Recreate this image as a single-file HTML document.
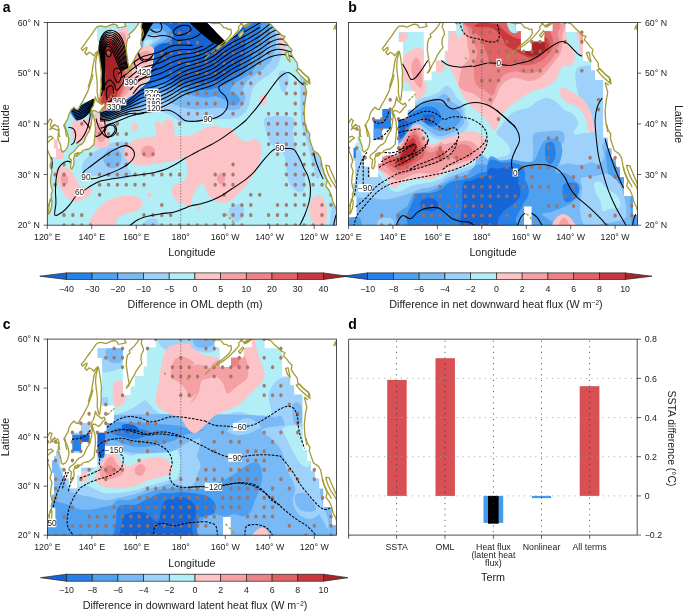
<!DOCTYPE html>
<html><head><meta charset="utf-8"><title>Figure</title>
<style>
html,body{margin:0;padding:0;background:#fff;}
svg{display:block;font-family:"Liberation Sans",sans-serif;fill:#222;}
.tk{font-size:8.8px;}
.ax{font-size:10.75px;}
.pl{font-size:14px;font-weight:bold;fill:#000;}
.cl{font-size:8.2px;}
.fr{fill:none;stroke:#222;stroke-width:0.8;}
.t{stroke:#222;stroke-width:0.7;fill:none;}
.cn{fill:none;stroke:#000;stroke-width:1.05;stroke-linejoin:round;}
.cd{fill:none;stroke:#000;stroke-width:1.05;stroke-dasharray:2.6 1.3;}
.co{fill:none;stroke:#a39c38;stroke-width:1.3;stroke-linejoin:round;}
.dt{fill:#a0705f;fill-opacity:0.85;}
</style></head><body>
<svg width="685" height="612" viewBox="0 0 685 612">
<rect width="685" height="612" fill="#fff"/>

<g>
<clipPath id="clipa"><rect x="47.3" y="22.5" width="289.1" height="202.7"/></clipPath>
<g clip-path="url(#clipa)">
<rect x="47" y="22" width="290" height="204" fill="#b2eef6"/>
<path d="M99.6 112.3 L114 108 L128.8 98 L139 90 L144 86 L150 80 L152.2 68 L154 58 L154.3 48.5 L149 46 L143.4 42 L141.5 35 L142 20 L277.2 20 L280 31.7 L283 43.4 L281.6 55 L277.2 66.7 L268.5 75.5 L265.1 77 L258.1 82.3 L252.9 87.5 L251.1 94.5 L249.3 105 L245.8 112 L238.8 117.3 L230 119 L219.6 119 L209 120.8 L195 121.7 L181 122.6 L170.5 115.6 L160 110.3 L146.3 112.3 L134.6 113.8 L121.5 116.7 L108.4 122.6 L101 121Z" fill="#9ed2fa"/>
<path d="M83 162.6C84.4 159.4 88.3 156.5 91.7 153.8C95.1 151.1 99.5 148.4 103.4 146.5C107.3 144.5 111.2 142.8 115.1 142.1C119 141.4 123.6 141.1 126.8 142.1C129.9 143.1 133.1 145.3 134.1 148C135 150.6 133.8 155.3 132.6 158.2C131.4 161.1 127 163 126.8 165.5C126.5 167.9 131.1 170.6 131.1 172.8C131.1 175 129.4 177.6 126.8 178.6C124.1 179.6 119 179.1 115.1 178.6C111.2 178.1 107.3 176.2 103.4 175.7C99.5 175.2 95.1 176.2 91.7 175.7C88.3 175.2 84.4 175 83 172.8C81.5 170.6 81.5 165.7 83 162.6Z" fill="#9ed2fa"/>
<path d="M229.9 207.9C231.1 206.5 234 205.5 236.1 204.8C238.1 204.1 240.8 202.9 242.2 203.8C243.6 204.6 244.2 207.5 244.2 209.9C244.2 212.3 243.6 216.1 242.2 218.1C240.8 220.1 237.9 222.2 236.1 222.2C234.2 222.2 232.1 219.6 230.9 218.1C229.8 216.6 229.1 214.7 228.9 213C228.7 211.3 228.7 209.2 229.9 207.9Z" fill="#9ed2fa"/>
<path d="M146.1 220.1C148.2 218.3 154.3 217.4 156.4 219.1C158.4 220.8 160.4 228.5 158.4 230.4C156.4 232.2 146.1 232.1 144.1 230.4C142 228.7 144.1 222 146.1 220.1Z" fill="#9ed2fa"/>
<path d="M265.5 117.8C261.2 120.4 265.7 128.8 266.6 133.1C267.6 137.5 269.2 141.5 271 144.1C272.8 146.6 275.4 146.6 277.6 148.5C279.8 150.3 282.7 151.8 284.2 155C285.6 158.3 285.6 163.8 286.4 168.2C287.1 172.6 287.1 177.7 288.5 181.3C290 185 292.9 188.2 295.1 190.1C297.3 191.9 300 193 301.7 192.3C303.3 191.5 304.6 189 305 185.7C305.3 182.4 304.8 176.9 303.9 172.6C303 168.2 300.9 163.8 299.5 159.4C298 155 296.2 150.7 295.1 146.3C294 141.9 293.3 137.9 292.9 133.1C292.6 128.4 297.5 120.4 292.9 117.8C288.4 115.3 269.9 115.3 265.5 117.8Z" fill="#9ed2fa"/>
<path d="M303.9 117.8C304.6 115.3 307.9 114.5 309.3 117.8C310.8 121.1 311 131.3 312.6 137.5C314.3 143.7 317.7 149.6 319.2 155C320.7 160.5 321.8 166.4 321.4 170.4C321 174.4 318.5 180.2 317 179.1C315.5 178 314.1 169.3 312.6 163.8C311.2 158.3 309.5 151.4 308.2 146.3C307 141.2 305.7 137.9 305 133.1C304.2 128.4 303.1 120.4 303.9 117.8Z" fill="#9ed2fa"/>
<path d="M278.7 72.6C279.8 70.2 284.7 70 286.4 71.5C288 72.9 288.9 77.8 288.5 81.3C288.2 84.8 285.6 91.5 284.2 92.3C282.7 93 280.7 89 279.8 85.7C278.9 82.4 277.6 74.9 278.7 72.6Z" fill="#9ed2fa"/>
<path d="M300.6 74.7C301.3 66.4 305 66.4 306.1 74.7C307.2 83.1 307.9 116.7 307.2 125.1C306.4 133.5 302.8 133.5 301.7 125.1C300.6 116.7 299.9 83.1 300.6 74.7Z" fill="#9ed2fa"/>
<path d="M332.3 203.2C333.2 199.9 334.9 203.6 335.6 207.6C336.4 211.6 337.6 224 336.7 227.3C335.8 230.6 330.9 231.3 330.1 227.3C329.4 223.3 331.4 206.5 332.3 203.2Z" fill="#9ed2fa"/>
<path d="M99.6 112.3 L114 108 L128.8 98 L139 90 L144 86 L150 80 L152.2 68 L154 58 L154.3 48.5 L149 46 L143.4 42 L141.5 35 L142 20 L272.8 20 L275.8 34.6 L275.8 49.2 L271.4 60.9 L262.6 69.6 L254.6 75.3 L247.6 80.5 L242.3 89.3 L245.8 96.3 L244.1 103.3 L238.8 109.4 L230 110.3 L219.6 107.7 L209 108.5 L195 109.4 L182.8 107.7 L170.5 103.3 L160 98 L146 106 L134.6 111 L121.5 114.5 L108.4 120.5 L101 119.5Z" fill="#78b9f6"/>
<path d="M103.4 156.7C104 154 106.8 150.6 109.2 149.4C111.7 148.2 115.9 148.2 118 149.4C120 150.6 121.3 154 121.5 156.7C121.7 159.4 121 163.5 119.5 165.5C117.9 167.4 114.4 168.4 112.2 168.4C109.9 168.4 107.2 167.4 105.7 165.5C104.3 163.5 102.8 159.4 103.4 156.7Z" fill="#78b9f6"/>
<path d="M99.6 112.3 L114 108 L128.8 98 L139 90 L144 86 L150 80 L152.2 68 L154 58 L154.3 48.5 L149 46 L143.4 42 L141.5 35 L142 20 L268.5 20 L269.9 34.6 L267 47.7 L259.7 60 L251.1 73.5 L242.3 78.8 L233.6 84 L230 91 L237 94.5 L240.6 99.8 L237 105 L230 105 L224.8 99.8 L216 96.3 L205.5 98 L195 96.3 L182.8 92.8 L170.5 91.9 L160 91 L146 100 L134.6 108 L121.5 112.5 L108.4 118.5 L101 118Z" fill="#50a0f0"/>
<path d="M99.6 112.3 L114 108 L128.8 98 L139 90 L144 86 L150 80 L152.2 68 L154 58 L154.3 48.5 L149 46 L143.4 42 L141.5 35 L142 20 L261.2 20 L259.7 37.5 L255.3 47.7 L250 62 L244.1 73.5 L235.3 78.8 L226.6 84 L217.8 87.5 L209 90.1 L198.5 90.1 L186.3 87.5 L174 85.8 L160 84.5 L146 94 L134.6 104.5 L121.5 110.5 L108.4 116.5 L101 116.5Z" fill="#2580e8"/>
<path d="M69.1 108.4C69.5 105.9 75.5 107.3 78.6 106.2C81.6 105.1 84.8 103.1 87.3 101.8C89.9 100.5 92.5 97.7 93.9 98.1C95.3 98.6 96.5 102.2 95.8 104.7C95.1 107.3 91.6 111.2 89.5 113.5C87.4 115.8 85.4 117.4 83.2 118.6C81.1 119.8 78.7 122.5 76.4 120.8C74 119.1 68.7 110.8 69.1 108.4Z" fill="#2580e8"/>
<path d="M99.6 112.3 L114 108 L128.8 98 L139 90 L144 86 L150 80 L152.2 68 L154 58 L154.3 48.5 L149 46 L143.4 42 L141.5 35 L142 20 L246.6 20 L245.1 31.7 L245 55 L238.8 70 L230 75.3 L217.8 80.5 L205.5 84 L191.5 83.1 L177.5 80.5 L165 78.5 L152 83 L146 90 L134.6 101.5 L121.5 108.5 L108.4 114.5 L101 115Z" fill="#1565d6"/>
<path d="M72 110.5C72.4 108.9 76.8 109.5 79.3 108.4C81.9 107.3 85 105.3 87.3 104C89.6 102.6 92 100.3 93.2 100.3C94.3 100.3 95.1 102.2 94.3 104C93.6 105.8 90.7 109.2 88.8 111.3C86.8 113.3 84.7 115.2 82.7 116.4C80.7 117.6 78.6 119.3 76.8 118.3C75 117.3 71.6 112.2 72 110.5Z" fill="#1565d6"/>
<path d="M150.2 25C152.9 23.3 158.7 23.5 161.9 23.8C165 24.2 166.9 25.6 168.9 27.3C170.8 29.1 173.3 32 173.5 34.4C173.7 36.7 171.6 39.9 170 41.4C168.5 42.8 166.1 42.5 164.2 43.1C162.3 43.7 160.3 43.8 158.4 44.9C156.4 45.9 154.5 48.2 152.5 49.5C150.6 50.9 148.4 52.8 146.7 53C144.9 53.2 142.8 52.6 142 50.7C141.2 48.8 141.4 44.1 142 41.4C142.6 38.6 144.1 37.1 145.5 34.4C146.9 31.6 147.5 26.8 150.2 25Z" fill="#50a0f0"/>
<path d="M149 30.8C151.5 28.7 155.6 28.3 158.4 28.5C161.1 28.7 163.8 30.5 165.4 32C166.9 33.6 168.3 36.3 167.7 37.9C167.1 39.4 164 40.2 161.9 41.4C159.7 42.5 157.2 43.3 154.9 44.9C152.5 46.4 149.8 49.9 147.8 50.7C145.9 51.5 144 51.1 143.2 49.5C142.4 48 142.2 44.5 143.2 41.4C144.1 38.2 146.5 33 149 30.8Z" fill="#78b9f6"/>
<path d="M146.7 36.7C148.5 35.5 152.5 34.4 154.9 34.4C157.2 34.4 160.1 35.7 160.7 36.7C161.3 37.7 159.9 38.8 158.4 40.2C156.8 41.6 153.5 43.3 151.4 44.9C149.2 46.4 146.8 49.1 145.5 49.5C144.2 49.9 143.7 48.6 143.4 47.2C143.1 45.8 143.2 43.1 143.8 41.4C144.3 39.6 144.8 37.9 146.7 36.7Z" fill="#9ed2fa"/>
<path d="M144.3 41.4C145.4 40 148.8 39.6 150.2 39.6C151.5 39.6 152.9 40.3 152.5 41.4C152.1 42.4 149.2 45 147.8 46C146.4 47.1 144.7 48.6 144.1 47.8C143.5 47 143.3 42.7 144.3 41.4Z" fill="#b2eef6"/>
<path d="M101.1 39C102.5 36.5 105.7 36.1 108.4 34.6C111 33.1 114 31.2 117.1 30.2C120.3 29.2 125.4 27.5 127.3 28.8C129.3 30 127.8 35.1 128.8 37.5C129.8 40 131.6 41.8 133.2 43.4C134.8 44.9 135.6 46.6 138.3 47C141 47.4 146.7 45.2 149.2 45.5C151.8 45.9 153 47.1 153.6 49.2C154.2 51.3 153.2 55 152.9 58C152.5 60.9 151.8 64.3 151.4 66.7C151.1 69.1 151.1 70.6 150.7 72.6C150.3 74.5 150.5 76.4 149.2 78.4C148 80.3 145.1 82.3 143.4 84.2C141.7 86.2 140.5 88.4 139 90.1C137.6 91.8 136.3 93.2 134.6 94.5C132.9 95.7 130.7 96.2 128.8 97.4C126.8 98.6 125.4 100 123 101.8C120.5 103.5 118.1 105.9 114.2 107.6C110.3 109.3 102.5 111.2 99.6 112C96.7 112.7 97.2 114 96.7 112.3C96.2 110.6 96.2 105.7 96.7 101.8C97.2 97.8 98.7 92.5 99.6 88.6C100.5 84.7 101.5 81.8 101.8 78.4C102 75 101.5 71.6 101.1 68.2C100.6 64.8 99.1 61.1 98.9 58C98.6 54.8 99.2 52.4 99.6 49.2C100 46 99.6 41.4 101.1 39Z" fill="#fcc4c6"/>
<path d="M93.8 123.3C94.9 119.5 98.6 122.8 100.3 123.3C102 123.8 102.9 124.6 104 126.2C105.1 127.8 105.9 130.5 106.9 132.8C107.9 135.1 109.6 137.9 109.8 140.1C110.1 142.3 109.6 144.7 108.4 145.9C107.1 147.1 105 147.4 102.5 147.4C100.1 147.4 95.2 149.9 93.8 145.9C92.3 141.9 92.7 127.1 93.8 123.3Z" fill="#fcc4c6"/>
<path d="M131.7 124.7C132.2 123.6 133.7 122.6 134.6 122.6C135.6 122.6 137.1 123.6 137.6 124.7C138 125.8 138 128 137.6 129.1C137.1 130.2 135.6 131.3 134.6 131.3C133.7 131.3 132.5 130.2 132 129.1C131.5 128 131.3 125.8 131.7 124.7Z" fill="#fcc4c6"/>
<path d="M155.1 123.3C155.4 121.6 157 121 158 121.1C159 121.2 160.4 122.3 160.9 124C161.4 125.7 161.3 129.6 160.9 131.3C160.5 133 159.6 134.2 158.7 134.2C157.9 134.2 156.4 133.1 155.8 131.3C155.2 129.5 154.7 125 155.1 123.3Z" fill="#fcc4c6"/>
<path d="M162.4 124C163.1 121.6 165 120.1 166.8 119.6C168.5 119.1 171.3 119.6 172.6 121.1C173.9 122.6 174.1 126 174.3 128.4C174.6 130.8 173.4 134 174.1 135.7C174.7 137.4 176.2 138.1 178.4 138.6C180.6 139.1 185.7 136.4 187.2 138.6C188.6 140.8 196.9 149.6 187.2 151.8C177.5 153.9 138.3 153 128.8 151.8C119.3 150.5 129 146.2 130.3 144.5C131.5 142.7 133.9 142.5 136.1 141.5C138.3 140.6 141 139.3 143.4 138.6C145.8 137.9 148.3 137.5 150.7 137.2C153.1 136.8 156 136.9 158 136.4C159.9 135.9 161.6 136.3 162.4 134.2C163.1 132.2 161.6 126.4 162.4 124Z" fill="#fcc4c6"/>
<path d="M133.9 140.4C137.4 138.6 142.7 138.1 146.1 137.4C149.5 136.7 152.3 137.9 154.3 136.4C156.4 134.8 157.9 130.4 158.4 128.2C158.9 126 157 124.1 157.4 123.1C157.7 122 159.6 120.9 160.4 122C161.3 123.2 161.6 129.9 162.5 130.2C163.3 130.6 164.5 125.6 165.5 124.1C166.6 122.6 167.4 120.7 168.6 121C169.8 121.4 171.7 123.9 172.7 126.1C173.7 128.3 173.4 132.6 174.7 134.3C176.1 136 178.2 136.2 180.9 136.4C183.6 136.5 188 136.2 191.1 135.3C194.2 134.5 196.5 132.6 199.3 131.2C202 129.9 204.7 128 207.4 127.2C210.2 126.3 212.9 126 215.6 126.1C218.3 126.3 221.4 128 223.8 128.2C226.2 128.3 227.9 126.1 229.9 127.2C232 128.2 234 132.1 236.1 134.3C238.1 136.5 240.1 139.2 242.2 140.4C244.2 141.6 246.3 141.8 248.3 141.5C250.4 141.1 252.6 138.2 254.5 138.4C256.3 138.6 258.4 140.4 259.6 142.5C260.8 144.5 261.6 147.6 261.6 150.7C261.6 153.7 260.6 157.5 259.6 160.9C258.5 164.3 257 168 255.5 171.1C253.9 174.2 252.2 176.5 250.4 179.3C248.5 182 246.4 184.9 244.2 187.4C242 190 239.5 192.4 237.1 194.6C234.7 196.8 232.5 199.4 229.9 200.7C227.4 202.1 224.5 202.9 221.8 202.8C219 202.6 216 201.2 213.6 199.7C211.2 198.2 209 196 207.4 193.6C205.9 191.2 205.6 186.9 204.4 185.4C203.2 183.9 201.7 183.7 200.3 184.4C198.9 185.1 197.6 187.3 196.2 189.5C194.8 191.7 193 194.9 192.1 197.7C191.3 200.4 191.8 204.3 191.1 205.8C190.4 207.4 189.2 207.2 188 206.9C186.8 206.5 185.6 204.6 183.9 203.8C182.2 202.9 179.7 203.1 177.8 201.8C175.9 200.4 173.7 197.7 172.7 195.6C171.7 193.6 171.2 191.4 171.7 189.5C172.2 187.6 173.7 185.7 175.8 184.4C177.8 183 182.1 183 183.9 181.3C185.8 179.6 186.6 177.1 187 174.2C187.5 171.3 187.1 166.8 186.6 163.9C186.1 161 185.6 157.5 183.9 156.8C182.3 156.1 179.3 159 176.8 159.9C174.2 160.7 171.3 161.4 168.6 161.9C165.9 162.4 163.2 162.6 160.4 162.9C157.7 163.3 154.6 163.6 152.3 163.9C149.9 164.3 149.2 165 146.1 165C143.1 165 137.3 165 133.9 163.9C130.5 162.9 127.2 161.4 125.7 158.8C124.2 156.3 123.3 151.7 124.7 148.6C126 145.5 130.3 142.3 133.9 140.4Z" fill="#fcc4c6"/>
<path d="M147.2 193.6C147.4 192.8 149.5 192.2 150.2 192.6C150.9 192.9 151.5 194.8 151.2 195.6C151 196.4 149.3 197.6 148.6 197.3C147.9 196.9 146.9 194.4 147.2 193.6Z" fill="#fcc4c6"/>
<path d="M197.8 204.8C198.1 204.1 199.4 204.6 199.7 205.4C200 206.3 200 209.2 199.7 209.9C199.4 210.7 198.4 210.8 198 209.9C197.7 209.1 197.6 205.6 197.8 204.8Z" fill="#fcc4c6"/>
<path d="M56.7 168.4C58.1 166.2 62.8 166.2 65.4 166.9C68.1 167.7 70.8 170.3 72.7 172.8C74.7 175.2 75.4 179.1 77.1 181.5C78.8 184 80.5 186.2 83 187.4C85.4 188.6 90.5 187.6 91.7 188.8C92.9 190 91.7 193 90.3 194.7C88.8 196.4 85.6 197.8 83 199.1C80.3 200.3 76.9 202.2 74.2 202C71.5 201.7 69.1 199.8 66.9 197.6C64.7 195.4 62.8 191.8 61.1 188.8C59.4 185.9 57.4 183.5 56.7 180.1C55.9 176.7 55.2 170.6 56.7 168.4Z" fill="#fcc4c6"/>
<path d="M88.8 229.7C85.9 227.3 90.7 219.5 93.2 215.1C95.6 210.7 99.7 206.4 103.4 203.4C107 200.5 111.2 198.8 115.1 197.6C119 196.4 122.9 196.1 126.8 196.1C130.6 196.1 135.8 196.4 138.4 197.6C141.1 198.8 143.1 201.2 142.8 203.4C142.6 205.6 139.6 209 137 210.7C134.3 212.4 129.9 212.4 126.8 213.6C123.6 214.9 120.7 215.4 118 218C115.3 220.7 115.6 227.8 110.7 229.7C105.8 231.7 91.7 232.1 88.8 229.7Z" fill="#fcc4c6"/>
<path d="M148.6 193.2C149.3 193.1 151.3 194 151.6 194.7C151.8 195.3 150.7 196.9 150.1 197C149.5 197.2 148 196.2 147.8 195.5C147.5 194.9 148 193.4 148.6 193.2Z" fill="#fcc4c6"/>
<path d="M53.2 139.2 L61.1 139.2 L61.1 150.9 L53.2 150.9Z" fill="#fcc4c6"/>
<path d="M72.7 131.9 L83 131.9 L83 139.2 L72.7 139.2Z" fill="#fcc4c6"/>
<path d="M93.2 115.8C94.9 113.6 99.5 113.4 101.9 114.4C104.4 115.4 106.8 118.5 107.8 121.7C108.7 124.8 108.7 130.2 107.8 133.4C106.8 136.5 104.1 139.7 101.9 140.7C99.7 141.6 96.3 141.4 94.6 139.2C92.9 137 92 131.4 91.7 127.5C91.5 123.6 91.5 118 93.2 115.8Z" fill="#fcc4c6"/>
<path d="M309.3 207.6C309.5 203.9 311 200.8 312.6 198.8C314.3 196.8 317.2 195.2 319.2 195.5C321.2 195.9 323.4 198.3 324.7 201C325.9 203.8 326.7 208.3 326.9 212C327 215.6 327 220.7 325.8 222.9C324.5 225.1 321.6 225.5 319.2 225.1C316.8 224.7 313.2 223.6 311.5 220.7C309.9 217.8 309.2 211.2 309.3 207.6Z" fill="#fcc4c6"/>
<path d="M278.7 33.1C279.2 30.6 282 29.1 283.1 30.9C284.2 32.8 285.3 40.1 285.3 44.1C285.3 48.1 284 54.7 283.1 55C282.2 55.4 280.5 49.9 279.8 46.3C279.1 42.6 278.1 35.7 278.7 33.1Z" fill="#fcc4c6"/>
<path d="M260.1 96.6C261.1 95.4 264.5 93.7 265.5 94.5C266.6 95.2 267 99.2 266.6 101C266.3 102.8 264.5 105.2 263.4 105.4C262.2 105.6 260.2 103.6 259.6 102.1C259.1 100.7 259.1 97.9 260.1 96.6Z" fill="#fcc4c6"/>
<path d="M72.7 121.5C74.4 120.5 78.8 120.5 81.5 120C84.2 119.5 87.1 118.1 88.8 118.6C90.5 119.1 91.7 120.8 91.7 123C91.7 125.1 90 129 88.8 131.7C87.6 134.4 86.1 137.1 84.4 139C82.7 141 80.3 143.2 78.6 143.4C76.9 143.6 75.3 142.2 74.2 140.5C73.1 138.8 72.5 135.6 72 133.2C71.5 130.7 71.2 127.8 71.3 125.9C71.4 123.9 71 122.5 72.7 121.5Z" fill="#fcc4c6"/>
<path d="M101.8 41.9C103.1 39.8 105.9 38.2 108.4 36.8C110.8 35.3 113.7 33.7 116.4 33.1C119.1 32.5 122.7 31.7 124.4 33.1C126.1 34.6 125.9 38.7 126.6 41.9C127.3 45.1 127.7 49.7 128.8 52.1C129.9 54.5 131.5 56.3 133.2 56.5C134.9 56.7 137.3 54.4 139 53.6C140.7 52.7 141.7 51.8 143.4 51.4C145.1 51 148 50.5 149.2 51.4C150.5 52.2 150.9 54.7 150.7 56.5C150.5 58.3 149 61.1 147.8 62.3C146.6 63.6 144.9 63.8 143.4 63.8C141.9 63.8 140.5 62.1 139 62.3C137.6 62.6 135.9 63.8 134.6 65.3C133.4 66.7 132 68.9 131.7 71.1C131.5 73.3 133.2 76 133.2 78.4C133.2 80.8 132.7 83.3 131.7 85.7C130.7 88.1 129 90.8 127.3 93C125.6 95.2 123.7 96.5 121.5 98.8C119.3 101.2 117.6 105 114.2 107C110.8 109 103.7 110.1 101.1 110.8C98.4 111.5 98.3 114.9 98.1 111.2C98 107.5 99.6 94.1 100.3 88.6C101.1 83.1 102.3 81.8 102.5 78.4C102.8 75 102.3 71.6 101.8 68.2C101.3 64.8 99.8 61.1 99.6 58C99.4 54.8 100 51.9 100.3 49.2C100.7 46.5 100.5 44 101.8 41.9Z" fill="#f4a0a5"/>
<path d="M97.4 123.7C97.9 121 100 123.2 101.1 124C102.2 124.8 103.2 126.4 104 128.4C104.7 130.3 105.6 133.5 105.4 135.7C105.3 137.9 104.5 140.8 103.2 141.5C102 142.3 99.1 143 98.1 140.1C97.2 137.1 96.9 126.4 97.4 123.7Z" fill="#f4a0a5"/>
<path d="M142 148.6C143.1 147.1 146.1 145.5 148.2 145.5C150.2 145.5 153.3 147.1 154.3 148.6C155.3 150.1 155.3 153.2 154.3 154.7C153.3 156.3 150.2 157.8 148.2 157.8C146.1 157.8 143.1 156.3 142 154.7C141 153.2 141 150.1 142 148.6Z" fill="#f4a0a5"/>
<path d="M217.7 175.2C218.8 174 222.6 172.1 223.8 173.1C225 174.2 225.3 179.4 224.8 181.3C224.3 183.2 222 184.5 220.7 184.4C219.5 184.2 217.8 181.8 217.3 180.3C216.7 178.8 216.6 176.4 217.7 175.2Z" fill="#f4a0a5"/>
<path d="M61.1 175.7C61.9 174.4 65.8 174.5 66.9 175.7C68 176.9 68.6 181.7 67.8 183C66.9 184.3 63.1 184.8 61.9 183.6C60.8 182.4 60.2 177 61.1 175.7Z" fill="#f4a0a5"/>
<path d="M96.5 126.6C97.7 124.9 101.6 124 103 125.5C104.5 126.9 105.8 132.8 105.2 135.3C104.7 137.9 101.3 140.8 99.7 140.8C98.2 140.8 96.4 137.7 95.8 135.3C95.3 133 95.3 128.2 96.5 126.6Z" fill="#f4a0a5"/>
<path d="M102.5 43.4C103.7 41.5 106.2 39.6 108.4 38.2C110.5 36.9 113.5 35.6 115.7 35.3C117.8 35.1 120.2 35.2 121.5 36.8C122.8 38.4 123.1 41.8 123.7 44.8C124.3 47.9 124.5 51.9 125.1 55C125.8 58.2 126.7 61.1 127.3 63.8C127.9 66.5 128.8 68.2 128.8 71.1C128.8 74 128.1 78.2 127.3 81.3C126.6 84.5 125.6 87.4 124.4 90.1C123.2 92.7 122 94.7 120 97.4C118.1 100 116.1 103.9 112.7 106.1C109.3 108.3 101.5 113.4 99.6 110.5C97.7 107.6 100.5 94 101.1 88.6C101.7 83.3 103 81.8 103.2 78.4C103.5 75 103 71.6 102.5 68.2C102 64.8 100.6 61.1 100.3 58C100.1 54.8 100.7 51.6 101.1 49.2C101.4 46.8 101.3 45.2 102.5 43.4Z" fill="#ea8286"/>
<path d="M103.2 44.8C104.3 43.2 106.4 40.9 108.4 39.7C110.3 38.5 113.1 37.4 114.9 37.5C116.8 37.6 118.2 38.5 119.3 40.4C120.4 42.4 120.9 46.3 121.5 49.2C122.1 52.1 122.5 55 123 58C123.4 60.9 124.1 63.8 124.4 66.7C124.8 69.6 125.3 72.6 125.1 75.5C125 78.4 124.4 81.3 123.7 84.2C123 87.2 121.9 90.4 120.8 93C119.7 95.6 118.9 97.8 117.1 100C115.3 102.2 112.6 104.9 109.8 106.1C107 107.4 101.7 110.5 100.3 107.6C99 104.7 101.2 93.5 101.8 88.6C102.4 83.7 103.7 81.8 104 78.4C104.2 75 103.7 71.6 103.2 68.2C102.8 64.8 101.3 61.1 101.1 58C100.8 54.8 101.4 51.4 101.8 49.2C102.2 47 102.2 46.4 103.2 44.8Z" fill="#e06264"/>
<path d="M104 46.3C105 44.8 106.8 42.9 108.4 41.9C109.9 40.9 112 40 113.5 40.4C114.9 40.9 116.1 42.6 117.1 44.8C118.1 47 118.7 50.7 119.3 53.6C119.9 56.5 120.3 59.7 120.8 62.3C121.3 65 122 67 122.2 69.6C122.5 72.3 122.5 75.7 122.2 78.4C122 81.1 121.5 83.3 120.8 85.7C120 88.1 118.9 90.6 117.8 93C116.8 95.4 115.8 98.2 114.2 100C112.6 101.8 110.4 103.2 108.4 103.9C106.3 104.7 102.6 107.2 101.8 104.7C100.9 102.1 102.8 93 103.2 88.6C103.7 84.2 104.6 81.8 104.7 78.4C104.8 75 104.5 71.6 104 68.2C103.5 64.8 102 60.9 101.8 58C101.5 55 102.2 52.6 102.5 50.7C102.9 48.7 103 47.7 104 46.3Z" fill="#c8383c"/>
<path d="M103.2 49.2C104 47.4 105.6 46 106.9 45.5C108.2 45.1 110.1 45.2 111.3 46.3C112.5 47.4 113.3 49.7 114.2 52.1C115 54.5 115.8 58.2 116.4 60.9C117 63.6 117.5 65.7 117.8 68.2C118.2 70.6 118.7 73 118.6 75.5C118.5 77.9 117.8 80.3 117.1 82.8C116.4 85.2 115.4 87.9 114.2 90.1C113 92.3 111 94.5 109.8 95.9C108.6 97.4 107.9 99.3 106.9 98.8C105.9 98.3 104.2 95.7 104 93C103.7 90.3 105.2 86.2 105.4 82.8C105.7 79.4 105.7 75.7 105.4 72.6C105.2 69.4 104.5 66.5 104 63.8C103.5 61.1 102.6 58.9 102.5 56.5C102.4 54.1 102.5 51 103.2 49.2Z" fill="#a82428"/>
<path d="M97.4 28 L117.8 28 L116.4 31.7 L108.4 35.3 L101.1 39.7 L97.4 40.4Z" fill="#b2eef6"/>
<path d="M47.3 114.7 L64.3 114.7 L64.3 148.5 L62.5 155 L56.7 156.7 L47.3 156.7Z" fill="#fff"/>
<path d="M53.8 139.2 L57.8 139.2 L57.8 148.5 L63.7 148.5 L63.7 159.1 L56.1 159.1 L56.1 148.5 L53.8 148.5Z" fill="#fcc4c6"/>
<path d="M55.8 22.9 L96.7 22.9 L96.7 28 L97.4 40.4 L99.3 43.4 L99.3 68.2 L100.3 78.4 L98.9 90.1 L97.4 101.8 L55.8 101.8Z" fill="#fff"/>
<path d="M55.1 184.3v0.7M55.1 174.2v0.7M64 224.9v0.7M64 214.7v0.7M64 184.3v0.7M64 174.2v0.7M64 164.1v0.7M72.9 224.9v0.7M72.9 214.7v0.7M81.8 224.9v0.7M81.8 214.7v0.7M81.8 123.5v0.7M90.7 224.9v0.7M90.7 153.9v0.7M90.7 103.2v0.7M99.6 194.5v0.7M99.6 184.3v0.7M99.6 174.2v0.7M99.6 133.6v0.7M108.5 184.3v0.7M108.5 174.2v0.7M108.5 164.1v0.7M108.5 153.9v0.7M108.5 133.6v0.7M108.5 52.6v0.7M117.4 184.3v0.7M117.4 174.2v0.7M117.4 164.1v0.7M117.4 153.9v0.7M117.4 143.8v0.7M117.4 133.6v0.7M117.4 123.5v0.7M117.4 113.4v0.7M126.3 184.3v0.7M126.3 174.2v0.7M126.3 164.1v0.7M126.3 153.9v0.7M126.3 143.8v0.7M126.3 133.6v0.7M126.3 113.4v0.7M135.1 184.3v0.7M135.1 174.2v0.7M135.1 113.4v0.7M144 224.9v0.7M144 214.7v0.7M144 184.3v0.7M144 174.2v0.7M144 153.9v0.7M152.9 224.9v0.7M152.9 214.7v0.7M152.9 174.2v0.7M152.9 153.9v0.7M161.8 224.9v0.7M161.8 214.7v0.7M161.8 204.6v0.7M161.8 174.2v0.7M161.8 52.6v0.7M170.7 224.9v0.7M170.7 214.7v0.7M170.7 174.2v0.7M170.7 72.8v0.7M170.7 62.7v0.7M170.7 52.6v0.7M170.7 42.4v0.7M170.7 32.3v0.7M170.7 22.1v0.7M179.6 224.9v0.7M179.6 174.2v0.7M179.6 123.5v0.7M179.6 83v0.7M179.6 72.8v0.7M179.6 62.7v0.7M179.6 52.6v0.7M179.6 42.4v0.7M179.6 32.3v0.7M179.6 22.1v0.7M188.5 224.9v0.7M188.5 113.4v0.7M188.5 103.2v0.7M188.5 93.1v0.7M188.5 83v0.7M188.5 72.8v0.7M188.5 62.7v0.7M188.5 52.6v0.7M188.5 42.4v0.7M188.5 32.3v0.7M197.4 224.9v0.7M197.4 113.4v0.7M197.4 103.2v0.7M197.4 93.1v0.7M197.4 83v0.7M197.4 72.8v0.7M197.4 62.7v0.7M197.4 52.6v0.7M197.4 42.4v0.7M206.3 224.9v0.7M206.3 113.4v0.7M206.3 103.2v0.7M206.3 93.1v0.7M206.3 83v0.7M206.3 72.8v0.7M206.3 62.7v0.7M206.3 52.6v0.7M215.2 224.9v0.7M215.2 184.3v0.7M215.2 174.2v0.7M215.2 103.2v0.7M215.2 93.1v0.7M215.2 83v0.7M215.2 72.8v0.7M215.2 62.7v0.7M215.2 52.6v0.7M215.2 32.3v0.7M224.1 224.9v0.7M224.1 214.7v0.7M224.1 194.5v0.7M224.1 184.3v0.7M224.1 174.2v0.7M224.1 83v0.7M224.1 72.8v0.7M224.1 62.7v0.7M224.1 52.6v0.7M233 224.9v0.7M233 214.7v0.7M233 204.6v0.7M233 184.3v0.7M233 174.2v0.7M233 164.1v0.7M233 113.4v0.7M233 103.2v0.7M233 93.1v0.7M233 83v0.7M233 72.8v0.7M233 62.7v0.7M233 52.6v0.7M233 42.4v0.7M241.9 224.9v0.7M241.9 214.7v0.7M241.9 204.6v0.7M241.9 103.2v0.7M241.9 93.1v0.7M241.9 83v0.7M241.9 72.8v0.7M241.9 62.7v0.7M241.9 52.6v0.7M241.9 42.4v0.7M250.8 214.7v0.7M250.8 204.6v0.7M250.8 194.5v0.7M250.8 83v0.7M250.8 72.8v0.7M250.8 62.7v0.7M250.8 52.6v0.7M250.8 42.4v0.7M250.8 32.3v0.7M259.7 194.5v0.7M259.7 72.8v0.7M259.7 62.7v0.7M259.7 52.6v0.7M259.7 42.4v0.7M259.7 32.3v0.7M268.6 224.9v0.7M268.6 214.7v0.7M268.6 143.8v0.7M268.6 133.6v0.7M268.6 123.5v0.7M268.6 113.4v0.7M268.6 52.6v0.7M268.6 42.4v0.7M268.6 32.3v0.7M277.5 224.9v0.7M277.5 214.7v0.7M277.5 204.6v0.7M277.5 153.9v0.7M277.5 143.8v0.7M277.5 133.6v0.7M277.5 123.5v0.7M277.5 113.4v0.7M286.4 224.9v0.7M286.4 214.7v0.7M286.4 204.6v0.7M286.4 184.3v0.7M286.4 174.2v0.7M286.4 164.1v0.7M286.4 143.8v0.7M286.4 133.6v0.7M286.4 123.5v0.7M286.4 113.4v0.7M286.4 93.1v0.7M286.4 83v0.7M295.3 224.9v0.7M295.3 204.6v0.7M295.3 194.5v0.7M295.3 184.3v0.7M295.3 174.2v0.7M295.3 164.1v0.7M295.3 143.8v0.7M295.3 133.6v0.7M295.3 123.5v0.7M295.3 113.4v0.7M295.3 103.2v0.7M295.3 93.1v0.7M295.3 83v0.7M304.2 224.9v0.7M304.2 204.6v0.7M304.2 194.5v0.7M304.2 184.3v0.7M304.2 174.2v0.7M304.2 164.1v0.7M304.2 153.9v0.7M304.2 143.8v0.7M304.2 133.6v0.7M304.2 123.5v0.7M304.2 113.4v0.7M304.2 103.2v0.7M304.2 93.1v0.7M304.2 83v0.7M313.1 224.9v0.7M313.1 184.3v0.7M313.1 174.2v0.7M313.1 164.1v0.7M313.1 153.9v0.7M322 224.9v0.7M322 214.7v0.7M322 204.6v0.7M322 184.3v0.7M322 164.1v0.7M330.9 204.6v0.7M330.9 194.5v0.7" stroke="#a0705f" stroke-opacity="0.9" stroke-width="3.3" stroke-linecap="round" fill="none"/>
<path d="M180.7 22V226" stroke="#555" stroke-width="0.6" stroke-dasharray="1.5 1.5" fill="none"/>
<path class="cn" d="M100 121.1C101.7 120.9 106.7 121 110 120.2C113.3 119.4 116.7 117.6 120 116.5C123.3 115.4 126.7 113.9 130 113.5C133.3 113.1 136.6 114.6 140 114.1C143.4 113.6 147 111.7 150.5 110.6C154 109.5 157.5 108.8 161 107.4C164.5 106 168 104.2 171.5 102.2C175 100.3 178.5 97.5 182 95.7C185.5 94 189.1 92.9 192.6 91.7C196.1 90.5 199.5 89.5 203 88.3C206.5 87.1 210.1 86.3 213.6 84.7C217.1 83.1 220.5 80.8 224 78.7C227.5 76.6 231.1 74 234.6 72C238.1 70 240.8 69.1 245 66.8C249.2 64.5 255.8 60.5 260 58C264.2 55.4 267 53 270 51.5C273 50 275.3 49.4 278 49.2C280.7 49 283.7 50 286 50.5C288.3 51 291 51.8 292 52"/>
<path class="cn" d="M100 119.8C101.7 119.6 106.7 119.4 110 118.5C113.3 117.6 116.7 115.8 120 114.6C123.3 113.4 126.7 112 130 111.2C133.3 110.5 136.6 111 140 110.2C143.4 109.5 147 107.9 150.5 106.7C154 105.6 157.5 105 161 103.6C164.5 102.2 168 100.3 171.5 98.4C175 96.4 178.5 93.6 182 91.9C185.5 90.1 189.1 89.1 192.6 87.9C196.1 86.6 199.5 85.7 203 84.4C206.5 83.2 210.1 82.3 213.6 80.6C217.1 78.9 220.5 76.5 224 74.3C227.5 72.1 231.1 69.6 234.6 67.6C238.1 65.6 240.8 64.7 245 62.4C249.2 60.1 255.8 56.2 260 53.6C264.2 51 267 48.5 270 46.9C273 45.3 275.3 44.5 278 44.2C280.7 43.9 283.7 44.7 286 45C288.3 45.3 291 45.8 292 46"/>
<path class="cn" d="M100 118.6C101.7 118.3 106.7 117.8 110 116.8C113.3 115.8 116.7 114 120 112.7C123.3 111.4 126.7 110 130 109C133.3 108 136.6 107.4 140 106.4C143.4 105.4 147 104 150.5 102.9C154 101.8 157.5 101.1 161 99.7C164.5 98.3 168 96.5 171.5 94.5C175 92.5 178.5 89.8 182 88C185.5 86.2 189.1 85.2 192.6 84C196.1 82.8 199.5 81.9 203 80.6C206.5 79.3 210.1 78.3 213.6 76.5C217.1 74.7 220.5 72.1 224 69.9C227.5 67.7 231.1 65.2 234.6 63.2C238.1 61.2 240.8 60.3 245 58C249.2 55.7 255.8 51.8 260 49.2C264.2 46.6 267 44 270 42.3C273 40.6 275.3 39.7 278 39.2C280.7 38.7 283.7 39.4 286 39.5C288.3 39.6 291 39.9 292 40"/>
<path class="cn" d="M100 117.3C101.7 116.9 106.7 116.2 110 115.1C113.3 114 116.7 112.1 120 110.8C123.3 109.4 126.7 108.1 130 106.7C133.3 105.4 136.6 103.8 140 102.5C143.4 101.3 147 100.2 150.5 99C154 97.9 157.5 97.2 161 95.9C164.5 94.5 168 92.6 171.5 90.7C175 88.7 178.5 85.9 182 84.2C185.5 82.4 189.1 81.4 192.6 80.2C196.1 78.9 199.5 78 203 76.7C206.5 75.5 210.1 74.3 213.6 72.4C217.1 70.5 220.5 67.8 224 65.5C227.5 63.2 231.1 60.8 234.6 58.8C238.1 56.8 240.8 55.9 245 53.6C249.2 51.3 255.8 47.4 260 44.8C264.2 42.1 267 39.5 270 37.7C273 35.9 275.3 34.8 278 34.2C280.7 33.6 283.7 34 286 34C288.3 34 291 34 292 34"/>
<path class="cn" d="M100 116C101.7 115.6 106.7 114.6 110 113.4C113.3 112.2 116.7 110.3 120 108.8C123.3 107.4 126.7 106.2 130 104.5C133.3 102.8 136.6 100.2 140 98.7C143.4 97.1 147 96.3 150.5 95.2C154 94.1 157.5 93.4 161 92C164.5 90.6 168 88.8 171.5 86.8C175 84.9 178.5 82 182 80.3C185.5 78.5 189.1 77.5 192.6 76.3C196.1 75.1 199.5 74.2 203 72.9C206.5 71.6 210.1 70.3 213.6 68.3C217.1 66.3 220.5 63.4 224 61.1C227.5 58.8 231.1 56.4 234.6 54.4C238.1 52.4 240.8 51.5 245 49.2C249.2 46.9 255.8 43.1 260 40.4C264.2 37.7 267 35 270 33.1C273 31.2 276.7 29.9 278 29.2"/>
<path class="cn" d="M100 114.8C101.7 114.3 106.7 113 110 111.7C113.3 110.4 116.7 108.5 120 106.9C123.3 105.3 126.7 104.3 130 102.2C133.3 100.2 136.6 96.7 140 94.9C143.4 93 147 92.5 150.5 91.3C154 90.2 157.5 89.5 161 88.1C164.5 86.8 168 84.9 171.5 83C175 81 178.5 78.2 182 76.4C185.5 74.7 189.1 73.7 192.6 72.5C196.1 71.2 199.5 70.4 203 69C206.5 67.7 210.1 66.3 213.6 64.2C217.1 62.1 220.5 59.1 224 56.7C227.5 54.3 231.1 52 234.6 50C238.1 48 240.8 47.1 245 44.8C249.2 42.5 255.8 38.7 260 36C264.2 33.3 267 30.5 270 28.5C273 26.5 276.7 24.9 278 24.2"/>
<path class="cn" d="M100 113.5C101.7 112.9 106.7 111.4 110 110C113.3 108.6 116.7 106.7 120 105C123.3 103.3 126.7 102.3 130 100C133.3 97.7 136.6 93.1 140 91C143.4 88.9 147 88.6 150.5 87.5C154 86.4 157.5 85.7 161 84.3C164.5 82.9 168 81 171.5 79.1C175 77.1 178.5 74.3 182 72.6C185.5 70.8 189.1 69.8 192.6 68.6C196.1 67.4 199.5 66.6 203 65.2C206.5 63.8 210.1 62.3 213.6 60.1C217.1 58 220.5 54.7 224 52.3C227.5 49.9 231.1 47.6 234.6 45.6C238.1 43.6 240.8 42.7 245 40.4C249.2 38.1 255.8 34.4 260 31.6C264.2 28.9 268.3 25.2 270 23.9"/>
<path class="cn" d="M133 94C134.2 92.6 137.1 87.5 140 85.5C142.9 83.5 147 83.1 150.5 82C154 80.9 157.5 80.2 161 78.8C164.5 77.4 168 75.4 171.5 73.6C175 71.8 178.5 69.5 182 68C185.5 66.5 189.1 65.9 192.6 64.8C196.1 63.6 199.5 62.8 203 61.3C206.5 59.9 210.1 58.2 213.6 56C217.1 53.8 220.5 50.4 224 47.9C227.5 45.4 231.1 43.2 234.6 41.2C238.1 39.2 240.8 38.3 245 36C249.2 33.7 257.5 28.7 260 27.2"/>
<path class="cn" d="M130 90C131.7 88.3 136.6 82.2 140 80C143.4 77.8 147 77.6 150.5 76.5C154 75.4 157.5 74.7 161 73.3C164.5 71.9 168 69.7 171.5 68.1C175 66.4 178.5 64.6 182 63.4C185.5 62.2 189.1 61.9 192.6 60.9C196.1 59.9 199.5 59 203 57.5C206.5 56 210.1 54.2 213.6 51.9C217.1 49.6 220.5 46 224 43.5C227.5 41 231.1 38.8 234.6 36.8C238.1 34.8 240.8 33.9 245 31.6C249.2 29.3 257.5 24.3 260 22.8"/>
<path class="cn" d="M127 86C129.2 84.1 136.1 77 140 74.5C143.9 72 147 72.1 150.5 71C154 69.9 157.5 69.2 161 67.8C164.5 66.4 168 64.1 171.5 62.6C175 61.1 178.5 59.7 182 58.8C185.5 57.9 189.1 57.9 192.6 57.1C196.1 56.2 199.5 55.2 203 53.7C206.5 52.1 210.1 50.2 213.6 47.8C217.1 45.4 222.3 40.5 224 39.1"/>
<path class="cn" d="M124 82C126.7 79.8 135.6 71.8 140 69C144.4 66.3 147 66.6 150.5 65.5C154 64.4 157.5 63.7 161 62.3C164.5 60.9 168 58.4 171.5 57.1C175 55.7 178.5 54.8 182 54.2C185.5 53.5 189.1 53.9 192.6 53.2C196.1 52.5 199.5 51.4 203 49.8C206.5 48.2 211.8 44.7 213.6 43.7"/>
<path class="cn" d="M121 78C124.2 75.6 135.1 66.5 140 63.5C144.9 60.5 147 61.1 150.5 60C154 58.9 157.5 58.2 161 56.8C164.5 55.4 168 52.8 171.5 51.6C175 50.4 178.5 50 182 49.6C185.5 49.2 189.1 50 192.6 49.3C196.1 48.7 201.3 46.5 203 45.9"/>
<path class="cn" d="M118 74C121.7 71.3 134.6 61.2 140 58C145.4 54.7 147 55.6 150.5 54.5C154 53.4 157.5 52.7 161 51.3C164.5 49.9 168 47.1 171.5 46.1C175 45 178.5 45.1 182 45C185.5 44.9 190.8 45.4 192.6 45.5"/>
<path class="cn" d="M100.5 128C100.8 128 101.2 128.2 102.5 127.7C103.8 127.2 106.5 126.1 108.4 125.2C110.4 124.4 111.8 123.6 114.2 122.6C116.6 121.5 119.8 120.1 123 118.9C126.2 117.7 129.8 116.4 133.2 115.3C136.6 114.2 140 113.2 143.4 112.6C146.8 112 150.4 111.8 153.6 111.5C156.8 111.2 160.2 110.8 162.4 110.6C164.6 110.4 165.1 109.9 166.8 110.1C168.5 110.3 170.7 110.7 172.6 111.6C174.5 112.5 176.3 113.8 178.4 115.3C180.5 116.8 182.2 119.4 185 120.4C187.8 121.4 191.7 121.5 195.5 121.3C199.3 121.1 204.3 119.9 207.7 119.3C211.1 118.7 213.3 118.8 215.9 117.8C218.5 116.8 221.2 115.4 223.2 113.4C225.2 111.5 227.1 108.8 227.6 106.1C228.1 103.4 227.3 99.8 226.1 97.4C224.9 95 221.5 93.2 220.3 91.5C219.1 89.8 218.1 88.5 218.8 87C219.5 85.5 221.8 84.5 224.7 82.8C227.6 81.1 232.5 79.1 236.4 76.9C240.3 74.7 244.1 72 248 69.6C251.9 67.2 255.8 64.5 259.7 62.3C263.6 60.1 267.5 57.8 271.4 56.5C275.3 55.2 279.7 54.5 283.1 54.5C286.5 54.5 289.9 55.7 291.8 56.5C293.7 57.3 294.2 58.9 294.7 59.4"/>
<path class="cn" d="M99.6 90.1C99.5 88.1 99.3 82.8 99.3 78.4C99.3 74 99.7 68.7 99.6 63.8C99.5 58.9 98.6 53.6 98.9 49.2C99.1 44.8 99.7 40.6 101.1 37.5C102.4 34.5 104.5 31.9 106.9 30.9C109.3 30 113.1 30.3 115.7 31.7C118.2 33 120.6 36.1 122.2 39C123.8 41.9 124.3 45.8 125.1 49.2C125.9 52.6 126.6 56.3 127 59.4C127.5 62.6 127.5 66.7 127.6 68.2"/>
<path class="cn" d="M100.2 90.1C100.1 88.1 99.9 82.8 99.9 78.4C99.9 74 100.2 68.6 100.2 63.8C100.1 59 99.3 53.9 99.5 49.7C99.7 45.5 100.3 41.6 101.5 38.7C102.8 35.9 104.7 33.5 107 32.6C109.2 31.7 112.7 32.1 115.1 33.5C117.5 34.8 119.7 37.8 121.3 40.6C122.8 43.4 123.4 47.2 124.2 50.5C125 53.8 125.7 57.2 126.1 60.2C126.6 63.2 126.7 67.1 126.9 68.4"/>
<path class="cn" d="M100.7 90.1C100.7 88.1 100.4 82.8 100.4 78.4C100.4 74 100.8 68.5 100.7 63.8C100.7 59.1 99.9 54.1 100.2 50.2C100.4 46.2 100.9 42.6 102 40C103.2 37.3 105 35.1 107.1 34.3C109.1 33.5 112.3 33.9 114.5 35.2C116.7 36.6 118.8 39.5 120.3 42.2C121.7 45 122.4 48.7 123.2 51.8C124 54.9 124.7 58.2 125.2 61C125.7 63.8 126 67.4 126.1 68.7"/>
<path class="cn" d="M101.3 90.1C101.2 88.1 101 82.8 101 78.4C101 74 101.3 68.4 101.3 63.8C101.3 59.2 100.6 54.4 100.8 50.7C101 46.9 101.5 43.6 102.5 41.2C103.6 38.7 105.2 36.7 107.1 36C109 35.3 111.9 35.7 114 37C116 38.3 117.9 41.2 119.3 43.8C120.7 46.5 121.4 50.1 122.2 53.1C123.1 56.1 123.8 59.2 124.3 61.8C124.8 64.5 125.2 67.7 125.3 68.9"/>
<path class="cn" d="M101.9 90.1C101.8 88.1 101.5 82.8 101.5 78.4C101.5 74 101.9 68.3 101.9 63.8C101.9 59.3 101.3 54.7 101.5 51.1C101.7 47.6 102 44.6 103 42.4C104 40.1 105.5 38.2 107.2 37.6C109 37 111.5 37.5 113.4 38.8C115.2 40.1 117 42.9 118.3 45.5C119.6 48.1 120.4 51.5 121.3 54.4C122.1 57.3 122.9 60.2 123.4 62.7C124 65.1 124.4 68.1 124.6 69.1"/>
<path class="cn" d="M102.4 90.1C102.4 88.1 102.1 82.8 102.1 78.4C102.1 74 102.4 68.3 102.4 63.8C102.4 59.3 101.9 55 102.1 51.6C102.3 48.3 102.6 45.7 103.5 43.6C104.4 41.5 105.7 39.8 107.3 39.3C108.9 38.8 111.1 39.3 112.8 40.6C114.5 41.9 116.1 44.6 117.4 47.1C118.6 49.6 119.4 53 120.3 55.7C121.1 58.4 121.9 61.2 122.5 63.5C123.1 65.8 123.6 68.4 123.8 69.4"/>
<path class="cn" d="M103 90.1C102.9 88.1 102.6 82.8 102.6 78.4C102.6 74 103 68.2 103 63.8C103 59.4 102.6 55.3 102.8 52.1C102.9 49 103.2 46.7 104 44.8C104.7 43 106 41.4 107.4 41C108.8 40.6 110.8 41.1 112.3 42.4C113.8 43.7 115.2 46.3 116.4 48.7C117.6 51.1 118.4 54.4 119.3 57C120.2 59.6 121 62.2 121.6 64.3C122.2 66.4 122.8 68.7 123.1 69.6"/>
<path class="cn" d="M103.6 90.1C103.5 88.1 103.2 82.8 103.2 78.4C103.2 74 103.5 68.1 103.6 63.8C103.6 59.5 103.3 55.6 103.4 52.6C103.6 49.6 103.8 47.7 104.5 46C105.1 44.4 106.3 43 107.5 42.6C108.7 42.3 110.4 42.9 111.7 44.2C113 45.5 114.3 48 115.4 50.3C116.5 52.7 117.5 55.8 118.3 58.3C119.2 60.7 120 63.2 120.7 65.1C121.3 67 122 69.1 122.3 69.9"/>
<path class="cn" d="M104.1 90.1C104.1 88.1 103.7 82.8 103.7 78.4C103.7 74 104.1 68 104.1 63.8C104.2 59.6 103.9 55.8 104.1 53.1C104.2 50.3 104.4 48.7 105 47.3C105.5 45.8 106.5 44.5 107.5 44.3C108.6 44.1 110 44.7 111.1 46C112.3 47.2 113.4 49.7 114.4 52C115.5 54.2 116.5 57.3 117.4 59.6C118.2 61.9 119.1 64.1 119.8 65.9C120.5 67.7 121.2 69.4 121.5 70.1"/>
<path class="cn" d="M104.7 90.1C104.6 88.1 104.3 82.8 104.3 78.4C104.3 74 104.6 67.9 104.7 63.8C104.8 59.7 104.6 56.1 104.7 53.6C104.8 51 105 49.7 105.4 48.5C105.9 47.2 106.8 46.1 107.6 46C108.5 45.9 109.6 46.5 110.5 47.7C111.5 49 112.5 51.4 113.5 53.6C114.4 55.8 115.5 58.7 116.4 60.9C117.3 63.1 118.1 65.1 118.9 66.7C119.6 68.3 120.5 69.8 120.8 70.4"/>
<path class="cn" d="M106.2 51.4C106.5 50.4 108.2 49.7 109.1 49.9C109.9 50.2 111.2 51.8 111.3 52.8C111.4 53.9 110.5 56 109.8 56.5C109.1 57 107.5 56.6 106.9 55.8C106.3 54.9 105.8 52.4 106.2 51.4Z"/>
<path class="cn" d="M114.2 69.6C115 68.7 117.4 67.7 118.6 68.2C119.8 68.7 121.1 70.9 121.5 72.6C121.9 74.3 121.4 76.7 120.8 78.4C120.2 80.1 118.8 82.8 117.8 82.8C116.9 82.8 115.7 79.9 114.9 78.4C114.2 76.9 113.6 75.5 113.5 74C113.3 72.6 113.3 70.6 114.2 69.6Z"/>
<path class="cn" d="M106.9 88.6C107.6 86.4 110.2 85.5 111.3 85.7C112.4 85.9 113.2 88.1 113.5 90.1C113.7 92 113.3 95.4 112.7 97.4C112.1 99.3 110.8 101.5 109.8 101.8C108.8 102 107.4 101 106.9 98.8C106.4 96.6 106.2 90.8 106.9 88.6Z"/>
<path class="cn" d="M101.1 95.9C101.8 94 104 86.9 105.4 84.2C106.9 81.6 108.4 79.9 109.8 79.9C111.3 79.9 113.1 82.5 114.2 84.2C115.3 85.9 115.4 89.6 116.4 90.1C117.4 90.6 118.8 88.6 120 87.2C121.3 85.7 123 83.3 123.7 81.3C124.4 79.4 124.3 76.4 124.4 75.5"/>
<path class="cn" d="M133.2 58.7C133.4 59.5 133.8 62 134.6 63.8C135.5 65.6 135.6 68.9 138.3 69.6C141 70.4 147.9 69.1 150.7 68.2C153.5 67.2 153.4 65.5 155.1 63.8C156.8 62.1 159 59.9 160.9 58C162.9 56 165.8 53.1 166.8 52.1"/>
<path class="cn" d="M124.4 84.2C125.5 83.9 128.8 82.8 131 82C133.2 81.3 135.2 80.7 137.6 79.9C139.9 79 142.7 78.2 144.9 76.9C147 75.7 148.7 74 150.7 72.6C152.6 71.1 155.6 68.9 156.5 68.2"/>
<path class="cn" d="M138.3 48.5C138.4 49.6 138.2 53.2 139 55C139.9 56.9 141.7 58.8 143.4 59.4C145.1 60 147.5 59.5 149.2 58.7C150.9 57.8 152.9 55 153.6 54.3"/>
<path class="cn" d="M69.8 109.1C71.3 108.7 75.7 108 78.6 106.9C81.5 105.8 84.8 103.9 87.3 102.5C89.9 101.2 92.8 99.5 93.9 98.9"/>
<path class="cn" d="M70.6 110.5C72.1 110.1 76.3 109.4 79.1 108.3C81.9 107.2 85 105.2 87.5 103.8C90 102.4 92.9 100.4 94 99.7"/>
<path class="cn" d="M71.5 111.8C72.8 111.5 77 110.8 79.7 109.6C82.4 108.5 85.3 106.6 87.7 105.1C90.1 103.6 93 101.3 94.1 100.5"/>
<path class="cn" d="M72.3 113.2C73.6 112.8 77.6 112.1 80.2 111C82.8 109.9 85.6 108 87.9 106.4C90.2 104.7 93.1 102.2 94.2 101.3"/>
<path class="cn" d="M73.1 114.6C74.4 114.2 78.3 113.5 80.8 112.4C83.3 111.2 85.8 109.3 88.1 107.6C90.3 105.9 93.2 103.1 94.3 102.2"/>
<path class="cn" d="M73.9 115.9C75.2 115.6 78.9 114.9 81.3 113.7C83.7 112.6 86.1 110.7 88.2 108.9C90.4 107.1 93.3 104 94.4 103"/>
<path class="cn" d="M74.7 117.3C75.9 116.9 79.6 116.3 81.9 115.1C84.1 113.9 86.3 112.1 88.4 110.2C90.5 108.3 93.4 104.9 94.5 103.8"/>
<path class="cn" d="M75.6 118.7C76.7 118.3 80.2 117.7 82.4 116.5C84.6 115.3 86.6 113.4 88.6 111.5C90.6 109.5 93.6 105.8 94.5 104.6"/>
<path class="cn" d="M76.4 120C77.5 119.7 80.9 119.1 83 117.8C85 116.6 86.8 114.8 88.8 112.7C90.7 110.7 93.7 106.7 94.6 105.4"/>
<path class="cn" d="M68.4 127.3C69.2 127.6 72.3 127.6 73.5 128.8C74.7 130 75.5 132.4 75.7 134.6C75.8 136.8 74.9 140.2 74.2 141.9C73.5 143.6 71.8 144.4 71.3 144.9"/>
<path class="cn" d="M88.8 106.9C89 108.1 90.3 111.5 90.3 114.2C90.3 116.9 89.5 120 88.8 123C88.1 125.9 87.1 129 85.9 131.7C84.7 134.4 83.1 137.1 81.5 139C79.9 141 77.2 142.7 76.4 143.4"/>
<path class="cn" d="M96.1 118.6C96.3 119.5 96.8 122.5 97.6 124.4C98.3 126.4 99.5 128.6 100.5 130.3C101.4 132 102.2 133.4 103.4 134.6C104.6 135.9 106.3 137.6 107.8 137.6C109.2 137.6 110.9 135.9 112.2 134.6C113.4 133.4 114.8 131.7 115.1 130.3C115.3 128.8 114.6 126.7 113.6 125.9C112.6 125 110.5 124.9 109.2 125.1C108 125.4 107 126.2 106.3 127.3C105.6 128.4 105.1 131 104.9 131.7"/>
<path class="cn" d="M104.7 128.4C104.2 129.7 104.3 131.4 104.7 132.8C105.1 134.1 105.6 135.9 106.9 136.4C108.2 136.9 111.2 136.5 112.7 135.7C114.3 134.8 115.9 132.9 116.4 131.3C116.9 129.7 116.3 127.5 115.7 126.2C115 124.9 114.1 123.5 112.7 123.3C111.4 123 109 123.9 107.6 124.7C106.3 125.6 105.2 127.1 104.7 128.4Z"/>
<path class="cn" d="M83 172.8C83.9 170.7 88.3 168.2 91.7 165.5C95.1 162.8 99.5 159.4 103.4 156.7C107.3 154 111.4 151.3 115.1 149.4C118.7 147.6 122.4 145.6 125.3 145.6C128.2 145.6 131.1 147.6 132.6 149.4C134.1 151.3 134.8 154.3 134.1 156.7C133.3 159.1 130.9 161.8 128.2 164C125.5 166.2 121.6 168.1 118 169.9C114.3 171.7 110.2 173.4 106.3 174.8C102.4 176.3 98 178.1 94.6 178.6C91.2 179.1 87.8 178.7 85.9 177.7C83.9 176.8 82 174.8 83 172.8Z"/>
<path class="cn" d="M73.5 163.8C72.4 163.4 69.3 160.6 66.9 161.2C64.5 161.7 61 164.5 59.2 167.1C57.5 169.7 57 173.1 56.4 176.9C55.8 180.8 55.6 185.7 55.5 190.1C55.4 194.5 56.1 199 55.9 203.2C55.8 207.4 53.8 213.8 54.9 215.3C55.9 216.7 60.1 213.6 62.5 212C64.9 210.3 67.1 207.8 69.1 205.4C71.1 203 73.1 199.7 74.6 197.7C76 195.7 76.2 194.6 77.8 193.4C79.5 192.1 82.2 191.4 84.4 190.1C86.6 188.8 88.4 187.2 91 185.7C93.5 184.2 96.5 182.4 99.7 181.3C103 180.2 107 179.8 110.7 179.1C114.3 178.5 118 177.9 121.6 177.4C125.3 176.8 128.9 176.4 132.6 175.8C136.2 175.3 139.9 174.9 143.5 174.3C147.2 173.8 150.8 173.4 154.5 172.6C158.1 171.7 161.8 170.7 165.4 169.3C169.1 167.8 173.1 165.6 176.4 163.8C179.7 162 182 160.1 185.1 158.3C188.2 156.5 193.4 153.8 195 152.8"/>
<path class="cn" d="M195 152.9C196 152.4 198.6 151 201.3 149.6C204.1 148.2 208.1 146.4 211.5 144.5C214.9 142.7 218.3 140.6 221.8 138.4C225.2 136.2 228.9 133.5 232 131.2C235 129 237.8 127 240.1 125.1C242.5 123.2 245.3 120.9 246.3 120"/>
<path class="cn" d="M246.3 119.9C248 117.8 253.6 111.6 256.8 107.6C260 103.6 262.9 99.6 265.5 95.9C268.2 92.3 270.4 88.9 272.8 85.7C275.3 82.5 277.7 79.1 280.1 76.9C282.6 74.7 285.3 72.8 287.4 72.6C289.6 72.3 291.3 74 293.3 75.5C295.2 76.9 297.4 79.8 299.1 81.3C300.8 82.9 302.8 84.2 303.5 84.8"/>
<path class="cn" d="M128.2 226.8C129.9 225.6 134.8 221.3 138.4 219.5C142.1 217.6 146.2 216.7 150.1 215.7C154 214.7 157.9 214.2 161.8 213.6C165.7 213.1 170.1 212.9 173.5 212.2C176.9 211.5 179.3 210.3 182.2 209.3C185.1 208.2 188.1 206.6 191 205.8C193.9 204.9 196.3 204.9 199.7 204C203.2 203.1 207.5 202.1 211.4 200.5C215.3 199 219.7 196.6 223.1 194.7C226.5 192.7 228.2 191.3 231.9 188.8C235.5 186.4 242.8 181.5 245 180.1"/>
<path class="cn" d="M245 180C246.4 178.8 250.6 175.6 253.5 172.6C256.4 169.5 259.3 165.1 262.3 161.6C265.2 158.1 268.6 153.9 271 151.8C273.4 149.6 273.9 149 276.5 148.5C279.1 147.9 283.4 148.3 286.4 148.5C289.3 148.6 291.8 147.9 294 149.6C296.2 151.2 297.8 155.2 299.5 158.3C301.1 161.4 302.4 165.1 303.9 168.2C305.3 171.3 307.2 173.6 308.2 176.9C309.3 180.2 310.3 183.9 310.4 187.9C310.6 191.9 310.3 196.6 309.3 201C308.4 205.4 306.6 210 305 214.2C303.3 218.4 300.4 224.2 299.5 226.2"/>
<path class="cn" d="M313.7 152.8C314.1 154.3 315 158.7 315.9 161.6C316.8 164.5 318 167.4 319.2 170.4C320.4 173.3 322.5 177.7 323.1 179.1"/>
<path class="cn" d="M333.4 226.2C333.8 224.6 334.9 218.7 335.6 216.4C336.4 214 337.4 212.7 337.8 212"/>
<path class="cn" d="M51.6 157.2C51.7 158.3 52.2 161.8 52.2 163.8C52.2 165.8 51.7 168.4 51.6 169.3"/>
<path class="cn" d="M83.3 120C84.2 121.1 87.3 124.4 88.8 126.6C90.3 128.8 90.8 131.5 92.1 133.1C93.4 134.8 94.8 136.4 96.5 136.4C98.1 136.4 100.5 134.8 101.9 133.1C103.4 131.5 104.9 128.8 105.2 126.6C105.6 124.4 104.3 121.1 104.1 120"/>
<path class="cn" d="M150.2 29.1C151 29.6 153.1 31.7 154.9 32C156.6 32.3 159.5 31.8 160.7 30.8C161.9 29.9 162 27.5 161.9 26.2C161.8 24.8 160.4 23.3 160.1 22.7"/>
<path class="cn" d="M147.8 35.5C148.8 35.7 151.4 36.7 153.7 36.7C156 36.7 159.1 35.5 161.9 35.5C164.6 35.5 167.5 35.9 170 36.7C172.6 37.5 174.3 39.7 177 40.2C179.8 40.7 183.3 40.2 186.4 39.6C189.5 39 193.4 37.8 195.7 36.7C198.1 35.6 199.6 34.7 200.4 33.2C201.2 31.6 200.8 29.1 200.4 27.3C200 25.6 198.5 23.5 198.1 22.7"/>
<path class="cn" d="M173.5 30.8C174.4 29.6 177 27.1 179.4 26.2C181.7 25.3 185.6 25 187.6 25.6C189.5 26.2 191.3 28.4 191.1 29.7C190.9 30.9 188.5 32.2 186.4 33.2C184.2 34.2 180.3 35.4 178.2 35.5C176.2 35.6 174.9 34.5 174.1 33.8C173.3 33 172.7 32.1 173.5 30.8Z"/>
<path class="cn" d="M138.5 47.2C138.6 48.8 138.3 54.2 139.1 56.5C139.9 58.9 141.5 60.6 143.2 61.2C144.8 61.8 147.5 60.8 149 60C150.6 59.3 151.9 57.1 152.5 56.5"/>
<path d="M45.1 17.4 L125 17.4 L125 22.5 L124.7 24.1 L126 26.1 L123.9 26.9 L120.9 27.4 L117.8 27.7 L117.3 25.6 L115.2 24.3 L112.7 24.1 L109.1 25.6 L105.5 27.2 L101.4 25.9 L97.9 26.3 L95.8 28.2 L93.3 31.8 L90.2 36.4 L87.1 40.4 L84.1 45 L81.2 48.4 L82.5 50.7 L85.1 48.1 L86.9 47.4 L86.6 49.6 L84.6 52.5 L86.6 54.7 L89.2 52.2 L91.7 53.7 L93.8 55.8 L95.8 52.7 L97.6 51.3 L96.5 54.7 L94.3 58.8 L93.3 63.9 L92.2 71.1 L91.2 77.2 L89.7 82 L88.1 87.4 L92.9 74.5 L91.9 79.1 L89.8 85.2 L87.8 91.4 L85.7 95.4 L83.2 100.5 L80.6 104.6 L78.1 109.7 L76 109.2 L74 107.2 L70.9 110.3 L68.9 114.3 L67.8 118.9 L65.3 123 L63.7 125.6 L65.3 129.2 L65.8 133.2 L66.8 137 L45.1 137ZM64.3 124 L65.8 129.1 L67.8 134.2 L68.9 140.3 L67.8 146.5 L65.8 150 L62.7 152.1 L61.2 150 L60.7 145.4 L59.1 141.4 L57.6 137.3 L59.1 134.2 L58.1 130.1 L55 129.1 L52 128.1 L49.9 129.6 L53 126 L55 124 L45.1 124 L45.1 124ZM45.1 137.3 L47.7 137.3 L51 136.2 L53.2 138.1 L49.9 140.3 L47.9 142.6 L47.7 150.5 L49.9 155.7 L51.5 160.8 L49.9 165.9 L52 171 L51 176.1 L50.4 182.2 L51.5 187.3 L52.5 190.4 L51.2 194.5 L51.5 198.1 L49.9 202.2 L47.7 206.8 L45.1 230.3ZM98 51.2 L97.1 54.7 L95.8 60.9 L95.5 67 L96.1 73.1 L96.9 79.3 L97.3 85.4 L97.1 91.5 L98 97.7 L99.2 100.7 L100 97.7 L100.6 91.5 L101.2 85.4 L101 79.3 L101.4 73.1 L100.6 66 L99.6 58.8 L98.8 53.7ZM95.4 97 L96.5 100.5 L99.5 103.1 L102.1 104.6 L104.1 103.1 L105.2 105.7 L102.6 107.7 L101.1 110.3 L98.5 112.8 L95.4 110.8 L92.9 110.3 L91.9 112.8 L93.4 115.4 L91.9 115.9 L90.8 112.8 L91.4 108.7 L93.4 105.7 L94.4 101.6ZM92.7 115.3 L93.9 117.8 L94.9 121.9 L95.4 129.1 L94.9 135.2 L94.4 140.3 L93.9 144.4 L91.9 146.5 L88.8 149 L85.7 149.5 L82.7 150.5 L81.6 152.6 L79.6 153.1 L78.1 152.6 L77.5 154.6 L74.5 155.7 L73.5 158.7 L74 161.8 L73.5 165.9 L71.9 168.9 L70.6 167.9 L70.9 163.8 L71.4 159.7 L68.9 157.7 L69.4 155.1 L71.9 153.1 L74.5 151.1 L76.5 148 L79.1 145.4 L82.2 143.9 L84.2 141.4 L85.7 137.3 L87.3 134.2 L89.3 131.1 L90.3 128.1 L91.4 123 L91.7 118.9ZM74.5 154.1 L77.5 152.8 L79.1 154.1 L76.5 156.2 L74.5 155.7ZM50.5 198.7 L52 200.7 L51.6 206.8 L50.1 211.9 L48.5 214.2 L48.9 208.9 L49.4 202.7ZM238.5 35.3 L242.6 30.7 L243.6 32.3 L240.1 37.4ZM244.2 27.2 L247.2 24.6 L250.3 23.9 L246.2 26.6ZM285.4 52.7 L288 52.2 L290 61.9 L287.4 58.8ZM296.1 70.1 L299.2 69.1 L303.3 73.6 L309.4 78.8 L309.9 83.9 L306.9 81.3 L300.2 75.2ZM209.4 17.4 L209.4 22.5 L214.5 23.6 L219.6 23.1 L221.7 25.1 L223.7 27.7 L226.8 28.2 L228.3 29.7 L230.9 29.2 L231.4 33.3 L229.3 36.9 L226.3 39.9 L222.7 43 L218.6 46.1 L216 48.6 L217.1 49.6 L220.6 46.8 L224.7 44 L228.8 40.4 L232.9 36.4 L236 32.8 L239 29.2 L238.5 26.6 L240.6 24.6 L242.6 22.5 L242.6 17.4ZM239.9 17.4 L239.9 23.1 L244 25.9 L247 24.1 L251.1 23.1 L252.2 22.5 L252.2 17.4ZM266 17.4 L266 22.5 L270.6 24.1 L274.7 28.7 L278.8 32.3 L281.8 35.3 L284.9 36.4 L283.4 39.9 L286.9 43.5 L289 46.6 L292 49.6 L291 53.7 L294.1 58.8 L297.2 62.9 L297.7 68 L301.3 71.1 L305.3 75.2 L308.4 77.2 L308.6 82 L307.8 85.3 L304.7 82.8 L304.2 83.3 L305.7 88.4 L306.7 92.5 L305.2 100.7 L304.2 110.9 L304.7 121.1 L306.7 132 L305.7 124.5 L307.2 130.1 L309.8 134.2 L309.3 138.3 L311.3 144.4 L313.4 150.5 L318 153.6 L320.5 157.7 L322.1 165.9 L322.1 167 L324.1 174.1 L327.2 181.3 L325.7 185.9 L329.2 190.5 L331.8 196.6 L332.8 201.7 L335.4 206.8 L336.6 210.9 L338.6 210.9 L338.6 17.4ZM139.3 17.4 L139.3 22.5 L137.2 25.6 L134.2 29.7 L131.1 32.8 L129.1 34.3 L129.9 36.9 L127.5 38.9 L126.5 43.5 L126.2 49.6 L127 55.8 L128 62.9 L129.1 68 L127.8 70.3 L126.2 73.1 L128 71.6 L129.9 67.8 L131.1 65 L134.2 59.9 L136.2 55.3 L139.3 50.7 L141.8 47.6 L140.8 43.5 L141.3 38.4 L143.4 34.3 L142.6 30.2 L141.1 27.2 L141.5 24.6 L142.1 22.5 L142.1 17.4Z" fill="#fff"/>
<path d="M206 22 L246 22 L240 30 L232 38 L224.5 43 L221 38 L213 29Z" fill="#fff"/>
<path d="M189 22 L206.5 22 L216 32 L226 42 L223 46.5 L213 43 L203 35 L194 27Z" fill="#000"/>
<path d="M142.2 22.4C144 20.8 151.2 21.6 152.5 22.4C153.9 23.3 151.4 25.5 150.4 27.3C149.5 29.2 148 31.6 146.9 33.8C145.8 35.9 144.6 39.1 143.6 40.2C142.7 41.3 141.7 41.8 141.4 40.4C141.1 39.1 141.6 35 141.8 32C141.9 29 140.5 24 142.2 22.4Z" fill="#000"/>
<path class="co" d="M125 22.5 L124.7 24.1 L126 26.1 L123.9 26.9 L120.9 27.4 L117.8 27.7 L117.3 25.6 L115.2 24.3 L112.7 24.1 L109.1 25.6 L105.5 27.2 L101.4 25.9 L97.9 26.3 L95.8 28.2 L93.3 31.8 L90.2 36.4 L87.1 40.4 L84.1 45 L81.2 48.4 L82.5 50.7 L85.1 48.1 L86.9 47.4 L86.6 49.6 L84.6 52.5 L86.6 54.7 L89.2 52.2 L91.7 53.7 L93.8 55.8 L95.8 52.7 L97.6 51.3 L96.5 54.7 L94.3 58.8 L93.3 63.9 L92.2 71.1 L91.2 77.2 L89.7 82 L88.1 87.4"/>
<path class="co" d="M98 51.2 L97.1 54.7 L95.8 60.9 L95.5 67 L96.1 73.1 L96.9 79.3 L97.3 85.4 L97.1 91.5 L98 97.7 L99.2 100.7 L100 97.7 L100.6 91.5 L101.2 85.4 L101 79.3 L101.4 73.1 L100.6 66 L99.6 58.8 L98.8 53.7Z"/>
<path class="co" d="M139.3 22.5 L137.2 25.6 L134.2 29.7 L131.1 32.8 L129.1 34.3 L129.9 36.9 L127.5 38.9 L126.5 43.5 L126.2 49.6 L127 55.8 L128 62.9 L129.1 68 L127.8 70.3 L126.2 73.1 L128 71.6 L129.9 67.8 L131.1 65 L134.2 59.9 L136.2 55.3 L139.3 50.7 L141.8 47.6 L140.8 43.5 L141.3 38.4 L143.4 34.3 L142.6 30.2 L141.1 27.2 L141.5 24.6 L142.1 22.5"/>
<path class="co" d="M92.9 74.5 L91.9 79.1 L89.8 85.2 L87.8 91.4 L85.7 95.4 L83.2 100.5 L80.6 104.6 L78.1 109.7 L76 109.2 L74 107.2 L70.9 110.3 L68.9 114.3 L67.8 118.9 L65.3 123 L63.7 125.6 L65.3 129.2 L65.8 133.2 L66.8 137"/>
<path class="co" d="M47.7 123 L49.9 118.9 L52 120.5 L50.4 125.1 L51.5 128.1 L54 125.1 L58.1 126.1 L59.1 130.2 L58.1 134.3 L60.2 137"/>
<path class="co" d="M95.4 97 L96.5 100.5 L99.5 103.1 L102.1 104.6 L104.1 103.1 L105.2 105.7 L102.6 107.7 L101.1 110.3 L98.5 112.8 L95.4 110.8 L92.9 110.3 L91.9 112.8 L93.4 115.4 L91.9 115.9 L90.8 112.8 L91.4 108.7 L93.4 105.7 L94.4 101.6Z"/>
<path class="co" d="M107.2 101.1 L109.3 98.7"/>
<path class="co" d="M110.3 97.7 L112.1 95.9"/>
<path class="co" d="M112.9 95.2 L114.4 94"/>
<path class="co" d="M64.3 124 L65.8 129.1 L67.8 134.2 L68.9 140.3 L67.8 146.5 L65.8 150 L62.7 152.1 L61.2 150 L60.7 145.4 L59.1 141.4 L57.6 137.3 L59.1 134.2 L58.1 130.1 L55 129.1 L52 128.1 L49.9 129.6 L53 126 L55 124"/>
<path class="co" d="M92.7 115.3 L93.9 117.8 L94.9 121.9 L95.4 129.1 L94.9 135.2 L94.4 140.3 L93.9 144.4 L91.9 146.5 L88.8 149 L85.7 149.5 L82.7 150.5 L81.6 152.6 L79.6 153.1 L78.1 152.6 L77.5 154.6 L74.5 155.7 L73.5 158.7 L74 161.8 L73.5 165.9 L71.9 168.9 L70.6 167.9 L70.9 163.8 L71.4 159.7 L68.9 157.7 L69.4 155.1 L71.9 153.1 L74.5 151.1 L76.5 148 L79.1 145.4 L82.2 143.9 L84.2 141.4 L85.7 137.3 L87.3 134.2 L89.3 131.1 L90.3 128.1 L91.4 123 L91.7 118.9Z"/>
<path class="co" d="M74.5 154.1 L77.5 152.8 L79.1 154.1 L76.5 156.2 L74.5 155.7Z"/>
<path class="co" d="M47.7 137.3 L51 136.2 L53.2 138.1 L49.9 140.3 L47.9 142.6"/>
<path class="co" d="M47.7 150.5 L49.9 155.7 L51.5 160.8 L49.9 165.9 L52 171 L51 176.1 L50.4 182.2 L51.5 187.3 L52.5 190.4 L51.2 194.5 L51.5 198.1 L49.9 202.2 L47.7 206.8"/>
<path class="co" d="M50.5 198.7 L52 200.7 L51.6 206.8 L50.1 211.9 L48.5 214.2 L48.9 208.9 L49.4 202.7Z"/>
<path class="co" d="M209.4 22.5 L214.5 23.6 L219.6 23.1 L221.7 25.1 L223.7 27.7 L226.8 28.2 L228.3 29.7 L230.9 29.2 L231.4 33.3 L229.3 36.9 L226.3 39.9 L222.7 43 L218.6 46.1 L216 48.6 L217.1 49.6 L220.6 46.8 L224.7 44 L228.8 40.4 L232.9 36.4 L236 32.8 L239 29.2 L238.5 26.6 L240.6 24.6 L242.6 22.5"/>
<path class="co" d="M238.5 35.3 L242.6 30.7 L243.6 32.3 L240.1 37.4Z"/>
<path class="co" d="M215 49.8 L210.9 53.2"/>
<path class="co" d="M209.9 54.2 L207.8 55.8 L206.3 57.6 L205.3 59.3"/>
<path class="co" d="M244.2 27.2 L247.2 24.6 L250.3 23.9 L246.2 26.6Z"/>
<path class="co" d="M163.9 57.7 L165.7 59"/>
<path class="co" d="M186.3 63.4 L188.9 64.5"/>
<path class="co" d="M239.9 23.1 L244 25.9 L247 24.1 L251.1 23.1 L252.2 22.5"/>
<path class="co" d="M266 22.5 L270.6 24.1 L274.7 28.7 L278.8 32.3 L281.8 35.3 L284.9 36.4 L283.4 39.9 L286.9 43.5 L289 46.6 L292 49.6 L291 53.7 L294.1 58.8 L297.2 62.9 L297.7 68 L301.3 71.1 L305.3 75.2 L308.4 77.2 L308.6 82"/>
<path class="co" d="M285.4 52.7 L288 52.2 L290 61.9 L287.4 58.8Z"/>
<path class="co" d="M296.1 70.1 L299.2 69.1 L303.3 73.6 L309.4 78.8 L309.9 83.9 L306.9 81.3 L300.2 75.2Z"/>
<path class="co" d="M307.8 85.3 L304.7 82.8 L304.2 83.3 L305.7 88.4 L306.7 92.5 L305.2 100.7 L304.2 110.9 L304.7 121.1 L306.7 132"/>
<path class="co" d="M305.7 124.5 L307.2 130.1 L309.8 134.2 L309.3 138.3 L311.3 144.4 L313.4 150.5 L318 153.6 L320.5 157.7 L322.1 165.9 L324.1 173 L327.2 180.2 L329.7 184.3 L331.3 187"/>
<path class="co" d="M322.1 167 L324.1 174.1 L327.2 181.3 L325.7 185.9 L329.2 190.5 L331.8 196.6 L332.8 201.7 L335.4 206.8 L336.6 210.9"/>
<path class="co" d="M325.7 164.9 L326.2 168 L328.2 174.1 L331.3 180.3 L335.4 186.4 L336.6 189.5"/>
<path class="co" d="M325.7 164.9 L326.4 165.4 L329.2 166 L329.7 168 L332.3 174.1 L335.4 181.3 L336.6 184.4"/>
<path class="co" d="M225.3 213.7 L227.5 215.5"/>
<path class="co" d="M228.8 217.2 L230.6 219"/>
<path class="co" d="M231.9 220.7 L234.5 223.8"/>
<path class="co" d="M333.5 29.6 L335.5 25 L336 30.1"/>
<rect x="137.1" y="67.5" width="14" height="8" fill="#fff"/>
<text x="144.1" y="74.5" class="cl" text-anchor="middle">420</text>
<rect x="124" y="78.4" width="14" height="8" fill="#fff"/>
<text x="131" y="85.4" class="cl" text-anchor="middle">390</text>
<rect x="112.3" y="97.4" width="14" height="8" fill="#fff"/>
<text x="119.3" y="104.4" class="cl" text-anchor="middle">360</text>
<rect x="106.5" y="102.5" width="14" height="8" fill="#fff"/>
<text x="113.5" y="109.5" class="cl" text-anchor="middle">330</text>
<rect x="144.4" y="88.6" width="14" height="8" fill="#fff"/>
<text x="151.4" y="95.6" class="cl" text-anchor="middle">270</text>
<rect x="146.6" y="93" width="14" height="8" fill="#fff"/>
<text x="153.6" y="100" class="cl" text-anchor="middle">240</text>
<rect x="146.6" y="96.7" width="14" height="8" fill="#fff"/>
<text x="153.6" y="103.7" class="cl" text-anchor="middle">210</text>
<rect x="146.6" y="100.3" width="14" height="8" fill="#fff"/>
<text x="153.6" y="107.3" class="cl" text-anchor="middle">180</text>
<rect x="146.6" y="104.2" width="14" height="8" fill="#fff"/>
<text x="153.6" y="111.2" class="cl" text-anchor="middle">120</text>
<rect x="202.9" y="115.3" width="9.5" height="8" fill="#fff"/>
<text x="207.7" y="122.3" class="cl" text-anchor="middle">90</text>
<rect x="81.2" y="173.2" width="9.5" height="8" fill="#fff"/>
<text x="85.9" y="180.2" class="cl" text-anchor="middle">90</text>
<rect x="74.8" y="188.3" width="9.5" height="8" fill="#fff"/>
<text x="79.5" y="195.3" class="cl" text-anchor="middle">60</text>
<rect x="275.1" y="144" width="9.5" height="8" fill="#fff"/>
<text x="279.8" y="151" class="cl" text-anchor="middle">60</text>
</g>
<rect class="fr" x="47.3" y="22.5" width="289.1" height="202.7"/>
<path class="t" d="M47.3 225.2v3.8"/>
<text x="47.3" y="240.4" class="tk" text-anchor="middle">120° E</text>
<path class="t" d="M91.8 225.2v3.8"/>
<text x="91.8" y="240.4" class="tk" text-anchor="middle">140° E</text>
<path class="t" d="M136.3 225.2v3.8"/>
<text x="136.3" y="240.4" class="tk" text-anchor="middle">160° E</text>
<path class="t" d="M180.7 225.2v3.8"/>
<text x="180.7" y="240.4" class="tk" text-anchor="middle">180°</text>
<path class="t" d="M225.2 225.2v3.8"/>
<text x="225.2" y="240.4" class="tk" text-anchor="middle">160° W</text>
<path class="t" d="M269.7 225.2v3.8"/>
<text x="269.7" y="240.4" class="tk" text-anchor="middle">140° W</text>
<path class="t" d="M314.2 225.2v3.8"/>
<text x="314.2" y="240.4" class="tk" text-anchor="middle">120° W</text>
<path class="t" d="M47.3 22.5h-3.8"/>
<text x="39.8" y="25.6" class="tk" text-anchor="end">60° N</text>
<path class="t" d="M47.3 73.2h-3.8"/>
<text x="39.8" y="76.3" class="tk" text-anchor="end">50° N</text>
<path class="t" d="M47.3 123.9h-3.8"/>
<text x="39.8" y="127" class="tk" text-anchor="end">40° N</text>
<path class="t" d="M47.3 174.5h-3.8"/>
<text x="39.8" y="177.6" class="tk" text-anchor="end">30° N</text>
<path class="t" d="M47.3 225.2h-3.8"/>
<text x="39.8" y="228.3" class="tk" text-anchor="end">20° N</text>
</g>
<g>
<clipPath id="clipb"><rect x="348.5" y="22.5" width="288.9" height="202.7"/></clipPath>
<g clip-path="url(#clipb)">
<clipPath id="covb"><path d="M456.7 22 L515.8 22 L515.8 31.2 L520.7 31.2 L520.7 51.3 L531.9 51.3 L531.9 41.7 L544.7 41.7 L544.7 31.2 L552.8 31.2 L552.8 22 L565.5 22 L565.5 32 L583 32 L583 60.9 L591 60.9 L591 70.5 L595 70.5 L595 80.1 L603.1 80.1 L603.1 137.8 L607.7 137.8 L607.7 148.5 L611.3 148.5 L611.3 158.7 L615.9 158.7 L615.9 166.9 L620 166.9 L620 177.2 L624 177.2 L624 196.1 L632.7 196.1 L632.7 215 L637.5 215 L637.5 226 L348 226 L348.3 217.2 L356.7 217.2 L356.7 196.6 L353 196.6 L353 183.5 L355.3 183.5 L355.3 160.6 L353.2 160.6 L353.2 147.8 L355.3 147.8 L355.3 143.2 L357.3 143.2 L357.3 138.2 L361.3 138.2 L361.3 155.5 L363.9 155.5 L363.9 166.8 L370 166.8 L370 177 L378.2 177 L378.2 163.7 L382.3 163.7 L382.3 155.5 L398.5 155.5 L398.5 119.3 L407.8 119.3 L407.8 109.8 L415 109.8 L415.1 91.2 L403 91.2 L403 41.9 L398.6 41.9 L398.6 32 L423.8 32 L423.8 80.2 L431.5 80.2 L431.5 71.5 L435.9 71.5 L435.9 60.5 L444.6 60.5 L444.6 50.7 L447.9 50.7 L447.9 31 L456.7 31ZM382.2 109.1 L391 109.1 L391 128.8 L382.2 128.8 L382.2 139.7 L373.5 139.7 L373.5 119.3 L382.2 119.3Z"/></clipPath>
<g clip-path="url(#covb)">
<rect x="348" y="22" width="290" height="204" fill="#b2eef6"/>
<path d="M340.6 148.8C343.5 134.9 351.9 144.7 358.1 148.8C364.3 152.8 373.3 167 377.8 172.8C382.4 178.7 382.8 180.7 385.5 183.8C388.2 186.9 391.5 190.4 394.3 191.5C397 192.6 399.2 191.3 401.9 190.4C404.7 189.5 407.8 187.1 410.7 186C413.6 184.9 416.5 184.3 419.5 183.8C422.4 183.2 425.3 183.2 428.2 182.7C431.1 182.2 434.4 181.4 437 180.5C439.5 179.6 441.4 178.5 443.5 177.2C445.7 175.9 447.6 174.1 450.1 172.8C452.7 171.6 455.6 170.7 458.9 169.6C462.2 168.5 466.5 167.6 469.8 166.3C473.1 165 475.7 163 478.6 161.9C481.5 160.8 484.1 160.4 487.3 159.7C490.6 159 494.3 158.6 498.3 157.5C502.3 156.4 507.8 156.1 511.4 153.1C515.1 150.2 496.8 142.2 520.2 140C543.5 137.8 629.7 124.7 651.6 140C673.5 155.3 703.4 216.6 651.6 232C599.7 247.3 392.4 245.8 340.6 232C288.8 218.1 337.7 162.6 340.6 148.8Z" fill="#9ed2fa"/>
<path d="M475.3 168.1C476.1 165 476.9 164.4 480 163.4C483.1 162.5 489.7 163 494 162.3C498.3 161.5 503 160.9 505.7 158.8C508.4 156.6 510.8 152.5 510.4 149.4C510 146.3 505.7 142.8 503.4 140.1C501 137.3 496.7 135.4 496.4 133.1C496 130.7 498.7 129.2 501 126.1C503.4 122.9 507.3 117.1 510.4 114.4C513.5 111.7 516.6 110.9 519.7 109.7C522.8 108.5 525.9 108.9 529.1 107.4C532.2 105.8 535.3 101.9 538.4 100.4C541.5 98.8 544.6 97.6 547.7 98C550.9 98.4 554.4 100.8 557.1 102.7C559.8 104.6 561.4 107.8 564.1 109.7C566.8 111.7 571.1 112 573.4 114.4C575.8 116.7 578.1 120.6 578.1 123.7C578.1 126.8 574.2 129.2 573.4 133.1C572.7 137 571.9 143.8 573.4 147.1C575 150.4 580 152.5 582.8 152.9C585.5 153.3 588.2 151.6 589.8 149.4C591.3 147.3 592.1 143.2 592.1 140.1C592.1 137 590.9 134.6 589.8 130.7C588.6 126.8 586.7 121 585.1 116.7C583.6 112.4 581.6 108.9 580.4 105C579.3 101.1 578.9 97.3 578.1 93.4C577.3 89.5 575.8 86 575.8 81.7C575.8 77.4 573.8 70 578.1 67.7C582.4 65.3 597.2 63.4 601.5 67.7C605.7 71.9 603 85.2 603.8 93.4C604.6 101.5 605 108.9 606.1 116.7C607.3 124.5 604.6 129.2 610.8 140.1C617 151 666.1 175.1 643.5 182.1C620.9 189.1 503.4 184.5 475.3 182.1C447.3 179.8 474.5 171.2 475.3 168.1Z" fill="#9ed2fa"/>
<path d="M395 109.8C397 103.4 404.1 110.9 407.3 109.8C410.5 108.6 411.9 104.7 414.3 102.8C416.6 100.9 418.6 99.6 421.3 98.4C423.9 97.2 427.1 96.8 430 95.8C433 94.7 436.5 93.7 438.8 92.3C441.1 90.8 442.6 88 444.1 87C445.5 86 446.1 85.5 447.6 86.1C449 86.7 451.4 88.6 452.8 90.5C454.3 92.4 454.7 95.5 456.3 97.5C457.9 99.6 461 100.7 462.4 102.8C463.9 104.8 464.5 107.4 465.1 109.8C465.7 112.1 465.4 114.5 465.9 116.8C466.5 119.1 468.7 121.5 468.6 123.8C468.4 126.1 466.8 129.1 465.1 130.8C463.3 132.6 460.4 133.1 458.1 134.3C455.7 135.5 453.7 136.9 451.1 137.8C448.4 138.7 445.2 139.6 442.3 139.6C439.4 139.6 435.9 138.7 433.5 137.8C431.2 136.9 430 135.5 428.3 134.3C426.5 133.1 424.8 132 423 130.8C421.3 129.6 419.5 127.6 417.8 127.3C416 127 414.3 127.3 412.5 129.1C410.8 130.8 408.9 135.2 407.3 137.8C405.7 140.4 404.9 143.1 402.9 144.8C400.8 146.6 396.3 154.2 395 148.3C393.7 142.5 393 116.2 395 109.8Z" fill="#9ed2fa"/>
<path d="M340.6 192.6C343.5 186.8 352.6 196.4 358.1 197.4C363.7 198.3 370 197.9 374.1 198.2C378.2 198.6 379.7 199.6 382.9 199.6C386.1 199.6 389.7 199 393.2 198.2C396.6 197.5 400.2 196.2 403.5 195.2C406.8 194.2 409.9 193.2 412.9 192.1C415.9 191 418.7 189.5 421.6 188.6C424.6 187.8 427.5 187.9 430.4 187.1C433.3 186.3 436.6 185.1 439.2 183.8C441.7 182.5 443.5 180.7 445.7 179.4C447.9 178.1 449.7 177.2 452.3 176.1C454.9 175 458.1 173.9 461.1 172.8C464 171.8 466.9 170.8 469.8 169.6C472.7 168.3 475.7 166.3 478.6 165.2C481.5 164.1 484.1 163.5 487.3 163C490.6 162.4 493.5 162.4 498.3 161.9C503 161.4 510.3 159.3 515.8 159.7C521.3 160.1 508.5 161.9 531.1 164.1C553.8 166.3 631.5 161.5 651.6 172.8C671.6 184.2 703.4 222.1 651.6 232C599.7 241.8 392.4 238.5 340.6 232C288.8 225.4 337.7 198.3 340.6 192.6Z" fill="#78b9f6"/>
<path d="M533.7 134.2C536.1 131.2 543.1 131.7 547.7 131.2C552.4 130.7 558.9 129.7 561.8 131.2C564.6 132.7 565.1 137 564.6 140.1C564 143.1 560.1 145.5 558.2 149.4C556.4 153.3 554.9 159.5 553.6 163.4C552.2 167.3 553 171.2 550.1 172.8C547.2 174.3 539 174.3 536.1 172.8C533.1 171.2 533 167.3 532.6 163.4C532.1 159.5 533.1 154.3 533.3 149.4C533.5 144.5 531.3 137.3 533.7 134.2Z" fill="#78b9f6"/>
<path d="M475.3 163.4C478.4 143.9 488.8 163.5 494 163C499.3 162.4 503.4 160 506.9 159.9C510.4 159.8 511.7 161.7 515 162.3C518.3 162.8 523.2 162.5 526.7 163.4C530.2 164.4 532.2 166.9 536.1 168.1C540 169.3 546.2 170.8 550.1 170.4C554 170 556.3 166.9 559.4 165.8C562.5 164.6 565.6 163.4 568.8 163.4C571.9 163.4 575 165.8 578.1 165.8C581.2 165.8 584.3 164.6 587.4 163.4C590.6 162.3 594.5 161.5 596.8 158.8C599.1 156 599.9 150.2 601.5 147.1C603 144 604.6 140.1 606.1 140.1C607.7 140.1 608.5 142.4 610.8 147.1C613.1 151.8 614.7 162.3 620.1 168.1C625.6 173.9 639.6 163.4 643.5 182.1C647.4 200.8 671.5 263.9 643.5 280.2C615.5 296.6 503.4 299.7 475.3 280.2C447.3 260.8 472.2 183 475.3 163.4Z" fill="#78b9f6"/>
<path d="M395 112.4C397 107 404.1 113.4 407.3 112.4C410.5 111.4 411.9 108 414.3 106.3C416.6 104.5 418.6 103.1 421.3 101.9C423.9 100.7 427.3 100 430 99.3C432.8 98.5 435.7 98.4 437.9 97.5C440.1 96.6 441.6 94.3 443.2 94C444.8 93.7 446.2 94.6 447.6 95.8C448.9 96.9 449.6 99.6 451.1 101C452.5 102.5 454.6 103.4 456.3 104.5C458.1 105.7 460.4 106.3 461.6 108C462.7 109.8 462.9 112.7 463.3 115C463.8 117.4 464.8 119.9 464.2 122C463.6 124.2 461.7 126.4 459.8 128.2C457.9 129.9 455.1 131.4 452.8 132.6C450.5 133.7 448.1 134.6 445.8 135.2C443.5 135.8 441 136.4 438.8 136.1C436.6 135.8 434.6 134.5 432.7 133.4C430.8 132.4 429 131.1 427.4 129.9C425.8 128.8 424.6 127.4 423 126.4C421.4 125.4 419.5 123.9 417.8 123.8C416 123.6 414.3 123.8 412.5 125.5C410.8 127.3 408.9 131.5 407.3 134.3C405.7 137.1 404.9 140.4 402.9 142.2C400.8 143.9 396.3 149.8 395 144.8C393.7 139.9 393 117.8 395 112.4Z" fill="#78b9f6"/>
<path d="M378.5 219.9C380.9 217.7 389.6 216.8 392.1 218.8C394.5 220.8 395.5 229.8 393.2 232C390.8 234.2 380.3 234 377.8 232C375.4 230 376.1 222.1 378.5 219.9Z" fill="#9ed2fa"/>
<path d="M577.6 135.3C579.6 133.5 584.9 132 588.5 133.1C592.2 134.2 596.9 138.2 599.5 141.9C602 145.5 603.9 151.4 603.9 155C603.9 158.7 601.7 162.7 599.5 163.8C597.3 164.9 593.6 163.4 590.7 161.6C587.8 159.8 584.3 155.8 582 152.8C579.6 149.9 577.2 147 576.5 144.1C575.8 141.2 575.6 137.2 577.6 135.3Z" fill="#9ed2fa"/>
<path d="M349.4 218.8C351.3 216.5 357.7 215.5 359.7 217.7C361.7 219.9 363.3 229.6 361.4 232C359.5 234.3 350.3 234.2 348.3 232C346.3 229.8 347.5 221.2 349.4 218.8Z" fill="#50a0f0"/>
<path d="M394.3 232C403.5 229.2 394.7 219.1 395.8 215.5C396.9 212 398.9 212.2 400.8 210.5C402.8 208.9 405.4 208.3 407.4 205.7C409.4 203.1 410.7 196.9 412.9 194.7C415.1 192.6 417.8 193.1 420.5 192.6C423.3 192 426.2 192.4 429.3 191.5C432.4 190.5 436.4 188.5 439.2 187.1C441.9 185.6 443.2 184.2 445.7 182.7C448.3 181.2 451.6 179.4 454.5 178.3C457.4 177.2 460.3 177 463.2 176.1C466.2 175.2 469.1 173.9 472 172.8C474.9 171.8 476.8 170.5 480.8 169.6C484.8 168.6 491 167.6 496.1 167.4C501.2 167.2 506.3 167.6 511.4 168.5C516.5 169.4 522.4 170.7 526.8 172.8C531.1 175 535.1 178 537.7 181.6C540.3 185.3 542.1 190 542.1 194.7C542.1 199.5 537.7 203.9 537.7 210.1C537.7 216.3 574.9 228.3 542.1 232C509.2 235.6 365.3 232 340.6 232C316 232 385.1 234.7 394.3 232Z" fill="#50a0f0"/>
<path d="M475.3 165.8C478.4 163 489 165.7 494 165.3C499.1 164.9 502.6 163 505.7 163.4C508.8 163.9 510 166.9 512.7 168.1C515.4 169.3 518.5 169.7 522 170.4C525.5 171.2 529.1 172 533.7 172.8C538.4 173.6 545 175.1 550.1 175.1C555.1 175.1 561 171.6 564.1 172.8C567.2 173.9 583.6 180.6 568.8 182.1C554 183.7 490.9 184.8 475.3 182.1C459.8 179.4 472.2 168.6 475.3 165.8Z" fill="#50a0f0"/>
<path d="M606.1 149.4C607.5 148.6 612.4 158 615.5 163.4C618.6 168.9 625.6 179 624.8 182.1C624 185.2 613.7 184.5 610.8 182.1C607.9 179.8 608.1 173.6 607.3 168.1C606.5 162.7 604.8 150.2 606.1 149.4Z" fill="#50a0f0"/>
<path d="M487.8 161.6C490 150.1 496.9 160.9 500.9 160.5C505 160.1 508.2 159.2 511.9 159.4C515.5 159.6 519.2 161.4 522.8 161.6C526.5 161.8 530.9 162.9 533.8 160.5C536.7 158.1 538.5 150.7 540.4 147.4C542.2 144.1 542.6 142.3 544.7 140.8C546.9 139.3 550.9 138.4 553.5 138.6C556.1 138.8 558.6 139.9 560.1 141.9C561.5 143.9 562.3 147.4 562.3 150.7C562.3 153.9 561.2 158.3 560.1 161.6C559 164.9 555.3 167.8 555.7 170.4C556.1 172.9 559.3 175.3 562.3 176.9C565.2 178.6 570.3 178.8 573.2 180.2C576.1 181.7 579.1 183 579.8 185.7C580.5 188.4 579.1 193.7 577.6 196.6C576.1 199.6 573.6 201.4 571 203.2C568.5 205 565.5 206.1 562.3 207.6C559 209.1 555 210.9 551.3 212C547.7 213.1 543.3 212.7 540.4 214.2C537.4 215.6 536.7 218.2 533.8 220.7C530.9 223.3 530.5 228 522.8 229.5C515.2 230.9 493.6 240.8 487.8 229.5C482 218.2 485.6 173.1 487.8 161.6Z" fill="#50a0f0"/>
<path d="M630.7 197.6C631.9 194.7 637.1 192.9 638.4 197.6C639.6 202.4 639.4 221.5 638.4 226.2C637.3 231 633.4 228.1 632.2 226.2C631 224.4 631.5 219.8 631.2 215C630.9 210.2 629.5 200.5 630.7 197.6Z" fill="#50a0f0"/>
<path d="M395 114.2C397 109.5 404.1 115 407.3 114.2C410.5 113.3 411.9 110.5 414.3 108.9C416.6 107.3 418.6 105.7 421.3 104.5C423.9 103.4 427.4 102.3 430 101.9C432.7 101.5 435 101.8 437 101.9C439.1 102 440.5 102 442.3 102.8C444.1 103.5 445.5 105.3 447.6 106.3C449.6 107.3 452.5 107.9 454.6 108.9C456.6 109.9 458.8 110.7 459.8 112.4C460.8 114.2 461.3 117.2 460.7 119.4C460.1 121.6 458.2 123.9 456.3 125.5C454.4 127.2 451.6 128.2 449.3 129.1C447 129.9 444.5 130.7 442.3 130.8C440.1 130.9 438.1 130.5 436.2 129.9C434.3 129.3 432.5 128.3 430.9 127.3C429.3 126.3 428.1 124.8 426.5 123.8C424.9 122.8 423 121.5 421.3 121.2C419.5 120.9 417.6 121.3 416 122C414.4 122.8 413.1 123.9 411.6 125.5C410.2 127.2 408.7 129.3 407.3 131.7C405.8 134 404.9 137.8 402.9 139.6C400.8 141.3 396.3 146.4 395 142.2C393.7 138 393 118.8 395 114.2Z" fill="#50a0f0"/>
<path d="M581.1 178.2C583.3 176.2 591 176.9 595.4 176.2C599.9 175.5 603.8 172.9 607.7 174.1C611.6 175.3 616.2 179.6 618.9 183.3C621.7 187.1 622.9 192.4 624.1 196.6C625.2 200.9 626.1 205.1 626.1 208.9C626.1 212.6 627.5 216.7 624.1 219.1C620.6 221.5 612.1 222.2 605.7 223.2C599.2 224.2 589.5 227.6 585.2 225.2C581 222.8 580.6 215 580.1 208.9C579.6 202.7 582 193.5 582.2 188.4C582.3 183.3 578.9 180.3 581.1 178.2Z" fill="#9ed2fa"/>
<path d="M414 228.7C397.7 222.8 413.7 202.7 414 196.9C414.2 191.1 414.2 194.4 415.5 193.9C416.8 193.3 418.8 193.9 421.6 193.6C424.5 193.4 429.3 193.3 432.6 192.6C435.9 191.8 438.8 190.7 441.4 189.3C443.9 187.8 445.4 185.3 447.9 183.8C450.5 182.3 453.9 181.2 456.7 180.5C459.4 179.8 461.8 180 464.3 179.4C466.9 178.9 469.3 178.3 472 177.2C474.7 176.1 476.8 173.9 480.8 172.8C484.8 171.8 491 170.7 496.1 170.7C501.2 170.7 506.7 171.4 511.4 172.8C516.2 174.3 521.6 176.1 524.6 179.4C527.5 182.7 529.3 188.2 528.9 192.6C528.6 196.9 524.6 201.3 522.4 205.7C520.2 210.1 517.6 214.5 515.8 218.8C514 223.2 528.4 230.3 511.4 232C494.5 233.6 430.2 234.5 414 228.7Z" fill="#2580e8"/>
<path d="M545.8 144.1C547.1 141.4 551.9 141.2 553.5 143C555.1 144.8 556.1 151.6 555.7 155C555.3 158.5 553 163.1 551.3 163.8C549.7 164.5 546.8 162.7 545.8 159.4C544.9 156.1 544.6 146.8 545.8 144.1Z" fill="#2580e8"/>
<path d="M563.4 184.6C565.4 181.7 573.9 182.2 576.5 183.5C579.1 184.8 579.2 189.5 578.7 192.3C578.1 195 575.6 198.5 573.2 199.9C570.8 201.4 566.1 203.6 564.5 201C562.8 198.5 561.4 187.5 563.4 184.6Z" fill="#2580e8"/>
<path d="M487.8 163.8C490.4 154.9 498.8 162.9 503.1 162.7C507.5 162.5 510.8 162 514.1 162.7C517.4 163.4 521 164.7 522.8 167.1C524.7 169.5 525.4 173.8 525 176.9C524.7 180 522.1 182.8 520.7 185.7C519.2 188.6 518.5 190.8 516.3 194.5C514.1 198.1 510.4 204.3 507.5 207.6C504.6 210.9 502 212.7 498.8 214.2C495.5 215.6 489.6 224.7 487.8 216.4C486 208 485.3 172.7 487.8 163.8Z" fill="#2580e8"/>
<path d="M395 115.9C397 112 404.1 116.6 407.3 115.9C410.5 115.2 411.9 112.8 414.3 111.5C416.6 110.2 418.9 108.9 421.3 108C423.6 107.2 425.9 106.3 428.3 106.3C430.6 106.3 433.4 107 435.3 108C437.2 109.1 438.6 110.7 439.7 112.4C440.7 114.2 441.6 116.6 441.4 118.5C441.3 120.4 440.1 122.5 438.8 123.8C437.5 125.1 435.3 126.1 433.5 126.4C431.8 126.7 429.9 126.3 428.3 125.5C426.7 124.8 425.4 123.1 423.9 122C422.4 121 421.1 119.6 419.5 119.4C417.9 119.3 416 119.9 414.3 121.2C412.5 122.5 410.8 124.8 409 127.3C407.3 129.8 406.1 134 403.8 136.1C401.4 138.1 396.5 142.9 395 139.6C393.5 136.2 393 119.9 395 115.9Z" fill="#2580e8"/>
<path d="M382.2 109.1 L391 109.1 L391 128.8 L382.2 128.8 L382.2 139.7 L373.5 139.7 L373.5 119.3 L382.2 119.3Z" fill="#2580e8"/>
<path d="M353.8 147.8 L355.9 147.8 L355.9 158 L353.8 158Z" fill="#2580e8"/>
<path d="M373.5 128.8 L382.2 128.8 L382.2 139.7 L373.5 139.7Z" fill="#50a0f0"/>
<path d="M463.2 228.7C457.6 224.3 462.2 213.2 462.2 205.7C462.2 198.2 461.6 188 463.2 183.8C464.9 179.6 469.1 181.6 472 180.5C474.9 179.4 476.8 178.1 480.8 177.2C484.8 176.3 491.7 175 496.1 175C500.5 175 503.4 175.8 507 177.2C510.7 178.7 515.8 180.9 518 183.8C520.2 186.7 520.9 191.5 520.2 194.7C519.5 198 516.2 200.9 513.6 203.5C511.1 206.1 507.4 207.5 504.9 210.1C502.3 212.6 499.7 215.2 498.3 218.8C496.8 222.5 501.9 230.3 496.1 232C490.3 233.6 468.9 233.1 463.2 228.7Z" fill="#1565d6"/>
<path d="M421.6 200.2C423.3 198.9 427.8 197.8 430.4 198C433 198.2 435.7 199.7 437 201.3C438.2 203 438.8 206.2 438.1 207.9C437.3 209.5 435 210.8 432.6 211.2C430.2 211.5 425.8 211 423.8 210.1C421.8 209.2 420.9 207.3 420.5 205.7C420.2 204.1 420 201.5 421.6 200.2Z" fill="#1565d6"/>
<path d="M487.8 171.5C489.6 165 495.1 169.3 498.8 168.6C502.4 167.9 506.8 166.6 509.7 167.1C512.6 167.6 514.8 169.1 516.3 171.5C517.7 173.8 518.8 178.9 518.5 181.3C518.1 183.7 516.6 183.9 514.1 185.7C511.5 187.5 506.1 189.3 503.1 192.3C500.2 195.2 499.1 200.7 496.6 203.2C494 205.8 489.3 212.9 487.8 207.6C486.4 202.3 486 178 487.8 171.5Z" fill="#1565d6"/>
<path d="M395 119.4C397 116.1 405.1 118.4 407.3 119.4C409.5 120.4 408.4 123.4 408.1 125.5C407.8 127.7 406.5 130.5 405.5 132.6C404.5 134.6 403.8 136.6 402 137.8C400.3 139 396.2 142.6 395 139.6C393.8 136.5 393 122.8 395 119.4Z" fill="#1565d6"/>
<path d="M423.9 115C425.7 114.2 431.8 113.9 433.5 115C435.3 116.2 435.3 120.6 434.4 122C433.5 123.5 430.2 124.1 428.3 123.8C426.4 123.5 423.8 121.8 423 120.3C422.3 118.8 422.2 115.9 423.9 115Z" fill="#1565d6"/>
<path d="M594.4 183.3C595.3 181.8 598.5 181.5 600.5 182.3C602.6 183.2 604.1 186.4 606.7 188.4C609.2 190.5 613.7 192.4 615.9 194.6C618.1 196.8 619.5 199.5 620 201.7C620.5 203.9 620.6 206.7 618.9 207.9C617.2 209 612.5 208.4 609.7 208.9C607 209.4 604.1 212.1 602.6 210.9C601.1 209.7 601.7 205 600.5 201.7C599.4 198.5 596.5 194.6 595.4 191.5C594.4 188.4 593.6 184.9 594.4 183.3Z" fill="#b2eef6"/>
<path d="M553.5 227.3C550.2 225.8 554.2 220.7 555.7 218.5C557.2 216.4 560.1 214.5 562.3 214.2C564.5 213.8 566.8 214.9 568.8 216.4C570.8 217.8 573.2 221.1 574.3 222.9C575.4 224.7 578.9 226.6 575.4 227.3C571.9 228 556.8 228.8 553.5 227.3Z" fill="#fcc4c6"/>
<path d="M374.7 162.6C378.7 159.1 393.1 149.7 398.4 145C403.6 140.4 404.1 137.3 406.3 134.5C408.5 131.8 409.8 130 411.5 128.4C413.3 126.8 415.2 125 416.8 124.9C418.4 124.7 419.9 125.9 421.2 127.5C422.5 129.1 423.5 132.3 424.7 134.5C425.8 136.7 426.9 139.1 428.2 140.7C429.5 142.3 430.7 144 432.6 144.2C434.5 144.3 437.2 142.6 439.6 141.5C441.9 140.5 444.2 138.9 446.6 138C448.9 137.2 450.9 137.2 453.6 136.3C456.2 135.4 459.7 133.6 462.3 132.8C465 131.9 467.2 131.2 469.3 131C471.5 130.9 473.4 131.3 475.5 131.9C477.5 132.5 480 133.4 481.6 134.5C483.2 135.7 484.2 137.2 485.1 138.9C486 140.7 487.2 142.8 486.9 145C486.6 147.2 484.8 149.9 483.4 152C481.9 154.2 480.1 156.4 478.1 158.2C476.1 159.9 473.7 161.2 471.1 162.6C468.5 163.9 465.3 164.9 462.3 166.1C459.4 167.2 456.5 168.4 453.6 169.6C450.7 170.7 447.7 171.8 444.8 173.1C441.9 174.4 439 176.4 436.1 177.4C433.1 178.5 430.2 179.1 427.3 179.2C424.4 179.3 421.5 178.2 418.5 178.3C415.6 178.5 412.7 179.2 409.8 180.1C406.9 180.9 403.4 182.3 401 183.6C398.7 184.9 396.8 187.2 395.8 188C394.7 188.7 395.6 188.6 394.7 188.1C393.8 187.6 391.9 187.2 390.2 185C388.4 182.8 386.9 178 384.4 174.8C381.8 171.7 376.4 168.1 374.7 166.1C373.1 164 370.8 166.1 374.7 162.6Z" fill="#fcc4c6"/>
<path d="M403.4 58.7C404.6 53.8 408.5 52.5 410.7 50.7C412.9 48.8 414.6 48 416.5 47.7C418.5 47.5 421 48.2 422.4 49.2C423.7 50.2 424.2 48.2 424.6 53.6C424.9 58.9 424.2 76.2 424.6 81.3C424.9 86.4 426.6 82.3 426.8 84.2C426.9 86.2 426.8 90.4 425.3 93C423.8 95.6 419.7 100 418 100C416.3 100 416.3 94.9 415.1 93C413.9 91.1 411.9 90.6 410.7 88.6C409.5 86.7 409 82.8 407.8 81.3C406.6 79.9 404.1 83.6 403.4 79.9C402.7 76.1 402.2 63.6 403.4 58.7Z" fill="#fcc4c6"/>
<path d="M399 32.4 L407.8 32.4 L407.8 37.5 L403.4 41.9 L399 41.9Z" fill="#fcc4c6"/>
<path d="M435.9 60.5 L444.6 60.5 L444.6 70.4 L437 73.6 L435.9 71.5Z" fill="#fcc4c6"/>
<path d="M576.5 29.9C577.4 28 582.7 28.9 584.2 30.9C585.6 33 585.3 37.7 585.3 41.9C585.3 46.1 585 54.3 584.2 56.1C583.3 58 581.1 55.2 580.2 52.8C579.3 50.5 579.3 45.7 578.7 41.9C578.1 38.1 575.6 31.7 576.5 29.9Z" fill="#fcc4c6"/>
<path d="M449.3 21.2C430.5 23.1 449.7 28.4 449.3 32.8C449 37.3 447.6 43.7 447 48C446.4 52.3 445.5 55.4 445.8 58.5C446.2 61.7 448.2 64.2 449.3 66.7C450.5 69.2 451.7 71.4 452.8 73.7C454 76.1 455.2 78 456.4 80.7C457.5 83.5 458.3 87 459.9 90.1C461.4 93.2 463.6 96.5 465.7 99.4C467.8 102.3 470.4 105.3 472.7 107.6C475 109.9 477.4 111.3 479.7 113.4C482 115.6 484.4 117.7 486.7 120.4C489.1 123.2 492 128.6 493.7 129.8C495.5 130.9 496.3 129 497.2 127.4C498.2 125.9 498.6 122.8 499.6 120.4C500.5 118.1 501.3 115.8 503.1 113.4C504.8 111.1 507.7 108.6 510.1 106.4C512.4 104.3 514.4 102.5 517.1 100.6C519.8 98.6 523.3 96.5 526.4 94.7C529.5 93 533 91.2 535.8 90.1C538.5 89 539.5 89.9 542.8 88.2C546.1 86.5 552.4 83.5 555.6 80C558.8 76.5 559.4 69.6 561.9 67.2C564.5 64.8 568.6 67.1 570.8 65.5C573 64 574.8 60.5 575 57.6C575.2 54.7 573.2 50.4 572 48C570.8 45.6 568.8 45.5 567.8 43.1C566.7 40.8 566.5 37.7 565.7 34C564.8 30.4 582 23.3 562.6 21.2C543.2 19 468.2 19.2 449.3 21.2Z" fill="#fcc4c6"/>
<path d="M560.5 89C561.2 88 562.9 87 564.5 87.4C566.1 87.8 567.9 90 570.1 91.4C572.4 92.7 575.8 93.8 578.2 95.4C580.6 97 582.7 98.7 584.6 101C586.5 103.3 588.1 106.1 589.4 109.1C590.8 112 591.7 115.2 592.6 118.7C593.6 122.2 594.4 127.7 595 129.9C595.6 132.2 597.4 132.3 596.2 132.3C595 132.3 589.5 131.9 587.8 129.9C586.2 127.9 587.3 123.5 586.2 120.3C585.1 117.1 583.3 113.1 581.4 110.7C579.5 108.2 577.4 107.2 575 105.8C572.6 104.5 569.1 104 566.9 102.6C564.8 101.3 563.2 99.4 562.1 97.8C561 96.2 560.5 94.5 560.2 93C559.9 91.5 559.8 89.9 560.5 89Z" fill="#fcc4c6"/>
<path d="M559 227.3C557.5 226 560.1 221.1 561.2 219.6C562.3 218.2 564.1 217.3 565.5 218.5C567 219.8 571 225.8 569.9 227.3C568.8 228.8 560.4 228.6 559 227.3Z" fill="#f4a0a5"/>
<path d="M374.7 162.6C378.7 159.2 393.4 151.8 398.4 147.7C403.4 143.6 402.6 140.8 404.5 138C406.4 135.3 408 132.8 409.8 131C411.5 129.3 413.4 127.7 415 127.5C416.6 127.4 418.1 128.7 419.4 130.1C420.7 131.6 421.8 134.1 422.9 136.3C424.1 138.5 425.1 141.4 426.4 143.3C427.7 145.2 428.9 147.4 430.8 147.7C432.7 148 436.2 145.9 437.8 145C439.4 144.2 439.3 142.6 440.4 142.4C441.6 142.3 442.9 144.2 444.8 144.2C446.7 144.2 449.5 142.8 451.8 142.4C454.2 142 456.5 141.8 458.8 141.5C461.2 141.2 463.5 140.5 465.8 140.7C468.2 140.8 470.8 141.2 472.8 142.4C474.9 143.6 476.9 145.8 478.1 147.7C479.3 149.6 480.4 151.9 479.9 153.8C479.3 155.7 476.6 157.9 474.6 159.1C472.6 160.2 470.2 160.1 467.6 160.8C465 161.5 461.8 162.6 458.8 163.4C455.9 164.3 453 164.9 450.1 166.1C447.2 167.2 444.2 169.1 441.3 170.4C438.4 171.8 435.5 173.5 432.6 173.9C429.6 174.4 426.7 173.1 423.8 173.1C420.9 173.1 418 173.2 415 173.9C412.1 174.7 408.9 176.4 406.3 177.4C403.6 178.5 401.3 179.8 399.3 180.1C397.2 180.4 395.8 180.1 394 179.2C392.3 178.3 390.5 176.1 388.8 174.8C387 173.5 385.8 172.5 383.5 171.3C381.2 170.1 376.2 169.3 374.7 167.8C373.3 166.4 370.8 165.9 374.7 162.6Z" fill="#f4a0a5"/>
<path d="M412.2 62.3C413 60.3 415.2 57.2 416.5 57.2C417.9 57.2 419.3 60 420.2 62.3C421 64.6 421.3 67.7 421.6 71.1C422 74.5 422.6 80 422.4 82.8C422.1 85.6 421.2 87.6 420.2 87.9C419.2 88.1 417.6 85.8 416.5 84.2C415.4 82.7 414.5 80.8 413.6 78.4C412.8 76 411.7 72.3 411.4 69.6C411.2 67 411.3 64.4 412.2 62.3Z" fill="#f4a0a5"/>
<path d="M579.8 33.1C580.1 31.8 583 31.8 583.7 33.6C584.5 35.4 584.5 42.7 584.2 44.1C583.8 45.5 582.3 43.7 581.5 41.9C580.8 40.1 579.4 34.5 579.8 33.1Z" fill="#f4a0a5"/>
<path d="M465.3 20.8C449.9 22.3 463.4 26.8 463.6 29.6C463.9 32.4 466.2 34.7 466.9 37.7C467.5 40.6 467.3 44.1 467.7 47.3C468.1 50.5 470.1 53.7 469.3 56.9C468.5 60.1 464.5 63.4 462.8 66.6C461.2 69.8 460.3 73 459.6 76.2C459 79.4 458 83.4 458.8 85.8C459.6 88.2 461.9 89.3 464.5 90.7C467 92 471.1 92.3 474.1 93.9C477 95.5 479.4 98.2 482.1 100.3C484.8 102.4 488.4 106.2 490.1 106.7C491.9 107.3 491.5 105.4 492.6 103.5C493.6 101.6 495.4 98.2 496.6 95.5C497.8 92.8 498.2 89.9 499.8 87.4C501.4 85 503.8 82.6 506.2 81C508.6 79.4 511.6 78.1 514.2 77.8C516.9 77.5 519.6 78.9 522.3 79.4C524.9 80 527.3 81.3 530.3 81C533.2 80.8 537 79.7 539.9 77.8C542.9 75.9 545.5 72.5 548 69.8C550.4 67.1 552.2 64.7 554.4 61.8C556.5 58.8 559.5 56.4 560.8 52.1C562.1 47.8 563.2 41.3 562.4 36.1C561.6 30.8 572.2 23.3 556 20.8C539.8 18.3 480.6 19.3 465.3 20.8Z" fill="#f4a0a5"/>
<path d="M374.7 160.8C378.7 158.6 393.4 154.2 398.4 151.2C403.4 148.1 402.8 145 404.5 142.4C406.3 139.8 407.3 137.3 408.9 135.4C410.5 133.5 412.7 131.3 414.2 131C415.6 130.7 416.5 132.2 417.7 133.6C418.8 135.1 420 137.6 421.2 139.8C422.3 142 423.4 144.7 424.7 146.8C426 148.8 427.4 151.3 429.1 152C430.7 152.8 432.7 151.9 434.3 151.2C435.9 150.4 437.4 148 438.7 147.7C440 147.4 440.7 148.4 442.2 149.4C443.6 150.4 447 152.2 447.4 153.8C447.9 155.4 446.1 157.6 444.8 159.1C443.5 160.5 441.6 161.7 439.6 162.6C437.5 163.4 434.9 163.7 432.6 164.3C430.2 164.9 427.9 165.5 425.5 166.1C423.2 166.6 420.9 166.9 418.5 167.8C416.2 168.7 413.9 170.3 411.5 171.3C409.2 172.3 406.9 173.4 404.5 173.9C402.2 174.5 399.9 175.4 397.5 174.8C395.2 174.2 392.6 171.9 390.5 170.4C388.5 169 387.9 167.1 385.3 166.1C382.6 165 376.5 165.2 374.7 164.3C373 163.4 370.8 163 374.7 160.8Z" fill="#ea8286"/>
<path d="M450.1 150.3C450.7 148.4 453.3 146.9 455.3 145.9C457.4 144.9 460 144.2 462.3 144.2C464.7 144.2 467.6 144.7 469.3 145.9C471.1 147.1 472.6 149.4 472.8 151.2C473.1 152.9 472.6 155.1 471.1 156.4C469.6 157.7 466.4 158.5 464.1 159.1C461.8 159.6 459.1 160.2 457.1 159.9C455 159.6 453 158.9 451.8 157.3C450.7 155.7 449.5 152.2 450.1 150.3Z" fill="#ea8286"/>
<path d="M467.7 20.8C453.3 22 466.5 25.5 466.9 28C467.3 30.6 468.9 33.4 470.1 36.1C471.3 38.7 472.9 41.4 474.1 44.1C475.3 46.8 477 49.4 477.3 52.1C477.6 54.8 476.2 57.5 475.7 60.1C475.2 62.8 474.4 65.2 474.1 68.2C473.8 71.1 473.6 74.9 474.1 77.8C474.6 80.8 475.4 83.7 477.3 85.8C479.2 88 482.9 89.1 485.3 90.7C487.7 92.3 490.1 95.5 491.8 95.5C493.4 95.5 493.9 92.8 495 90.7C496 88.5 496.6 85.3 498.2 82.6C499.8 80 501.9 76.5 504.6 74.6C507.3 72.7 511 71.7 514.2 71.4C517.4 71.1 520.7 72.7 523.9 73C527.1 73.3 530.3 73.8 533.5 73C536.7 72.2 540.2 70.3 543.1 68.2C546.1 66 549 62.8 551.2 60.1C553.3 57.5 554.6 54.8 556 52.1C557.3 49.4 558.9 47 559.2 44.1C559.5 41.1 558.7 38.3 557.6 34.5C556.5 30.6 567.8 23.1 552.8 20.8C537.8 18.5 482 19.6 467.7 20.8Z" fill="#ea8286"/>
<path d="M388.8 159.1C390.4 157.4 395.8 157 398.4 154.7C401 152.3 402.8 147.7 404.5 145C406.3 142.4 407.4 140.7 408.9 138.9C410.4 137.2 412 135 413.3 134.5C414.6 134.1 415.8 135.1 416.8 136.3C417.8 137.4 418.5 139.6 419.4 141.5C420.3 143.4 421.2 145.8 422 147.7C422.9 149.6 424.7 151.2 424.7 152.9C424.7 154.7 423.4 156.7 422 158.2C420.7 159.6 418.5 160.5 416.8 161.7C415 162.8 413.3 164 411.5 165.2C409.8 166.4 408.3 167.8 406.3 168.7C404.2 169.6 401.3 170.6 399.3 170.4C397.2 170.3 395.8 168.8 394 167.8C392.3 166.8 389.6 165.8 388.8 164.3C387.9 162.8 387.2 160.7 388.8 159.1Z" fill="#e06264"/>
<path d="M436.1 153.8C436.1 151.9 439 149.4 440.4 149.4C441.9 149.4 444.8 151.9 444.8 153.8C444.8 155.7 441.9 160.8 440.4 160.8C439 160.8 436.1 155.7 436.1 153.8Z" fill="#e06264"/>
<path d="M470.1 20.8C457.5 22 469.9 26 470.9 28C471.8 30 474.1 31.2 475.7 32.8C477.3 34.5 479.2 35.5 480.5 37.7C481.8 39.8 482.7 43 483.7 45.7C484.8 48.4 485.9 51 486.9 53.7C488 56.4 488.5 59.6 490.1 61.8C491.8 63.9 494.2 65.8 496.6 66.6C499 67.4 501.9 67.1 504.6 66.6C507.3 66 510 63.6 512.6 63.4C515.3 63.1 517.7 64.7 520.7 65C523.6 65.2 527.1 65.5 530.3 65C533.5 64.4 537 63.4 539.9 61.8C542.9 60.1 545.8 57.7 548 55.3C550.1 52.9 552 50 552.8 47.3C553.6 44.6 553.3 42.2 552.8 39.3C552.2 36.3 550.6 32.7 549.6 29.6C548.5 26.6 559.6 22.3 546.4 20.8C533.1 19.3 482.7 19.6 470.1 20.8Z" fill="#e06264"/>
<path d="M396.6 160.8C397.2 159.9 397.1 160.4 398.4 158.2C399.7 156 402.8 150.4 404.5 147.7C406.3 144.9 407.4 143.1 408.9 141.5C410.4 139.9 412.1 137.9 413.3 138C414.5 138.2 415.2 140.7 415.9 142.4C416.6 144.2 417.2 146.5 417.7 148.5C418.1 150.6 419 152.9 418.5 154.7C418.1 156.4 416.5 157.7 415 159.1C413.6 160.4 411.5 161.5 409.8 162.6C408 163.6 406.3 164.6 404.5 165.2C402.8 165.8 400.9 166.4 399.3 166.1C397.7 165.8 395.3 164.3 394.9 163.4C394.5 162.6 396.1 161.7 396.6 160.8Z" fill="#c8383c"/>
<path d="M474.1 26.4C474.6 27.1 479.2 27 482.1 27.2C485.1 27.5 489.1 27.1 491.8 28C494.4 29 496.3 31 498.2 32.8C500 34.7 501.7 37.1 503 39.3C504.3 41.4 504.3 43.8 506.2 45.7C508.1 47.6 511.6 49 514.2 50.5C516.9 52 519.6 53.3 522.3 54.5C524.9 55.7 527.3 57.5 530.3 57.7C533.2 58 537.3 57.3 539.9 56.1C542.6 54.9 544.7 52.5 546.4 50.5C548 48.5 549.6 46.2 549.6 44.1C549.6 41.9 548 39 546.4 37.7C544.7 36.3 542.6 35.8 539.9 36.1C537.3 36.3 533.5 38.7 530.3 39.3C527.1 39.8 523.9 39.8 520.7 39.3C517.4 38.7 514 37.7 511 36.1C508.1 34.5 505.1 31.5 503 29.6C500.9 27.8 500.3 25.9 498.2 24.8C496 23.7 493.4 23.5 490.1 23.2C486.9 22.9 481.6 22.7 478.9 23.2C476.2 23.7 473.6 25.8 474.1 26.4Z" fill="#c8383c"/>
<path d="M399.3 159.9C399.7 158 402.9 153.6 404.5 151.2C406.1 148.7 407.6 146.4 408.9 145C410.2 143.7 411.4 142.8 412.4 143.3C413.4 143.7 414.5 146.1 415 147.7C415.6 149.3 416.4 151.3 415.9 152.9C415.5 154.5 413.9 156 412.4 157.3C410.9 158.6 408.9 159.9 407.2 160.8C405.4 161.7 403.2 162.7 401.9 162.6C400.6 162.4 398.8 161.8 399.3 159.9Z" fill="#a82428"/>
<path d="M525.5 49.7 L531.9 49.7 L531.9 42.5 L544.7 42.5 L545.1 48.9 L539.9 54.5 L530.3 56 L523.9 52.9Z" fill="#a82428"/>
<path d="M507.5 21.1C509 19.8 515.5 19.5 517.4 21.1C519.2 22.7 519.2 28.9 518.5 30.9C517.7 33 514.6 33.5 513 33.1C511.4 32.8 509.5 30.8 508.6 28.8C507.7 26.8 506.1 22.4 507.5 21.1Z" fill="#b2eef6"/>
<path d="M456.4 20.8C457.4 18.5 461 19.3 462 20.8C463.1 22.3 463 26.8 462.8 29.6C462.7 32.4 462.3 36.9 461.2 37.7C460.2 38.5 457.2 37.3 456.4 34.5C455.6 31.6 455.5 23.1 456.4 20.8Z" fill="#b2eef6"/>
<rect x="524" y="206.5" width="7.6" height="20" fill="#fff"/>
</g>
<path d="M348.5 147.6v0.7M356.8 147.6v0.7M356.8 128.3v0.7M365.2 157.3v0.7M373.5 118.7v0.7M381.8 224.9v0.7M381.8 215.2v0.7M381.8 138v0.7M381.8 128.3v0.7M381.8 118.7v0.7M390.2 224.9v0.7M390.2 128.3v0.7M390.2 118.7v0.7M390.2 109v0.7M390.2 99.4v0.7M398.5 224.9v0.7M398.5 215.2v0.7M398.5 166.9v0.7M398.5 157.3v0.7M398.5 147.6v0.7M398.5 138v0.7M398.5 128.3v0.7M398.5 118.7v0.7M406.8 224.9v0.7M406.8 215.2v0.7M406.8 166.9v0.7M406.8 157.3v0.7M406.8 128.3v0.7M406.8 118.7v0.7M415.2 224.9v0.7M415.2 195.9v0.7M415.2 157.3v0.7M423.5 224.9v0.7M423.5 215.2v0.7M423.5 205.6v0.7M423.5 195.9v0.7M423.5 138v0.7M423.5 118.7v0.7M431.8 224.9v0.7M431.8 215.2v0.7M431.8 205.6v0.7M431.8 195.9v0.7M431.8 118.7v0.7M440.2 224.9v0.7M440.2 215.2v0.7M440.2 205.6v0.7M440.2 195.9v0.7M440.2 186.3v0.7M440.2 157.3v0.7M440.2 147.6v0.7M440.2 128.3v0.7M448.5 224.9v0.7M448.5 215.2v0.7M448.5 205.6v0.7M448.5 157.3v0.7M448.5 128.3v0.7M448.5 99.4v0.7M456.8 224.9v0.7M456.8 215.2v0.7M456.8 205.6v0.7M456.8 195.9v0.7M456.8 186.3v0.7M456.8 176.6v0.7M456.8 157.3v0.7M456.8 22.1v0.7M465.2 224.9v0.7M465.2 215.2v0.7M465.2 205.6v0.7M465.2 195.9v0.7M465.2 186.3v0.7M465.2 176.6v0.7M473.5 224.9v0.7M473.5 215.2v0.7M473.5 205.6v0.7M473.5 195.9v0.7M473.5 186.3v0.7M473.5 60.8v0.7M473.5 51.1v0.7M473.5 41.5v0.7M473.5 31.8v0.7M481.8 224.9v0.7M481.8 215.2v0.7M481.8 205.6v0.7M481.8 195.9v0.7M481.8 186.3v0.7M481.8 176.6v0.7M481.8 80.1v0.7M481.8 60.8v0.7M481.8 51.1v0.7M481.8 41.5v0.7M481.8 31.8v0.7M490.2 224.9v0.7M490.2 215.2v0.7M490.2 205.6v0.7M490.2 195.9v0.7M490.2 186.3v0.7M490.2 176.6v0.7M490.2 99.4v0.7M490.2 80.1v0.7M490.2 60.8v0.7M490.2 51.1v0.7M490.2 41.5v0.7M490.2 31.8v0.7M498.5 224.9v0.7M498.5 195.9v0.7M498.5 186.3v0.7M498.5 118.7v0.7M498.5 80.1v0.7M498.5 70.4v0.7M498.5 60.8v0.7M498.5 51.1v0.7M498.5 41.5v0.7M506.8 215.2v0.7M506.8 195.9v0.7M506.8 186.3v0.7M506.8 166.9v0.7M506.8 51.1v0.7M506.8 41.5v0.7M515.1 205.6v0.7M515.1 195.9v0.7M515.1 60.8v0.7M515.1 51.1v0.7M515.1 22.1v0.7M523.5 186.3v0.7M523.5 166.9v0.7M523.5 70.4v0.7M523.5 60.8v0.7M523.5 51.1v0.7M531.8 186.3v0.7M531.8 176.6v0.7M531.8 166.9v0.7M531.8 70.4v0.7M531.8 60.8v0.7M531.8 51.1v0.7M531.8 41.5v0.7M540.1 186.3v0.7M540.1 166.9v0.7M540.1 70.4v0.7M540.1 51.1v0.7M540.1 41.5v0.7M548.5 205.6v0.7M548.5 186.3v0.7M548.5 166.9v0.7M548.5 157.3v0.7M548.5 147.6v0.7M548.5 138v0.7M548.5 51.1v0.7M548.5 41.5v0.7M556.8 205.6v0.7M556.8 138v0.7M556.8 51.1v0.7M565.1 195.9v0.7M565.1 41.5v0.7M565.1 22.1v0.7M573.5 205.6v0.7M573.5 195.9v0.7M573.5 186.3v0.7M573.5 176.6v0.7M581.8 166.9v0.7M581.8 70.4v0.7M581.8 41.5v0.7M581.8 31.8v0.7M590.1 215.2v0.7M590.1 176.6v0.7M590.1 157.3v0.7M598.5 166.9v0.7M598.5 109v0.7M598.5 99.4v0.7M606.8 224.9v0.7M615.1 215.2v0.7M615.1 176.6v0.7M615.1 166.9v0.7M615.1 157.3v0.7M631.8 215.2v0.7M631.8 205.6v0.7" stroke="#a0705f" stroke-opacity="0.9" stroke-width="3.3" stroke-linecap="round" fill="none"/>
<path d="M481.8 22V226" stroke="#555" stroke-width="0.6" stroke-dasharray="1.5 1.5" fill="none"/>
<path class="cn" d="M441.4 60.5C442.4 61.2 445 63.8 447.9 64.9C450.8 66 455.6 66.8 458.9 67.1C462.2 67.4 465.4 66.8 467.6 66.6C469.9 66.5 471.6 66.1 472.4 66"/>
<path class="cn" d="M472.7 66.7C473.5 66.5 475 66.1 477.4 65.5C479.7 65 483.6 63.6 486.7 63.2C489.8 62.8 493.3 62.9 496.1 63.2C498.8 63.5 500.7 64.5 503.1 64.8C505.4 65.2 507.3 65.8 510.1 65.5C512.8 65.3 516.3 64 519.4 63.2C522.5 62.4 525.6 62 528.8 60.9C531.9 59.7 535 58.2 538.1 56.2C541.2 54.3 544.7 51.1 547.4 49.2C550.2 47.3 552.1 45.8 554.5 44.5C556.8 43.2 559.3 41.7 561.5 41.5C563.6 41.3 565.4 42.1 567.3 43.4C569.2 44.6 571.4 47.4 573.1 49.2C574.9 50.9 576.3 52.7 577.8 53.9C579.3 55 581.3 55.8 582 56.2"/>
<path class="cn" d="M402.4 63.8C403 64.9 404.9 67.8 406.3 70.4C407.7 72.9 409.2 77.8 410.7 79.1C412.2 80.4 413.4 79.3 415.1 78C416.7 76.8 418.9 73.6 420.5 71.5C422.2 69.3 423.7 66.7 424.9 64.9C426.1 63.1 427.3 61.2 427.8 60.5"/>
<path class="cn" d="M408.1 114.2C409.2 113.3 412.1 110.7 414.3 108.9C416.5 107.2 418.6 105 421.3 103.6C423.9 102.3 427.1 101.3 430 100.7C433 100 436.6 99.6 438.8 99.6C441 99.7 441.7 99.9 443.2 101C444.6 102.1 445.9 105 447.6 106.3C449.2 107.6 450.8 108.8 452.8 108.9C454.9 109.1 457.8 107.9 459.8 107.2C461.9 106.4 463 105.3 465.1 104.5C467.1 103.8 469.7 103.1 472.1 102.8C474.4 102.5 476.8 102.5 479.1 102.8C481.4 103.1 483.8 103.6 486.1 104.5C488.4 105.4 490.8 106.6 493.1 108C495.4 109.5 497.8 111.4 500.1 113.3C502.4 115.2 504.6 117.2 507.1 119.4C509.6 121.6 513.7 125.3 515 126.4"/>
<path class="cn" d="M496.6 110.1C498.4 111.8 504.2 116.9 507.5 120C510.8 123.1 514.3 125.5 516.3 128.8C518.3 132 519.7 136.1 519.6 139.7C519.4 143.4 516.5 147.4 515.2 150.7C513.9 153.9 512.4 156.7 511.9 159.4C511.4 162.2 511.4 164.9 511.9 167.1C512.4 169.3 513.4 172.6 515.2 172.6C517 172.6 520.1 168.4 522.8 167.1C525.6 165.8 528.7 165.3 531.6 164.9C534.5 164.5 537.4 164.3 540.4 164.5C543.3 164.6 546.2 164.7 549.1 165.5C552 166.4 555.3 167.4 557.9 169.3C560.4 171.2 562.4 173.8 564.5 176.9C566.5 180 567.9 184.6 569.9 187.9C571.9 191.2 574.1 194.1 576.5 196.6C578.9 199.2 581.4 200.8 584.2 203.2C586.9 205.6 590 208.1 592.9 210.9C595.8 213.6 599.3 217.1 601.7 219.6C604.1 222.2 606.2 225.1 607.2 226.2"/>
<path class="cn" d="M602.1 98.1C601.3 99.6 598.5 103.2 597.3 106.9C596.1 110.5 595.3 114.9 595.1 120C594.9 125.1 595.7 131.7 596.2 137.5C596.8 143.4 597.3 149.2 598.4 155C599.5 160.9 601.1 166.7 602.8 172.6C604.4 178.4 606.1 184.2 608.2 190.1C610.4 195.9 613.2 202.1 615.9 207.6C618.6 213.1 622.7 219.5 624.7 222.9C626.6 226.4 627 227.5 627.5 228.4"/>
<path class="cn" d="M605 138.6C605.7 141 607.7 147.9 609.3 152.8C611 157.8 613 163.4 614.8 168.2C616.6 172.9 618.8 178 620.3 181.3C621.8 184.6 623 186.8 623.6 187.9"/>
<path class="cn" d="M635.6 214.2C635.3 215.3 634 218.5 633.4 220.7C632.9 222.9 632.5 226.2 632.3 227.3"/>
<path class="cn" d="M394.9 228.7C395.5 227.2 397.3 222.1 398.6 219.9C400 217.7 401 215.7 403 215.5C405 215.4 408.3 219.4 410.7 218.8C413.1 218.3 415.1 213.9 417.3 212.3C419.5 210.6 421.3 209.8 423.8 209C426.4 208.2 430 207.6 432.6 207.4C435.1 207.3 437 207.3 439.2 208.3C441.4 209.3 443.5 211.6 445.7 213.4C447.9 215.1 449.7 217.5 452.3 218.8C454.9 220.2 458.3 220.9 461.1 221.5C463.8 222 466.5 221.5 468.7 222.1C470.9 222.8 472.9 224.3 474.2 225.4C475.5 226.5 476 228.1 476.4 228.7"/>
<path class="cn" d="M517.4 226.2C517.9 224.7 519.4 219.6 520.7 217.4C521.9 215.3 524.3 213.8 525 213.1"/>
<path class="cn" d="M531.6 213.1C532.5 213.8 535.3 215.3 537.1 217.4C538.9 219.6 541.6 224.7 542.6 226.2"/>
<path class="cd" d="M459.6 21.6C460 22.9 461 27.4 462 29.6C463.1 31.9 464.3 33.9 466.1 35.3C467.8 36.6 470.1 37 472.5 37.7C474.9 38.3 477.8 38.6 480.5 39.3C483.2 39.9 486 41.3 488.5 41.7C491.1 42.1 494 42.3 495.8 41.7C497.5 41 498.4 39.4 499 37.7C499.5 35.9 499.2 33.4 499 31.2C498.7 29.1 497.8 26.4 497.4 24.8C497 23.2 496.7 22.1 496.6 21.6"/>
<path class="cd" d="M398.5 121.2C400 120.6 404.3 118.8 407.3 117.7C410.2 116.5 413.2 115.2 416 114.2C418.8 113.1 421.6 112 423.9 111.5C426.2 111.1 427.8 111.1 430 111.5C432.2 112 434.7 112.8 437 114.2C439.4 115.5 442 118.8 444.1 119.4C446.1 120 447.3 118.1 449.3 117.7C451.4 117.2 453.7 116.8 456.3 116.8C458.9 116.8 462.2 117.1 465.1 117.7C468 118.2 471.2 119.1 473.8 120.3C476.5 121.5 478.9 123.1 480.8 124.7C482.7 126.3 484.2 128 485.2 129.9C486.2 131.8 487 134.2 487 136.1C487 138 486.2 139.6 485.2 141.3C484.2 143.1 482.7 144.8 480.8 146.6C478.9 148.3 476.5 150.1 473.8 151.8C471.2 153.6 468 155.5 465.1 157.1C462.2 158.7 459.2 160 456.3 161.5C453.4 162.9 449.9 164.4 447.6 165.8C445.2 167.3 443.2 169.3 442.3 170"/>
<path class="cd" d="M353.8 226.5C354.3 224.7 355.2 219 357 215.5C358.9 212.1 362.3 208.6 364.7 205.7C367.1 202.8 369.1 200.4 371.3 198C373.5 195.7 375.5 193.4 377.8 191.5C380.2 189.5 383 187.8 385.5 186.4C388.1 185 390.4 184 393.2 183.1C395.9 182.3 399 181.8 401.9 181.2C404.9 180.5 407.4 180.1 410.7 179.4C414 178.8 418 178 421.6 177.2C425.3 176.5 428.9 175.8 432.6 175C436.2 174.3 439.9 173.8 443.5 172.8C447.2 171.9 450.8 170.8 454.5 169.6C458.1 168.3 462.2 166.8 465.4 165.2C468.7 163.5 471.5 161.7 474.2 159.7C476.9 157.7 479.9 155.5 481.9 153.1C483.9 150.8 485.3 147.7 486.2 145.5C487.2 143.3 487.2 140.9 487.3 140"/>
<path class="cd" d="M398.5 127.3C400 126.9 404.6 125.5 407.3 124.7C409.9 123.8 411.9 122.9 414.3 122C416.6 121.2 419.1 119.9 421.3 119.4C423.5 119 425.4 119 427.4 119.4C429.5 119.9 431.6 120.9 433.5 122C435.4 123.2 436.8 125.1 438.8 126.4C440.8 127.7 443.8 129.6 445.8 129.9C447.8 130.2 449.5 128.5 451.1 128.2C452.7 127.9 454.3 127.4 455.4 128.2C456.6 128.9 457.6 130.9 458.1 132.6C458.6 134.2 458.9 136.1 458.4 137.8C458 139.6 457 141.2 455.4 143.1C453.9 145 451.5 147.3 449.3 149.2C447.1 151.1 444.9 152.8 442.3 154.5C439.7 156.1 436.5 157.5 433.5 158.8C430.6 160.1 427.7 161.2 424.8 162.3C421.9 163.5 418.6 164.6 416 165.8C413.4 167.1 410.2 169.3 409 170"/>
<path class="cd" d="M355.9 206.8C357 205.9 360.3 203.3 362.5 201.3C364.7 199.3 366.9 197.1 369.1 194.7C371.3 192.4 373.3 189.3 375.7 187.1C378 184.9 380.8 183.2 383.3 181.6C385.9 180 388.2 178.7 391 177.2C393.7 175.8 396.8 173.9 399.7 172.8C402.7 171.8 405.6 171.4 408.5 170.7C411.4 169.9 414 169.4 417.3 168.5C420.5 167.6 424.9 166.3 428.2 165.2C431.5 164.1 434.1 163.2 437 161.9C439.9 160.6 443.2 159.2 445.7 157.5C448.3 155.9 450.7 153.9 452.3 152C453.9 150.2 454.8 148.6 455.6 146.6C456.4 144.6 456.9 141.1 457.1 140"/>
<path class="cd" d="M398.5 132.6C399.7 132.3 403.2 131.2 405.5 130.8C407.8 130.4 410.2 130.2 412.5 129.9C414.9 129.6 417.6 128.8 419.5 129.1C421.4 129.3 422.6 130.5 423.9 131.7C425.2 132.8 426.7 134.6 427.4 136.1C428.1 137.5 428.6 138.7 428.3 140.4C428 142.2 426.8 144.7 425.7 146.6C424.5 148.5 423.2 150.2 421.3 151.8C419.4 153.4 416.6 154.7 414.3 156.2C411.9 157.7 409.6 159.3 407.3 160.6C404.9 161.9 402.3 163.1 400.3 164.1C398.2 165.1 395.9 166.3 395 166.7"/>
<path class="cd" d="M378.9 167.4C380.2 166.6 383.9 164.3 386.6 163C389.3 161.7 392.4 160.6 395.4 159.7C398.3 158.8 401.2 158.4 404.1 157.5C407 156.6 410.1 155.5 412.9 154.2C415.6 153 418.4 151.5 420.5 149.9C422.7 148.2 424.7 146 426 144.4C427.3 142.7 427.8 140.7 428.2 140"/>
<path class="cd" d="M398.5 150.1C399.7 149.6 403.2 148.2 405.5 147.4C407.8 146.7 410.8 146.1 412.5 145.7C414.3 145.3 415.6 144.2 416 144.8C416.5 145.4 415.9 147.7 415.1 149.2C414.4 150.7 413.2 152.3 411.6 153.6C410 154.9 407.7 155.9 405.5 157.1C403.3 158.2 400.3 159.7 398.5 160.6C396.8 161.5 395.6 162 395 162.3"/>
<path class="cd" d="M381.1 161.9C382.4 161.2 386.1 158.9 388.8 157.5C391.5 156.1 394.8 154.9 397.6 153.6C400.3 152.3 403 151.2 405.2 149.9C407.4 148.5 409.1 146.6 410.7 145.5C412.3 144.4 414.3 143.6 415.1 143.3"/>
<path class="cd" d="M354.5 195.3C354.7 193.8 355.5 190.1 355.9 186.5C356.4 182.8 356.8 176.8 357.4 173.4C358 170 358.6 168.6 359.6 166.1C360.6 163.5 362 160.3 363.2 158C364.5 155.7 366.3 153.2 366.9 152.2"/>
<path class="cd" d="M363.2 184.3C363.2 182.2 363.2 175.7 363.2 171.9C363.2 168.1 363.1 164.4 363.2 161.7C363.4 159 363.9 156.8 364 155.8"/>
<path class="cd" d="M368.4 177 L368.4 167.5"/>
<path class="cd" d="M373.5 121.5C374.3 121.8 377 123.1 378.6 123.2C380.2 123.4 381.6 123.1 383 122.2C384.3 121.3 385.6 119.7 386.6 117.8C387.6 116 388.4 112.4 388.8 111.3"/>
<path class="cd" d="M384.4 152.2C385.4 152.3 388.1 153 390.3 152.9C392.4 152.8 395.5 152.3 397.6 151.4C399.6 150.6 401.2 149.2 402.7 147.8C404.1 146.3 405.2 144.6 406.3 142.7C407.4 140.7 408.7 137.2 409.2 136.1"/>
<path class="cd" d="M373.5 139.7C374.8 139.3 379.2 138.2 381.5 136.8C383.8 135.5 385.9 133.3 387.3 131.7C388.8 130.1 389.8 128.1 390.3 127.3"/>
<path class="co" d="M426.1 22.5 L425.8 24.1 L427.1 26.1 L425.1 26.9 L422 27.4 L418.9 27.7 L418.4 25.6 L416.4 24.3 L413.8 24.1 L410.3 25.6 L406.7 27.2 L402.6 25.9 L399 26.3 L397 28.2 L394.4 31.8 L391.4 36.4 L388.3 40.4 L385.2 45 L382.4 48.4 L383.7 50.7 L386.2 48.1 L388.1 47.4 L387.8 49.6 L385.7 52.5 L387.8 54.7 L390.3 52.2 L392.9 53.7 L394.9 55.8 L397 52.7 L398.7 51.3 L397.7 54.7 L395.4 58.8 L394.4 63.9 L393.4 71.1 L392.4 77.2 L390.8 82 L389.3 87.4"/>
<path class="co" d="M399.1 51.2 L398.3 54.7 L397 60.9 L396.7 67 L397.3 73.1 L398.1 79.3 L398.5 85.4 L398.3 91.5 L399.1 97.7 L400.3 100.7 L401.2 97.7 L401.8 91.5 L402.4 85.4 L402.2 79.3 L402.6 73.1 L401.8 66 L400.8 58.8 L399.9 53.7Z"/>
<path class="co" d="M440.4 22.5 L438.4 25.6 L435.3 29.7 L432.2 32.8 L430.2 34.3 L431 36.9 L428.6 38.9 L427.6 43.5 L427.3 49.6 L428.1 55.8 L429.2 62.9 L430.2 68 L429 70.3 L427.3 73.1 L429.2 71.6 L431 67.8 L432.2 65 L435.3 59.9 L437.3 55.3 L440.4 50.7 L443 47.6 L441.9 43.5 L442.4 38.4 L444.5 34.3 L443.7 30.2 L442.2 27.2 L442.6 24.6 L443.3 22.5"/>
<path class="co" d="M394.1 74.5 L393 79.1 L391 85.2 L388.9 91.4 L386.9 95.4 L384.3 100.5 L381.8 104.6 L379.2 109.7 L377.2 109.2 L375.1 107.2 L372.1 110.3 L370 114.3 L369 118.9 L366.5 123 L364.9 125.6 L366.5 129.2 L367 133.2 L368 137"/>
<path class="co" d="M348.9 123 L351.1 118.9 L353.2 120.5 L351.6 125.1 L352.7 128.1 L355.2 125.1 L359.3 126.1 L360.3 130.2 L359.3 134.3 L361.4 137"/>
<path class="co" d="M396.6 97 L397.6 100.5 L400.7 103.1 L403.2 104.6 L405.3 103.1 L406.3 105.7 L403.8 107.7 L402.2 110.3 L399.7 112.8 L396.6 110.8 L394.1 110.3 L393 112.8 L394.6 115.4 L393 115.9 L392 112.8 L392.5 108.7 L394.6 105.7 L395.6 101.6Z"/>
<path class="co" d="M408.4 101.1 L410.4 98.7"/>
<path class="co" d="M411.4 97.7 L413.3 95.9"/>
<path class="co" d="M414.1 95.2 L415.5 94"/>
<path class="co" d="M365.4 124 L367 129.1 L369 134.2 L370 140.3 L369 146.5 L367 150 L363.9 152.1 L362.4 150 L361.9 145.4 L360.3 141.4 L358.8 137.3 L360.3 134.2 L359.3 130.1 L356.2 129.1 L353.2 128.1 L351.1 129.6 L354.2 126 L356.2 124"/>
<path class="co" d="M393.8 115.3 L395.1 117.8 L396.1 121.9 L396.6 129.1 L396.1 135.2 L395.6 140.3 L395.1 144.4 L393 146.5 L390 149 L386.9 149.5 L383.8 150.5 L382.8 152.6 L380.8 153.1 L379.2 152.6 L378.7 154.6 L375.7 155.7 L374.6 158.7 L375.1 161.8 L374.6 165.9 L373.1 168.9 L371.8 167.9 L372.1 163.8 L372.6 159.7 L370 157.7 L370.5 155.1 L373.1 153.1 L375.7 151.1 L377.7 148 L380.3 145.4 L383.3 143.9 L385.4 141.4 L386.9 137.3 L388.4 134.2 L390.5 131.1 L391.5 128.1 L392.5 123 L392.8 118.9Z"/>
<path class="co" d="M375.7 154.1 L378.7 152.8 L380.3 154.1 L377.7 156.2 L375.7 155.7Z"/>
<path class="co" d="M348.9 137.3 L352.2 136.2 L354.4 138.1 L351.1 140.3 L349.1 142.6"/>
<path class="co" d="M348.9 150.5 L351.1 155.7 L352.7 160.8 L351.1 165.9 L353.2 171 L352.2 176.1 L351.6 182.2 L352.7 187.3 L353.7 190.4 L352.4 194.5 L352.7 198.1 L351.1 202.2 L348.9 206.8"/>
<path class="co" d="M351.7 198.7 L353.2 200.7 L352.8 206.8 L351.3 211.9 L349.7 214.2 L350.1 208.9 L350.6 202.7Z"/>
<path class="co" d="M510.4 22.5 L515.5 23.6 L520.7 23.1 L522.7 25.1 L524.7 27.7 L527.8 28.2 L529.3 29.7 L531.9 29.2 L532.4 33.3 L530.4 36.9 L527.3 39.9 L523.7 43 L519.6 46.1 L517.1 48.6 L518.1 49.6 L521.7 46.8 L525.8 44 L529.9 40.4 L533.9 36.4 L537 32.8 L540.1 29.2 L539.6 26.6 L541.6 24.6 L543.6 22.5"/>
<path class="co" d="M539.6 35.3 L543.6 30.7 L544.7 32.3 L541.1 37.4Z"/>
<path class="co" d="M516.1 49.8 L512 53.2"/>
<path class="co" d="M510.9 54.2 L508.9 55.8 L507.4 57.6 L506.4 59.3"/>
<path class="co" d="M545.2 27.2 L548.2 24.6 L551.3 23.9 L547.2 26.6Z"/>
<path class="co" d="M465 57.7 L466.8 59"/>
<path class="co" d="M487.3 63.4 L490 64.5"/>
<path class="co" d="M540.9 23.1 L545 25.9 L548.1 24.1 L552.2 23.1 L553.2 22.5"/>
<path class="co" d="M567 22.5 L571.6 24.1 L575.7 28.7 L579.7 32.3 L582.8 35.3 L585.9 36.4 L584.3 39.9 L587.9 43.5 L590 46.6 L593 49.6 L592 53.7 L595.1 58.8 L598.1 62.9 L598.6 68 L602.2 71.1 L606.3 75.2 L609.4 77.2 L609.6 82"/>
<path class="co" d="M586.4 52.7 L588.9 52.2 L591 61.9 L588.4 58.8Z"/>
<path class="co" d="M597.1 70.1 L600.2 69.1 L604.3 73.6 L610.4 78.8 L610.9 83.9 L607.8 81.3 L601.2 75.2Z"/>
<path class="co" d="M608.7 85.3 L605.7 82.8 L605.1 83.3 L606.7 88.4 L607.7 92.5 L606.2 100.7 L605.1 110.9 L605.7 121.1 L607.7 132"/>
<path class="co" d="M606.7 124.5 L608.2 130.1 L610.8 134.2 L610.3 138.3 L612.3 144.4 L614.3 150.5 L618.9 153.6 L621.5 157.7 L623 165.9 L625.1 173 L628.1 180.2 L630.7 184.3 L632.2 187"/>
<path class="co" d="M623 167 L625.1 174.1 L628.1 181.3 L626.6 185.9 L630.2 190.5 L632.7 196.6 L633.8 201.7 L636.3 206.8 L637.5 210.9"/>
<path class="co" d="M626.6 164.9 L627.1 168 L629.2 174.1 L632.2 180.3 L636.3 186.4 L637.5 189.5"/>
<path class="co" d="M626.6 164.9 L627.3 165.4 L630.2 166 L630.7 168 L633.2 174.1 L636.3 181.3 L637.5 184.4"/>
<path class="co" d="M526.4 213.7 L528.5 215.5"/>
<path class="co" d="M529.9 217.2 L531.6 219"/>
<path class="co" d="M532.9 220.7 L535.5 223.8"/>
<path class="co" d="M634.5 29.6 L636.5 25 L636.9 30.1"/>
<rect x="496.3" y="58.7" width="5.2" height="8" fill="#fff"/>
<text x="498.9" y="65.7" class="cl" text-anchor="middle">0</text>
<rect x="512.6" y="168.5" width="5.2" height="8" fill="#fff"/>
<text x="515.2" y="175.5" class="cl" text-anchor="middle">0</text>
<rect x="358.2" y="184.2" width="13.5" height="8" fill="#fff"/>
<text x="365" y="191.2" class="cl" text-anchor="middle">−90</text>
</g>
<rect class="fr" x="348.5" y="22.5" width="288.9" height="202.7"/>
<path class="t" d="M348.5 225.2v3.8"/>
<text x="348.5" y="240.4" class="tk" text-anchor="middle">120° E</text>
<path class="t" d="M392.9 225.2v3.8"/>
<text x="392.9" y="240.4" class="tk" text-anchor="middle">140° E</text>
<path class="t" d="M437.4 225.2v3.8"/>
<text x="437.4" y="240.4" class="tk" text-anchor="middle">160° E</text>
<path class="t" d="M481.8 225.2v3.8"/>
<text x="481.8" y="240.4" class="tk" text-anchor="middle">180°</text>
<path class="t" d="M526.3 225.2v3.8"/>
<text x="526.3" y="240.4" class="tk" text-anchor="middle">160° W</text>
<path class="t" d="M570.7 225.2v3.8"/>
<text x="570.7" y="240.4" class="tk" text-anchor="middle">140° W</text>
<path class="t" d="M615.1 225.2v3.8"/>
<text x="615.1" y="240.4" class="tk" text-anchor="middle">120° W</text>
<path class="t" d="M637.4 22.5h3.8"/>
<text x="644.9" y="25.6" class="tk" text-anchor="start">60° N</text>
<path class="t" d="M637.4 73.2h3.8"/>
<text x="644.9" y="76.3" class="tk" text-anchor="start">50° N</text>
<path class="t" d="M637.4 123.9h3.8"/>
<text x="644.9" y="127" class="tk" text-anchor="start">40° N</text>
<path class="t" d="M637.4 174.5h3.8"/>
<text x="644.9" y="177.6" class="tk" text-anchor="start">30° N</text>
<path class="t" d="M637.4 225.2h3.8"/>
<text x="644.9" y="228.3" class="tk" text-anchor="start">20° N</text>
</g>
<g>
<clipPath id="clipc"><rect x="47.4" y="339.1" width="289" height="196.1"/></clipPath>
<g clip-path="url(#clipc)">
<clipPath id="covc"><path d="M155.7 338.6 L214.9 338.6 L214.9 347.5 L219.8 347.5 L219.8 367 L231 367 L231 357.7 L243.8 357.7 L243.8 347.5 L251.9 347.5 L251.9 338.6 L264.6 338.6 L264.6 348.3 L282.1 348.3 L282.1 376.2 L290.1 376.2 L290.1 385.5 L294.1 385.5 L294.1 394.8 L302.2 394.8 L302.2 450.6 L306.8 450.6 L306.8 461 L310.4 461 L310.4 470.9 L315 470.9 L315 478.8 L319.1 478.8 L319.1 488.7 L323.1 488.7 L323.1 507 L331.9 507 L331.9 525.3 L336.7 525.3 L336.7 536 L46.9 536 L47.2 527.4 L55.6 527.4 L55.6 507.5 L51.9 507.5 L51.9 494.8 L54.2 494.8 L54.2 472.7 L52.1 472.7 L52.1 460.3 L54.2 460.3 L54.2 455.9 L56.2 455.9 L56.2 451 L60.2 451 L60.2 467.8 L62.8 467.8 L62.8 478.7 L68.9 478.7 L68.9 488.6 L77.1 488.6 L77.1 475.7 L81.2 475.7 L81.2 467.8 L97.4 467.8 L97.4 432.7 L106.8 432.7 L106.8 423.5 L114 423.5 L114.1 405.6 L101.9 405.6 L101.9 357.9 L97.5 357.9 L97.5 348.3 L122.8 348.3 L122.8 394.9 L130.5 394.9 L130.5 386.5 L134.9 386.5 L134.9 375.9 L143.6 375.9 L143.6 366.4 L146.9 366.4 L146.9 347.3 L155.7 347.3ZM81.1 422.9 L89.9 422.9 L89.9 441.9 L81.1 441.9 L81.1 452.5 L72.4 452.5 L72.4 432.7 L81.1 432.7Z"/></clipPath>
<g clip-path="url(#covc)">
<rect x="47" y="338" width="290" height="199" fill="#b2eef6"/>
<path d="M97.6 412.1C109.6 412.3 99.3 412.9 102.2 413.3C105.1 413.7 111.4 414.6 115.1 414.4C118.8 414.2 121.3 413.3 124.4 412.1C127.5 410.9 131.1 409 133.8 407.4C136.5 405.8 138.9 403.9 140.8 402.7C142.7 401.5 143.9 400 145.4 400.4C146.9 400.8 148.1 403.2 150.1 405.1C152 407.1 154.4 410.4 157.1 412.1C159.8 413.9 163.4 414.4 166.5 415.6C169.6 416.8 172.7 417 175.8 419.1C178.9 421.2 182.1 425.7 185.2 428.4C188.3 431.1 191.2 434.6 194.5 435.4C197.8 436.2 201.8 435.4 205 433.1C208.2 430.8 210.1 424.3 213.4 421.4C216.7 418.5 221.1 417.2 225 415.6C228.9 414.1 233.2 412.5 236.7 412.1C240.2 411.7 243 412.5 246.1 413.3C249.2 414.1 252.3 415.6 255.4 416.8C258.5 418 262 420.7 264.7 420.3C267.4 419.9 270.8 417.3 271.8 414.4C272.8 411.5 271 406.2 270.6 402.7C270.2 399.2 268 397.3 269.4 393.4C270.8 389.5 274.9 381.9 278.8 379.4C282.7 376.9 280.4 378.4 292.8 378.2C305.2 378 342.3 324.6 353.5 378.2C364.7 431.8 413.9 646.4 360 700C306.1 753.6 85 748 30 700C-25 652 18.7 460 30 412C41.3 364 85.6 411.9 97.6 412.1Z" fill="#9ed2fa"/>
<path d="M75.4 487.2C76.5 488.6 81.6 484.7 84.7 484.9C87.8 485.1 90.9 487 94.1 488.4C97.2 489.8 99.9 492.3 103.4 493.1C106.9 493.8 111.2 493.3 115.1 493.1C119 492.9 122.9 492.5 126.8 491.9C130.6 491.3 134.9 490.5 138.4 489.6C141.9 488.6 144.7 487 147.8 486.1C150.9 485.1 153.6 484.7 157.1 483.7C160.6 482.7 165.7 480.9 168.8 480.2C171.9 479.5 174.1 480.9 175.8 479.5C177.6 478.2 178.5 475.2 179.3 472C180.1 468.9 180.6 463.6 180.5 460.4C180.4 457.2 179.4 454.8 178.6 452.9C177.8 450.9 177.8 449.2 175.8 448.7C173.8 448.2 169.6 449.9 166.5 449.9C163.3 449.9 160.2 448.5 157.1 448.7C154 448.9 150.9 450.2 147.8 451C144.7 451.8 141.2 452.6 138.4 453.4C135.7 454.1 134.1 455.9 131.4 455.7C128.7 455.5 124.8 453.2 122.1 452.2C119.4 451.2 117.4 449.9 115.1 449.9C112.7 449.9 110 450.4 108.1 452.2C106.1 453.9 106.1 457.4 103.4 460.4C100.7 463.3 96 467 91.7 469.7C87.4 472.4 80.4 473.8 77.7 476.7C75 479.6 74.2 485.9 75.4 487.2Z" fill="#b2eef6"/>
<path d="M97.6 347.8C101.6 346.1 118 344.9 122.1 347.8C126.2 350.8 123.2 361.7 122.1 365.4C120.9 369.1 118.2 368.9 115.1 370C112 371.2 105.5 373.5 103.4 372.4C101.3 371.2 103.2 365.4 102.2 363C101.3 360.7 98.3 360.9 97.6 358.4C96.8 355.8 93.5 349.6 97.6 347.8Z" fill="#9ed2fa"/>
<path d="M102.2 396.9 L108.1 396.9 L109.2 412.1 L102.2 412.1Z" fill="#9ed2fa"/>
<path d="M162 337.3C170.5 335.4 206.5 335.4 215.7 337.3C224.8 339.3 218 346.5 216.9 349C215.7 351.5 211.6 352.1 208.7 352.5C205.8 352.9 202.5 351.9 199.3 351.4C196.2 350.8 193.9 349.6 190 349C186.1 348.4 180.3 347.8 176 347.8C171.7 347.8 166.6 350.8 164.3 349C162 347.3 153.4 339.3 162 337.3Z" fill="#9ed2fa"/>
<path d="M269.4 391.1C271 387.2 274.9 381.5 278.8 379.4C282.7 377.2 290.4 375.9 292.8 378.2C295.1 380.5 291.2 390.5 292.8 393.4C294.3 396.3 300.2 389.1 302.1 395.7C304.1 402.3 304.5 423.8 304.5 433.1C304.5 442.4 307.8 448.7 302.1 451.8C296.5 454.9 275.6 458 270.6 451.8C265.5 445.6 271.9 422.6 271.8 414.4C271.6 406.2 269.8 406.6 269.4 402.7C269 398.8 267.9 395 269.4 391.1Z" fill="#9ed2fa"/>
<path d="M106.9 349C109.4 347.5 119.5 347.1 122.1 349C124.6 351 123.6 358.4 122.1 360.7C120.5 363 115.3 363.4 112.7 363C110.2 362.6 107.9 360.7 106.9 358.4C105.9 356 104.4 350.6 106.9 349Z" fill="#78b9f6"/>
<path d="M194.7 337.3C197.8 336 210.4 336 213.4 337.3C216.3 338.7 214.1 343.8 212.2 345.5C210.2 347.3 204.6 347.8 201.7 347.8C198.8 347.8 195.8 347.3 194.7 345.5C193.5 343.8 191.6 338.7 194.7 337.3Z" fill="#78b9f6"/>
<path d="M292.8 405.1C293.7 401.2 299.3 401.2 300.9 405.1C302.6 409 303.6 424.5 302.6 428.4C301.6 432.3 296.7 432.3 295.1 428.4C293.5 424.5 291.8 409 292.8 405.1Z" fill="#78b9f6"/>
<path d="M104.6 432.3C104.8 437.4 104 443.8 105.7 446.4C107.5 448.9 112 446.7 115.1 447.5C118.2 448.3 121.3 450.1 124.4 451C127.5 451.9 130.6 452.5 133.8 452.9C136.9 453.3 139.6 453.4 143.1 453.4C146.6 453.4 150.9 453.1 154.8 452.9C158.7 452.7 163 452.7 166.5 452.2C170 451.7 172.7 451.2 175.8 449.9C178.9 448.5 182 445.8 185.1 444C188.3 442.3 191 440.3 194.5 439.3C198 438.4 202.7 437.8 206.2 438.2C209.7 438.6 212.8 441.9 215.5 441.7C218.2 441.5 219.8 439.7 222.5 437C225.2 434.3 229.1 428.1 231.9 425.3C234.6 422.6 236.1 421.8 238.9 420.7C241.6 419.5 245.1 417.9 248.2 418.3C251.3 418.7 254.8 421 257.6 423C260.3 424.9 263 431.2 264.6 430C266.1 428.8 293.6 418.3 266.9 416C240.2 413.6 131.6 413.3 104.6 416C77.5 418.7 104.4 427.3 104.6 432.3Z" fill="#78b9f6"/>
<path d="M40.3 458C42.7 439.3 51.2 456.5 54.3 458C57.5 459.6 56.7 462.3 59 467.4C61.4 472.4 65.2 483.9 68.4 488.4C71.5 492.9 74.2 492.9 77.7 494.2C81.2 495.6 85.9 495.8 89.4 496.6C92.9 497.3 95.6 498.3 98.7 498.9C101.8 499.5 105 500.3 108.1 500.1C111.2 499.9 113.9 498.5 117.4 497.7C120.9 497 125.6 496.2 129.1 495.4C132.6 494.6 135.3 494 138.4 493.1C141.5 492.1 144.7 490.5 147.8 489.6C150.9 488.6 153.6 488.2 157.1 487.2C160.6 486.3 165.3 484.2 168.8 483.7C172.3 483.2 175 483.8 178.1 484.2C181.3 484.6 183 486.1 187.5 486.1C192 486.1 197.6 485.7 205 484.2C212.4 482.6 223.5 479.9 231.9 476.7C240.2 473.5 247.4 468.9 255.2 465C263 461.1 270.8 453.4 278.6 453.4C286.4 453.4 296.1 457.3 301.9 465C307.8 472.8 311.7 482.6 313.6 500.1C315.6 517.6 359.2 558.5 313.6 570.1C268.1 581.8 85.9 588.8 40.3 570.1C-5.2 551.5 38 476.7 40.3 458Z" fill="#78b9f6"/>
<path d="M199.4 429.2C201.6 426.5 209.1 425.5 213.4 425.7C217.7 425.9 221.2 428.8 225.1 430.4C229 431.9 232.5 434.6 236.8 435C241.1 435.4 246.1 434.3 250.8 432.7C255.5 431.1 259.4 427.8 264.8 425.7C270.3 423.6 280.4 408.6 283.5 419.9C286.6 431.1 297.5 481.2 283.5 493.4C269.5 505.7 213.8 496.2 199.4 493.4C185 490.7 196.9 481.8 197.1 477.1C197.3 472.4 200.6 468.9 200.6 465.4C200.6 461.9 197.1 460 197.1 456.1C197.1 452.2 200.2 446.5 200.6 442C201 437.6 197.3 431.9 199.4 429.2Z" fill="#78b9f6"/>
<path d="M267.1 427.7C253.5 429.6 269.8 436.2 271.8 439.3C273.7 442.5 276.8 443.6 278.8 446.4C280.7 449.1 282.3 452.2 283.4 455.7C284.6 459.2 284.6 463.9 285.8 467.4C286.9 470.9 288.9 473.2 290.4 476.7C292 480.2 294.7 484.5 295.1 488.4C295.5 492.3 292.8 496.6 292.8 500.1C292.8 503.6 293.6 506.7 295.1 509.4C296.7 512.1 299.4 514.9 302.1 516.4C304.8 518 308.3 519.1 311.5 518.8C314.6 518.4 317.7 515.6 320.8 514.1C323.9 512.5 324.7 510.2 330.1 509.4C335.6 508.6 349.6 523 353.5 509.4C357.4 495.8 367.9 441.3 353.5 427.7C339.1 414 280.7 425.7 267.1 427.7Z" fill="#9ed2fa"/>
<path d="M283.4 427.7C286 425.7 298.2 424.2 302.1 427.7C306 431.2 305.2 443.2 306.8 448.7C308.3 454.1 311.5 457.3 311.5 460.4C311.5 463.5 308.7 467 306.8 467.4C304.8 467.8 302.1 465.4 299.8 462.7C297.4 460 294.9 454.9 292.8 451C290.6 447.1 288.5 443.2 286.9 439.3C285.4 435.5 280.9 429.6 283.4 427.7Z" fill="#b2eef6"/>
<path d="M295.1 495.4C296.3 493.1 301.7 492.3 304.5 493.1C307.2 493.8 309.5 497.3 311.5 500.1C313.4 502.8 316.9 507.5 316.1 509.4C315.4 511.4 309.9 512.1 306.8 511.8C303.7 511.4 299.4 509.8 297.4 507.1C295.5 504.4 293.9 497.7 295.1 495.4Z" fill="#78b9f6"/>
<path d="M320.8 488.4C323.5 485.7 336.4 480.2 339.5 488.4C342.6 496.6 341 529.3 339.5 537.4C337.9 545.6 332.1 540.6 330.1 537.4C328.2 534.3 329 524.2 327.8 518.8C326.6 513.3 324.3 509.8 323.1 504.7C322 499.7 318.1 491.1 320.8 488.4Z" fill="#78b9f6"/>
<path d="M104.6 423C106.3 421.6 109.4 421.8 115.1 421.8C120.7 421.8 130.6 422.6 138.4 423C146.2 423.4 155.6 423.8 161.8 424.2C168 424.5 171.9 424.7 175.8 425.3C179.7 425.9 182 427.1 185.1 427.7C188.3 428.2 191.4 428.4 194.5 428.8C197.6 429.2 203.8 429.4 203.8 430C203.8 430.6 197.6 431.5 194.5 432.3C191.4 433.2 188.3 433.9 185.1 435.1C182 436.4 178.9 438.5 175.8 439.8C172.7 441.1 170 442.1 166.5 443.1C163 444 158.7 444.8 154.8 445.4C150.9 446 146.6 446.7 143.1 446.8C139.6 447 136.9 446.8 133.8 446.4C130.6 445.9 127.5 445 124.4 444C121.3 443 118.2 441.3 115.1 440.5C112 439.7 107.5 441.1 105.7 439.3C104 437.6 104.8 432.7 104.6 430C104.4 427.3 102.8 424.4 104.6 423Z" fill="#50a0f0"/>
<path d="M40.3 500.1C43.4 488.8 54.3 501.6 59 502.4C63.7 503.2 64.9 503.6 68.4 504.7C71.9 505.9 76.1 508.6 80 509.4C83.9 510.2 87.8 509.8 91.7 509.4C95.6 509 99.9 507.9 103.4 507.1C106.9 506.3 110.4 505.9 112.7 504.7C115.1 503.6 114.7 500.9 117.4 500.1C120.1 499.3 125.6 500.7 129.1 500.1C132.6 499.5 135.3 497.7 138.4 496.6C141.5 495.4 144.3 494.2 147.8 493.1C151.3 491.9 155.9 490.3 159.5 489.6C163 488.8 165.7 488.6 168.8 488.4C171.9 488.2 174.6 488.2 178.1 488.4C181.6 488.6 185.3 489.6 189.8 489.6C194.3 489.6 200.3 489.6 205 488.4C209.7 487.2 213.4 484.7 217.8 482.6C222.3 480.4 227.6 478.1 231.9 475.5C236.1 473 240 469.5 243.5 467.4C247 465.2 250.2 463.1 252.9 462.7C255.6 462.3 258.3 462.7 259.9 465C261.4 467.4 262.2 472.8 262.2 476.7C262.2 480.6 261.1 484.5 259.9 488.4C258.7 492.3 256.8 496.2 255.2 500.1C253.7 504 252.5 509 250.5 511.8C248.6 514.5 246.3 516 243.5 516.4C240.8 516.8 237.3 514.1 234.2 514.1C231.1 514.1 228.4 516.4 224.9 516.4C221.4 516.4 216.7 513.7 213.2 514.1C209.7 514.5 206.6 516 203.8 518.8C201.1 521.5 198.4 521.9 196.8 530.4C195.3 539 220.6 563.5 194.5 570.1C168.4 576.8 66 581.8 40.3 570.1C14.6 558.5 37.2 511.4 40.3 500.1Z" fill="#50a0f0"/>
<path d="M115.1 428.8C117.4 428.1 120.5 428.1 124.4 428.1C128.3 428.1 134.5 428.3 138.4 428.8C142.3 429.3 145.4 430.4 147.8 431.2C150.1 431.9 153.2 432.5 152.4 433.5C151.7 434.5 146.2 436 143.1 437C140 438 136.9 439.3 133.8 439.3C130.6 439.3 127.5 437.8 124.4 437C121.3 436.2 117.4 435.5 115.1 434.7C112.7 433.9 110.4 433.3 110.4 432.3C110.4 431.4 112.7 429.5 115.1 428.8Z" fill="#2580e8"/>
<path d="M117.4 570.1C104.4 561.6 116 529.3 116.2 518.8C116.4 508.2 116.8 509.4 118.6 507.1C120.3 504.7 123.8 505.1 126.8 504.7C129.7 504.4 133 505.5 136.1 504.7C139.2 504 142.3 501.6 145.4 500.1C148.6 498.5 152.1 496.6 154.8 495.4C157.5 494.2 159.1 493.5 161.8 493.1C164.5 492.7 168 493.3 171.1 493.1C174.2 492.9 177 491.9 180.5 491.9C184 491.9 189 492.7 192.2 493.1C195.3 493.5 196.4 493.6 199.2 494.2C201.9 494.8 205.8 494.8 208.5 496.6C211.2 498.3 214.7 501.8 215.5 504.7C216.3 507.7 215.1 512.1 213.2 514.1C211.2 516 206.6 514.9 203.8 516.4C201.1 518 198.4 514.5 196.8 523.4C195.3 532.4 207.7 562.4 194.5 570.1C181.3 577.9 130.5 578.7 117.4 570.1Z" fill="#2580e8"/>
<path d="M71.9 434.7 L89.4 434.7 L89.4 441.7 L82.4 441.7 L82.4 451 L71.9 451Z" fill="#2580e8"/>
<path d="M97.6 423C98.7 417.9 103.4 417.9 104.6 423C105.7 428.1 105.1 447.5 104.6 453.4C104 459.2 102.2 458 101.1 458C99.9 458 98.1 459.2 97.6 453.4C97 447.5 96.4 428.1 97.6 423Z" fill="#1565d6"/>
<path d="M122.1 425.3C123.1 424 128.7 423.6 131.4 424.2C134.1 424.7 138 427.3 138.4 428.8C138.8 430.4 135.9 432.9 133.8 433.5C131.6 434.1 127.5 433.7 125.6 432.3C123.6 431 121.1 426.7 122.1 425.3Z" fill="#1565d6"/>
<path d="M122.1 570.1C110 562 121.3 530.4 122.1 521.1C122.9 511.8 124 515.6 126.8 514.1C129.5 512.5 134.9 511.8 138.4 511.8C141.9 511.8 145 512.5 147.8 514.1C150.5 515.6 152.8 520.3 154.8 521.1C156.7 521.9 158.3 521.1 159.5 518.8C160.6 516.4 160.6 510.2 161.8 507.1C163 504 164.1 501.6 166.5 500.1C168.8 498.5 172.7 498.1 175.8 497.7C178.9 497.3 182 496.6 185.1 497.7C188.3 498.9 192.7 501.6 194.5 504.7C196.2 507.9 196 512.5 195.7 516.4C195.3 520.3 192.3 519.1 192.2 528.1C192 537.1 206.2 563.1 194.5 570.1C182.8 577.2 134.1 578.3 122.1 570.1Z" fill="#1565d6"/>
<path d="M80 434.7 L89.4 434.7 L89.4 441.7 L80 441.7Z" fill="#1565d6"/>
<path d="M113.9 382.9C115.1 380.4 118 380.2 119.7 380.5C121.5 380.9 123.4 382.3 124.4 385.2C125.4 388.1 126 394.8 125.6 398.1C125.2 401.4 123.8 403.7 122.1 405.1C120.3 406.4 116.6 407.8 115.1 406.2C113.5 404.7 112.9 399.6 112.7 395.7C112.5 391.8 112.7 385.4 113.9 382.9Z" fill="#fcc4c6"/>
<path d="M166.5 349C168.8 345.9 171.9 345.1 175.8 344.3C179.7 343.5 187.2 343.9 189.8 344.3C192.4 344.7 189.2 345.1 191.2 346.7C193.2 348.3 198 351.9 201.7 353.7C205.4 355.4 210.3 356.4 213.4 357.2C216.5 358 218.5 358.6 220.4 358.4C222.3 358.2 221.1 357.6 225 356C228.9 354.4 239.8 352.1 243.7 349C247.6 345.9 246.7 339.2 248.4 337.3C250.2 335.4 252.8 335.4 254.2 337.3C255.6 339.2 255.6 345.1 256.6 349C257.6 352.9 258.8 356.6 260.1 360.7C261.4 364.8 264.5 369.8 264.7 373.5C264.9 377.2 262.9 380.2 261.2 382.9C259.4 385.6 256.5 387.6 254.2 389.9C251.9 392.2 249.5 394.6 247.2 396.9C244.9 399.2 242.9 401.9 240.2 403.9C237.5 405.8 233.8 407.2 230.9 408.6C228 410 225.6 410.7 222.7 412.1C219.8 413.5 216.1 414.9 213.4 416.8C210.7 418.8 208.8 421.5 206.4 423.8C204.1 426.1 201.4 429.2 199.3 430.8C197.1 432.4 193.1 433.5 193.5 433.1C193.9 432.7 201.3 428.4 201.5 428.4C201.7 428.4 196.8 433.1 194.5 433.1C192.2 433.1 189.8 430.9 187.5 428.4C185.2 425.9 183.2 420.2 180.5 417.9C177.8 415.6 174.2 415.8 171.1 414.4C168 413 164.3 411.6 161.8 409.7C159.3 407.8 156.8 405.8 156 402.7C155.2 399.6 156.5 395.4 157.1 391.1C157.7 386.8 158.7 381.7 159.5 377C160.3 372.3 160.6 367.7 161.8 363C163 358.3 164.2 352.1 166.5 349Z" fill="#fcc4c6"/>
<path d="M95.2 475.5C96.2 473.2 98.1 468.3 99.9 465C101.6 461.7 103.8 457.8 105.7 455.7C107.7 453.6 109.6 452.2 111.6 452.2C113.5 452.2 115.7 453.9 117.4 455.7C119.2 457.4 120.1 460.9 122.1 462.7C124 464.5 126.8 466.2 129.1 466.2C131.4 466.2 133.4 463.9 136.1 462.7C138.8 461.5 142.3 460.2 145.4 459.2C148.6 458.2 151.7 457.1 154.8 456.9C157.9 456.7 161.4 456.7 164.1 458C166.8 459.4 169.8 462.9 171.1 465C172.5 467.2 173.1 469.1 172.3 470.9C171.5 472.6 169 474.4 166.5 475.5C163.9 476.7 160.2 477.1 157.1 477.9C154 478.7 150.9 479.1 147.8 480.2C144.7 481.4 141.5 483.7 138.4 484.9C135.3 486.1 132.6 486.6 129.1 487.2C125.6 487.8 121.3 488.4 117.4 488.4C113.5 488.4 109 488 105.7 487.2C102.4 486.4 99.5 485.1 97.6 483.7C95.6 482.4 94.4 480.4 94.1 479.1C93.7 477.7 94.2 477.9 95.2 475.5Z" fill="#fcc4c6"/>
<path d="M80 470.9 L87 470.9 L87 481.4 L81.2 481.4Z" fill="#fcc4c6"/>
<path d="M251.9 537.4C250 536.1 255.6 530.8 257.7 529.3C259.9 527.7 262.8 526.7 264.7 528.1C266.7 529.5 271.6 535.9 269.4 537.4C267.3 539 253.8 538.8 251.9 537.4Z" fill="#fcc4c6"/>
<path d="M172.3 365.4C173.1 362.3 173.7 359.8 175.8 358.4C178 357 182.1 356.4 185.2 357.2C188.3 358 193.7 361.6 194.5 363C195.3 364.4 188.8 365.1 190 365.4C191.2 365.7 198.4 364.5 201.7 364.9C205 365.3 208 368 209.9 367.7C211.8 367.4 211.6 364.4 213.4 363C215.1 361.6 217.5 360.5 220.4 359.5C223.3 358.5 227 357.8 230.9 357.2C234.8 356.6 241 355 243.7 356C246.4 357 246.4 360.3 247.2 363C248 365.7 248.6 369.7 248.4 372.4C248.2 375.1 248.1 377.1 246.1 379.4C244.1 381.7 239.8 384.1 236.7 386.4C233.6 388.7 229.7 394 227.4 393.4C225.1 392.8 224.6 385.8 222.7 382.9C220.8 380 217.8 376.7 215.7 375.9C213.6 375.1 212.2 377.4 209.9 378.2C207.6 379 203.5 378.5 201.7 380.6C199.9 382.8 200.5 388 199.3 391.1C198.1 394.2 196.2 397.3 194.7 399.2C193.1 401.1 189.7 403.7 190 402.7C190.4 401.7 196.8 394.2 196.8 393.4C196.8 392.6 191.7 398.9 189.8 398.1C187.9 397.3 187.2 391.4 185.2 388.7C183.2 386 180.4 383.6 178.1 381.7C175.7 379.8 172.1 379.7 171.1 377C170.1 374.3 171.5 368.5 172.3 365.4Z" fill="#f4a0a5"/>
<path d="M99.9 474.4C99.9 472 102 467.8 103.4 465C104.8 462.3 106.5 459.4 108.1 458C109.6 456.7 111.4 456.1 112.7 456.9C114.1 457.6 114.9 460.8 116.2 462.7C117.6 464.6 119.7 466.8 120.9 468.5C122.1 470.3 123.8 471.8 123.2 473.2C122.7 474.6 119.5 475.7 117.4 476.7C115.3 477.7 112.7 478.7 110.4 479.1C108.1 479.4 105.1 479.8 103.4 479.1C101.6 478.3 99.9 476.7 99.9 474.4Z" fill="#f4a0a5"/>
<path d="M134.9 468.5C135.7 466.8 139 463.9 140.8 463.9C142.5 463.9 145.2 466.6 145.4 468.5C145.6 470.5 143.5 474.6 141.9 475.5C140.4 476.5 137.3 475.5 136.1 474.4C134.9 473.2 134.1 470.3 134.9 468.5Z" fill="#f4a0a5"/>
<path d="M230.9 357.2 L239.1 357.2 L239.1 366.5 L230.9 366.5Z" fill="#ea8286"/>
<path d="M104.6 468.5C105 467 107.7 465 109.2 465C110.8 465 113.3 467.2 113.9 468.5C114.5 469.9 113.9 472.2 112.7 473.2C111.6 474.2 108.3 475.2 106.9 474.4C105.5 473.6 104.2 470.1 104.6 468.5Z" fill="#ea8286"/>
<rect x="223.1" y="517.1" width="7.6" height="19.3" fill="#fff"/>
</g>
<path d="M47.4 534.9v0.7M47.4 460.1v0.7M47.4 441.5v0.7M55.7 534.9v0.7M55.7 497.5v0.7M55.7 488.2v0.7M55.7 478.8v0.7M55.7 460.1v0.7M55.7 441.5v0.7M64.1 534.9v0.7M64.1 516.2v0.7M64.1 478.8v0.7M64.1 469.5v0.7M72.4 525.5v0.7M72.4 506.8v0.7M72.4 460.1v0.7M72.4 450.8v0.7M72.4 441.5v0.7M72.4 432.1v0.7M80.8 534.9v0.7M80.8 525.5v0.7M80.8 478.8v0.7M80.8 450.8v0.7M80.8 441.5v0.7M80.8 432.1v0.7M80.8 422.8v0.7M89.1 534.9v0.7M89.1 525.5v0.7M89.1 516.2v0.7M89.1 469.5v0.7M89.1 441.5v0.7M89.1 432.1v0.7M89.1 422.8v0.7M89.1 413.5v0.7M97.4 534.9v0.7M97.4 525.5v0.7M97.4 516.2v0.7M97.4 450.8v0.7M97.4 432.1v0.7M105.8 534.9v0.7M105.8 525.5v0.7M105.8 516.2v0.7M105.8 478.8v0.7M105.8 469.5v0.7M105.8 441.5v0.7M105.8 432.1v0.7M105.8 422.8v0.7M105.8 413.5v0.7M105.8 404.1v0.7M105.8 357.4v0.7M114.1 534.9v0.7M114.1 525.5v0.7M114.1 516.2v0.7M114.1 506.8v0.7M114.1 469.5v0.7M114.1 432.1v0.7M114.1 357.4v0.7M114.1 348.1v0.7M122.5 534.9v0.7M122.5 525.5v0.7M122.5 516.2v0.7M122.5 506.8v0.7M122.5 469.5v0.7M122.5 441.5v0.7M122.5 432.1v0.7M122.5 394.8v0.7M122.5 366.8v0.7M122.5 357.4v0.7M122.5 348.1v0.7M130.8 534.9v0.7M130.8 525.5v0.7M130.8 516.2v0.7M130.8 506.8v0.7M130.8 441.5v0.7M130.8 432.1v0.7M130.8 422.8v0.7M139.1 534.9v0.7M139.1 525.5v0.7M139.1 516.2v0.7M139.1 506.8v0.7M139.1 497.5v0.7M139.1 460.1v0.7M139.1 441.5v0.7M139.1 432.1v0.7M139.1 422.8v0.7M147.5 534.9v0.7M147.5 525.5v0.7M147.5 516.2v0.7M147.5 506.8v0.7M147.5 497.5v0.7M147.5 488.2v0.7M147.5 450.8v0.7M147.5 441.5v0.7M147.5 432.1v0.7M147.5 422.8v0.7M147.5 413.5v0.7M147.5 348.1v0.7M155.8 534.9v0.7M155.8 525.5v0.7M155.8 516.2v0.7M155.8 506.8v0.7M155.8 497.5v0.7M155.8 488.2v0.7M155.8 441.5v0.7M155.8 432.1v0.7M155.8 422.8v0.7M155.8 338.7v0.7M164.2 534.9v0.7M164.2 525.5v0.7M164.2 516.2v0.7M164.2 506.8v0.7M164.2 497.5v0.7M164.2 488.2v0.7M164.2 441.5v0.7M164.2 432.1v0.7M172.5 534.9v0.7M172.5 525.5v0.7M172.5 516.2v0.7M172.5 506.8v0.7M172.5 497.5v0.7M172.5 488.2v0.7M172.5 376.1v0.7M172.5 366.8v0.7M180.8 534.9v0.7M180.8 525.5v0.7M180.8 516.2v0.7M180.8 506.8v0.7M180.8 497.5v0.7M180.8 488.2v0.7M180.8 478.8v0.7M180.8 441.5v0.7M180.8 394.8v0.7M180.8 376.1v0.7M180.8 366.8v0.7M180.8 357.4v0.7M180.8 338.7v0.7M189.2 534.9v0.7M189.2 525.5v0.7M189.2 516.2v0.7M189.2 506.8v0.7M189.2 497.5v0.7M189.2 488.2v0.7M189.2 394.8v0.7M189.2 376.1v0.7M189.2 366.8v0.7M189.2 338.7v0.7M197.5 534.9v0.7M197.5 525.5v0.7M197.5 516.2v0.7M197.5 506.8v0.7M197.5 497.5v0.7M197.5 488.2v0.7M197.5 478.8v0.7M197.5 376.1v0.7M205.9 525.5v0.7M205.9 516.2v0.7M205.9 506.8v0.7M205.9 497.5v0.7M205.9 478.8v0.7M205.9 469.5v0.7M205.9 366.8v0.7M205.9 348.1v0.7M205.9 338.7v0.7M214.2 516.2v0.7M214.2 506.8v0.7M214.2 478.8v0.7M214.2 469.5v0.7M214.2 450.8v0.7M214.2 441.5v0.7M214.2 376.1v0.7M214.2 366.8v0.7M214.2 348.1v0.7M214.2 338.7v0.7M222.5 506.8v0.7M222.5 497.5v0.7M222.5 478.8v0.7M222.5 432.1v0.7M222.5 366.8v0.7M230.9 506.8v0.7M230.9 497.5v0.7M230.9 488.2v0.7M230.9 478.8v0.7M230.9 469.5v0.7M230.9 441.5v0.7M230.9 376.1v0.7M230.9 366.8v0.7M239.2 506.8v0.7M239.2 497.5v0.7M239.2 488.2v0.7M239.2 478.8v0.7M239.2 469.5v0.7M239.2 460.1v0.7M239.2 441.5v0.7M239.2 366.8v0.7M239.2 357.4v0.7M247.6 516.2v0.7M247.6 497.5v0.7M247.6 488.2v0.7M247.6 478.8v0.7M247.6 469.5v0.7M247.6 460.1v0.7M247.6 450.8v0.7M247.6 366.8v0.7M255.9 516.2v0.7M255.9 488.2v0.7M255.9 478.8v0.7M255.9 460.1v0.7M255.9 450.8v0.7M264.2 516.2v0.7M264.2 506.8v0.7M264.2 497.5v0.7M264.2 469.5v0.7M264.2 460.1v0.7M264.2 450.8v0.7M264.2 432.1v0.7M264.2 394.8v0.7M264.2 385.4v0.7M264.2 357.4v0.7M264.2 338.7v0.7M272.6 516.2v0.7M272.6 506.8v0.7M272.6 497.5v0.7M272.6 488.2v0.7M272.6 441.5v0.7M272.6 394.8v0.7M272.6 366.8v0.7M280.9 478.8v0.7M280.9 432.1v0.7M280.9 394.8v0.7M280.9 385.4v0.7M280.9 357.4v0.7M280.9 348.1v0.7M289.3 525.5v0.7M289.3 488.2v0.7M289.3 469.5v0.7M289.3 404.1v0.7M297.6 478.8v0.7M297.6 432.1v0.7M297.6 422.8v0.7M297.6 413.5v0.7M305.9 534.9v0.7M314.3 525.5v0.7M314.3 478.8v0.7M314.3 469.5v0.7M322.6 497.5v0.7M331 534.9v0.7M331 525.5v0.7M331 516.2v0.7" stroke="#a0705f" stroke-opacity="0.9" stroke-width="3.3" stroke-linecap="round" fill="none"/>
<path d="M180.8 338V536" stroke="#555" stroke-width="0.6" stroke-dasharray="1.5 1.5" fill="none"/>
<path class="cd" d="M106.9 427.3C108.3 426.3 112.2 423.1 115.1 421.4C118 419.7 121.3 418 124.4 417.2C127.5 416.4 130.6 416.4 133.8 416.8C136.9 417.1 140.4 418.2 143.1 419.1C145.8 419.9 147.4 421.7 150.1 421.9C152.8 422.1 156.3 421 159.5 420.3C162.6 419.5 165.7 417.8 168.8 417.2C171.9 416.6 174.6 416.6 178.1 416.8C181.6 416.9 185.3 417.5 189.8 418.2C194.3 418.9 202.5 420.5 205 421"/>
<path class="cd" d="M204.9 421C206.4 421.6 210 424.1 213.4 424.9C216.7 425.8 220.7 425.8 225 426.1C229.4 426.4 234.8 427 239.5 426.8C244.2 426.6 249.3 426 253.1 424.9C256.9 423.8 259.3 422 262.4 420.3C265.5 418.5 268.6 416.4 271.8 414.4C274.9 412.5 278.4 409.9 281.1 408.6C283.8 407.2 286 406.2 288.1 406.2C290.2 406.2 292.4 406.8 293.9 408.6C295.5 410.3 296.7 413.4 297.4 416.8C298.2 420.1 298 424.9 298.6 428.4C299.2 431.9 300 434.5 300.9 437.8C301.9 441.1 303.9 446.5 304.5 448.3"/>
<path class="cd" d="M106.9 433.1C108.3 432.7 112.2 431.4 115.1 430.8C118 430.2 121.3 429.4 124.4 429.6C127.5 429.8 130.6 431.2 133.8 431.9C136.9 432.7 140 434.1 143.1 434.3C146.2 434.5 149.3 433.5 152.4 433.1C155.6 432.7 158.7 431.9 161.8 431.9C164.9 431.9 168 432.4 171.1 433.1C174.2 433.8 178.9 435.4 180.5 435.9"/>
<path class="cd" d="M129.3 429.2C130.9 429.6 135.6 430.6 138.7 431.5C141.8 432.5 144.9 434.6 148 435C151.1 435.4 154.3 433.9 157.4 433.9C160.5 433.8 163.2 434.2 166.7 434.6C170.2 435 174.9 435.5 178.4 436.2C181.9 436.9 184.6 437.4 187.7 438.5C190.9 439.7 194 441.7 197.1 443.2C200.2 444.8 203.3 446.3 206.4 447.9C209.5 449.4 212.7 451.2 215.8 452.6C218.9 453.9 221.9 455.2 225.1 456.1C228.3 456.9 231.4 457.7 234.9 457.7C238.4 457.7 242.3 456.5 246.1 456.1C249.9 455.6 253.9 455.1 257.8 454.9C261.7 454.7 265.8 454.7 269.5 454.9C273.2 455.1 278.2 455.9 280 456.1"/>
<path class="cd" d="M279.9 455.7C280.9 456.9 283.6 460 285.8 462.7C287.9 465.4 290.4 468.5 292.8 472C295.1 475.5 297.1 479.8 299.8 483.7C302.5 487.6 306.2 491.9 309.1 495.4C312 498.9 314.8 502.4 317.3 504.7C319.8 507.1 322.2 508.8 324.3 509.4C326.4 510 329.2 508.4 330.1 508.2"/>
<path class="cd" d="M97.6 446.4C98.5 445.6 100.9 442.8 103.4 441.7C105.9 440.5 109.6 439.9 112.7 439.3C115.9 438.8 119 438 122.1 438.2C125.2 438.4 128.3 439.9 131.4 440.5C134.5 441.1 137.7 441.3 140.8 441.7C143.9 442.1 147 442.3 150.1 442.8C153.2 443.4 156.7 444 159.5 445.2C162.2 446.4 164.5 447.9 166.5 449.9C168.4 451.8 170.2 454.3 171.1 456.9C172.1 459.4 172.1 463.7 172.3 465"/>
<path class="cd" d="M171.9 465.4C171.6 466.2 170.5 467.7 170.2 470.1C169.9 472.4 169.4 476.9 170.2 479.4C171 481.9 172.7 483.9 174.9 485.3C177 486.6 180.1 487.3 183.1 487.6C186 487.9 189.3 487.1 192.4 486.9C195.5 486.7 198.2 486.4 201.8 486.4C205.3 486.4 209.5 487.1 213.4 486.9C217.3 486.7 221.2 485.9 225.1 485.3C229 484.6 233.3 483.3 236.8 482.9C240.3 482.5 243 482.5 246.1 482.9C249.2 483.3 252.4 483.7 255.5 485.3C258.6 486.8 262.1 489.7 264.8 492.3C267.5 494.8 269.3 498.3 271.8 500.4C274.4 502.6 278.6 504.3 280 505.1"/>
<path class="cd" d="M190 487.2C194.1 487 208.3 486.6 214.5 486.1C220.8 485.6 223.3 484.7 227.4 484.2C231.5 483.7 235.2 483.1 239.1 483.3C242.9 483.4 247.2 483.8 250.7 484.9C254.2 485.9 257 487.6 260.1 489.6C263.2 491.5 266.3 494 269.4 496.6C272.5 499.1 275.6 502 278.8 504.7C281.9 507.5 285 510.4 288.1 512.9C291.2 515.5 294.3 517.8 297.4 519.9C300.6 522.1 304.1 523.6 306.8 525.8C309.5 527.9 311.9 530.6 313.8 532.8C315.7 534.9 317.3 537.6 318 538.6"/>
<path class="cd" d="M98.7 453.4C99.9 452.8 102 449.7 105.7 449.9C109.4 450 118 452.8 120.9 454.5C123.8 456.3 123.2 458 123.2 460.4C123.2 462.7 122.3 466.4 120.9 468.5C119.5 470.7 117.4 471.8 115.1 473.2C112.7 474.6 109.6 475.7 106.9 476.7C104.2 477.7 101.6 478.1 98.7 479.1C95.8 480 92.5 481 89.4 482.6C86.3 484.1 82.6 486.1 80 488.4C77.5 490.7 75.9 493.5 74.2 496.6C72.4 499.7 70.7 503.4 69.5 507.1C68.4 510.8 67.4 515.3 67.2 518.8C67 522.3 67.2 525.2 68.4 528.1C69.5 531 73.2 534.9 74.2 536.3"/>
<path class="cd" d="M80 477.9C81.2 477.5 84.5 476.5 87 475.5C89.6 474.6 92.9 473.2 95.2 472C97.6 470.9 100.4 470.1 101.1 468.5C101.7 467 99.2 465.2 99.2 462.7C99.2 460.2 100.7 454.9 101.1 453.4"/>
<path class="cd" d="M53.2 507.1C53.6 505.5 54.5 500.9 55.5 497.7C56.5 494.6 57.8 491.3 59 488.4C60.2 485.5 61.4 482.9 62.5 480.2C63.7 477.5 65.4 473.4 66 472"/>
<path class="cd" d="M62.5 488.4C62.9 487 63.9 482.9 64.9 480.2C65.8 477.5 67.8 473.4 68.4 472"/>
<path class="cd" d="M68.4 491.2C68.7 489.8 69.9 485 70.7 482.6C71.5 480.1 72.6 477.7 73 476.7"/>
<path class="cd" d="M153.6 533.9C153.8 532.8 153.6 528.7 154.8 526.9C155.9 525.2 158.3 523.8 160.6 523.4C163 523 166.3 524.2 168.8 524.6C171.3 525 173.1 526 175.8 525.8C178.5 525.6 182 524 185.1 523.4C188.3 522.8 191.2 522.6 194.5 522.3C197.8 522 203.2 521.7 205 521.6"/>
<path class="cd" d="M205.2 521.6C205.8 521.7 206.9 521.6 208.7 522.3C210.4 523 214.2 523.4 215.7 525.8C217.2 528.1 217.3 534.5 217.6 536.3"/>
<path class="cd" d="M244.9 536.3C245.1 534.7 244.7 528.9 246.1 526.9C247.4 525 250.3 524.8 253.1 524.6C255.8 524.4 259.7 524.8 262.4 525.8C265.1 526.7 267.7 528.7 269.4 530.4C271.2 532.2 272.3 535.3 272.9 536.3"/>
<path class="cd" d="M71.9 439.3C73.2 439.1 77.5 439 80 438.2C82.6 437.4 85.3 436 87 434.7C88.8 433.3 90 430.8 90.5 430"/>
<path class="co" d="M125.1 339.1 L124.8 340.6 L126.1 342.6 L124 343.4 L121 343.8 L117.9 344.1 L117.4 342.1 L115.3 340.8 L112.8 340.6 L109.2 342.1 L105.6 343.6 L101.5 342.4 L98 342.8 L95.9 344.6 L93.4 348 L90.3 352.5 L87.2 356.5 L84.2 360.9 L81.3 364.2 L82.6 366.3 L85.2 363.9 L87 363.2 L86.7 365.3 L84.7 368.1 L86.7 370.3 L89.3 367.8 L91.8 369.3 L93.9 371.3 L95.9 368.3 L97.7 366.9 L96.6 370.3 L94.4 374.2 L93.4 379.2 L92.3 386.1 L91.3 392 L89.8 396.7 L88.2 401.9"/>
<path class="co" d="M98.1 366.8 L97.2 370.3 L95.9 376.2 L95.6 382.2 L96.2 388.1 L97 394 L97.4 399.9 L97.2 405.9 L98.1 411.8 L99.3 414.8 L100.1 411.8 L100.7 405.9 L101.3 399.9 L101.1 394 L101.5 388.1 L100.7 381.2 L99.7 374.2 L98.9 369.3Z"/>
<path class="co" d="M139.4 339.1 L137.3 342.1 L134.3 346.1 L131.2 349 L129.2 350.5 L130 353 L127.6 355 L126.6 359.4 L126.3 365.3 L127.1 371.3 L128.1 378.2 L129.2 383.1 L127.9 385.3 L126.3 388.1 L128.1 386.6 L130 382.9 L131.2 380.2 L134.3 375.2 L136.3 370.8 L139.4 366.3 L141.9 363.4 L140.9 359.4 L141.4 354.5 L143.5 350.5 L142.7 346.6 L141.2 343.6 L141.6 341.1 L142.2 339.1"/>
<path class="co" d="M93 389.4 L92 393.8 L89.9 399.8 L87.9 405.7 L85.8 409.7 L83.3 414.6 L80.7 418.6 L78.2 423.5 L76.1 423 L74.1 421 L71 424 L69 427.9 L67.9 432.4 L65.4 436.3 L63.8 438.8 L65.4 442.3 L65.9 446.2 L66.9 449.9"/>
<path class="co" d="M47.8 436.3 L50 432.4 L52.1 433.9 L50.5 438.3 L51.6 441.3 L54.1 438.3 L58.2 439.3 L59.2 443.3 L58.2 447.2 L60.3 449.9"/>
<path class="co" d="M95.5 411.1 L96.6 414.6 L99.6 417.1 L102.2 418.6 L104.2 417.1 L105.3 419.5 L102.7 421.5 L101.2 424 L98.6 426.5 L95.5 424.5 L93 424 L92 426.5 L93.5 428.9 L92 429.4 L90.9 426.5 L91.5 422.5 L93.5 419.5 L94.5 415.6Z"/>
<path class="co" d="M107.3 415.1 L109.4 412.8"/>
<path class="co" d="M110.4 411.8 L112.2 410.2"/>
<path class="co" d="M113 409.5 L114.5 408.3"/>
<path class="co" d="M64.4 437.3 L65.9 442.2 L67.9 447.1 L69 453.1 L67.9 459 L65.9 462.5 L62.8 464.4 L61.3 462.5 L60.8 458 L59.2 454.1 L57.7 450.1 L59.2 447.1 L58.2 443.2 L55.1 442.2 L52.1 441.2 L50 442.7 L53.1 439.2 L55.1 437.3"/>
<path class="co" d="M92.8 428.9 L94 431.3 L95 435.3 L95.5 442.2 L95 448.1 L94.5 453.1 L94 457 L92 459 L88.9 461.5 L85.8 462 L82.8 463 L81.7 464.9 L79.7 465.4 L78.2 464.9 L77.6 466.9 L74.6 467.9 L73.6 470.9 L74.1 473.8 L73.6 477.8 L72 480.8 L70.7 479.8 L71 475.8 L71.5 471.9 L69 469.9 L69.5 467.4 L72 465.4 L74.6 463.5 L76.6 460.5 L79.2 458 L82.3 456.5 L84.3 454.1 L85.8 450.1 L87.4 447.1 L89.4 444.2 L90.4 441.2 L91.5 436.3 L91.8 432.3Z"/>
<path class="co" d="M74.6 466.4 L77.6 465.1 L79.2 466.4 L76.6 468.4 L74.6 467.9Z"/>
<path class="co" d="M47.8 450.1 L51.1 449.1 L53.3 450.9 L50 453.1 L48 455.3"/>
<path class="co" d="M47.8 463 L50 467.9 L51.6 472.9 L50 477.8 L52.1 482.7 L51.1 487.7 L50.5 493.6 L51.6 498.6 L52.6 501.5 L51.3 505.5 L51.6 508.9 L50 512.9 L47.8 517.3"/>
<path class="co" d="M50.6 509.5 L52.1 511.5 L51.7 517.4 L50.2 522.4 L48.6 524.5 L49 519.4 L49.5 513.5Z"/>
<path class="co" d="M209.5 339.1 L214.6 340.1 L219.7 339.6 L221.8 341.6 L223.8 344.1 L226.9 344.6 L228.4 346.1 L231 345.6 L231.5 349.5 L229.4 353 L226.4 356 L222.8 358.9 L218.7 361.9 L216.1 364.4 L217.2 365.3 L220.7 362.6 L224.8 359.9 L228.9 356.5 L233 352.5 L236.1 349 L239.1 345.6 L238.6 343.1 L240.7 341.1 L242.7 339.1"/>
<path class="co" d="M238.6 351.5 L242.7 347.1 L243.7 348.5 L240.2 353.5Z"/>
<path class="co" d="M215.1 365.5 L211 368.8"/>
<path class="co" d="M210 369.8 L207.9 371.3 L206.4 373.1 L205.4 374.7"/>
<path class="co" d="M244.3 343.6 L247.3 341.1 L250.4 340.4 L246.3 343.1Z"/>
<path class="co" d="M164 373.1 L165.8 374.4"/>
<path class="co" d="M186.4 378.6 L189 379.7"/>
<path class="co" d="M240 339.6 L244.1 342.4 L247.1 340.6 L251.2 339.6 L252.3 339.1"/>
<path class="co" d="M266.1 339.1 L270.7 340.6 L274.8 345.1 L278.9 348.5 L281.9 351.5 L285 352.5 L283.5 356 L287 359.4 L289.1 362.4 L292.1 365.3 L291.1 369.3 L294.2 374.2 L297.3 378.2 L297.8 383.1 L301.4 386.1 L305.4 390.1 L308.5 392 L308.7 396.7"/>
<path class="co" d="M285.5 368.3 L288.1 367.8 L290.1 377.2 L287.5 374.2Z"/>
<path class="co" d="M296.2 385.1 L299.3 384.1 L303.4 388.6 L309.5 393.5 L310 398.5 L307 396 L300.3 390.1Z"/>
<path class="co" d="M307.9 399.9 L304.8 397.4 L304.3 397.9 L305.8 402.8 L306.8 406.8 L305.3 414.7 L304.3 424.6 L304.8 434.5 L306.8 445.1"/>
<path class="co" d="M305.8 437.8 L307.3 443.2 L309.9 447.1 L309.4 451.1 L311.4 457 L313.5 463 L318.1 465.9 L320.6 469.9 L322.2 477.8 L324.2 484.7 L327.3 491.6 L329.8 495.6 L331.4 498.3"/>
<path class="co" d="M322.2 478.9 L324.2 485.8 L327.3 492.7 L325.8 497.1 L329.3 501.6 L331.9 507.5 L332.9 512.5 L335.5 517.4 L336.7 521.4"/>
<path class="co" d="M325.8 476.9 L326.3 479.8 L328.3 485.8 L331.4 491.7 L335.5 497.6 L336.7 500.6"/>
<path class="co" d="M325.8 476.9 L326.5 477.4 L329.3 477.9 L329.8 479.8 L332.4 485.8 L335.5 492.7 L336.7 495.7"/>
<path class="co" d="M225.4 524.1 L227.6 525.8"/>
<path class="co" d="M228.9 527.5 L230.7 529.2"/>
<path class="co" d="M232 530.9 L234.6 533.8"/>
<path class="co" d="M333.6 346 L335.6 341.6 L336.1 346.5"/>
<rect x="232.8" y="422.9" width="13.5" height="8" fill="#fff"/>
<text x="239.6" y="429.9" class="cl" text-anchor="middle">−60</text>
<rect x="228.2" y="453.7" width="13.5" height="8" fill="#fff"/>
<text x="234.9" y="460.7" class="cl" text-anchor="middle">−90</text>
<rect x="204.7" y="482.9" width="17.5" height="8" fill="#fff"/>
<text x="213.4" y="489.9" class="cl" text-anchor="middle">−120</text>
<rect x="105.2" y="445.9" width="17.5" height="8" fill="#fff"/>
<text x="113.9" y="452.9" class="cl" text-anchor="middle">−150</text>
<rect x="47.8" y="518.7" width="8.5" height="8" fill="#fff"/>
<text x="52" y="525.7" class="cl" text-anchor="middle">50</text>
</g>
<rect class="fr" x="47.4" y="339.1" width="289" height="196.1"/>
<path class="t" d="M47.4 535.2v3.8"/>
<text x="47.4" y="550.4" class="tk" text-anchor="middle">120° E</text>
<path class="t" d="M91.9 535.2v3.8"/>
<text x="91.9" y="550.4" class="tk" text-anchor="middle">140° E</text>
<path class="t" d="M136.4 535.2v3.8"/>
<text x="136.4" y="550.4" class="tk" text-anchor="middle">160° E</text>
<path class="t" d="M180.8 535.2v3.8"/>
<text x="180.8" y="550.4" class="tk" text-anchor="middle">180°</text>
<path class="t" d="M225.3 535.2v3.8"/>
<text x="225.3" y="550.4" class="tk" text-anchor="middle">160° W</text>
<path class="t" d="M269.8 535.2v3.8"/>
<text x="269.8" y="550.4" class="tk" text-anchor="middle">140° W</text>
<path class="t" d="M314.3 535.2v3.8"/>
<text x="314.3" y="550.4" class="tk" text-anchor="middle">120° W</text>
<path class="t" d="M47.4 339.1h-3.8"/>
<text x="39.9" y="342.2" class="tk" text-anchor="end">60° N</text>
<path class="t" d="M47.4 388.1h-3.8"/>
<text x="39.9" y="391.2" class="tk" text-anchor="end">50° N</text>
<path class="t" d="M47.4 437.2h-3.8"/>
<text x="39.9" y="440.3" class="tk" text-anchor="end">40° N</text>
<path class="t" d="M47.4 486.2h-3.8"/>
<text x="39.9" y="489.3" class="tk" text-anchor="end">30° N</text>
<path class="t" d="M47.4 535.2h-3.8"/>
<text x="39.9" y="538.3" class="tk" text-anchor="end">20° N</text>
</g>
<text x="191.8" y="256.3" class="ax" text-anchor="middle">Longitude</text>
<text x="493" y="256.3" class="ax" text-anchor="middle">Longitude</text>
<text x="191.8" y="566.5" class="ax" text-anchor="middle">Longitude</text>
<text class="ax" text-anchor="middle" transform="translate(9.3,123.5) rotate(-90)">Latitude</text>
<text class="ax" text-anchor="middle" transform="translate(9.3,437) rotate(-90)">Latitude</text>
<text class="ax" text-anchor="middle" transform="translate(675.2,124) rotate(90)">Latitude</text>
<text x="2.8" y="12.2" class="pl" text-anchor="start">a</text>
<text x="348.3" y="12.3" class="pl" text-anchor="start">b</text>
<text x="2.8" y="328.8" class="pl" text-anchor="start">c</text>
<text x="348.3" y="329" class="pl" text-anchor="start">d</text>
<g stroke="#222" stroke-width="0.7" stroke-linejoin="miter">
<path d="M66.4 272.9L39.8 276.2L66.4 279.5Z" fill="#1565d6"/>
<path d="M323.4 272.9L347.8 276.2L323.4 279.5Z" fill="#a82428"/>
<rect x="66.4" y="272.9" width="25.7" height="6.6" fill="#2580e8"/>
<rect x="92.1" y="272.9" width="25.7" height="6.6" fill="#50a0f0"/>
<rect x="117.8" y="272.9" width="25.7" height="6.6" fill="#78b9f6"/>
<rect x="143.5" y="272.9" width="25.7" height="6.6" fill="#9ed2fa"/>
<rect x="169.2" y="272.9" width="25.7" height="6.6" fill="#b2eef6"/>
<rect x="194.9" y="272.9" width="25.7" height="6.6" fill="#fcc4c6"/>
<rect x="220.6" y="272.9" width="25.7" height="6.6" fill="#f4a0a5"/>
<rect x="246.3" y="272.9" width="25.7" height="6.6" fill="#ea8286"/>
<rect x="272" y="272.9" width="25.7" height="6.6" fill="#e06264"/>
<rect x="297.7" y="272.9" width="25.7" height="6.6" fill="#c8383c"/>
</g>
<text x="66.4" y="292.3" class="tk" text-anchor="middle">−40</text>
<text x="92.1" y="292.3" class="tk" text-anchor="middle">−30</text>
<text x="117.8" y="292.3" class="tk" text-anchor="middle">−20</text>
<text x="143.5" y="292.3" class="tk" text-anchor="middle">−10</text>
<text x="169.2" y="292.3" class="tk" text-anchor="middle">−5</text>
<text x="194.9" y="292.3" class="tk" text-anchor="middle">0</text>
<text x="220.6" y="292.3" class="tk" text-anchor="middle">5</text>
<text x="246.3" y="292.3" class="tk" text-anchor="middle">10</text>
<text x="272" y="292.3" class="tk" text-anchor="middle">20</text>
<text x="297.7" y="292.3" class="tk" text-anchor="middle">30</text>
<text x="323.4" y="292.3" class="tk" text-anchor="middle">40</text>
<text x="195" y="308" class="ax" text-anchor="middle">Difference in OML depth (m)</text>
<g stroke="#222" stroke-width="0.7" stroke-linejoin="miter">
<path d="M367.6 272.9L342.5 276.2L367.6 279.5Z" fill="#1565d6"/>
<path d="M625.1 272.9L652 276.2L625.1 279.5Z" fill="#a82428"/>
<rect x="367.6" y="272.9" width="25.8" height="6.6" fill="#2580e8"/>
<rect x="393.4" y="272.9" width="25.8" height="6.6" fill="#50a0f0"/>
<rect x="419.1" y="272.9" width="25.8" height="6.6" fill="#78b9f6"/>
<rect x="444.9" y="272.9" width="25.8" height="6.6" fill="#9ed2fa"/>
<rect x="470.6" y="272.9" width="25.8" height="6.6" fill="#b2eef6"/>
<rect x="496.4" y="272.9" width="25.8" height="6.6" fill="#fcc4c6"/>
<rect x="522.1" y="272.9" width="25.8" height="6.6" fill="#f4a0a5"/>
<rect x="547.9" y="272.9" width="25.8" height="6.6" fill="#ea8286"/>
<rect x="573.6" y="272.9" width="25.8" height="6.6" fill="#e06264"/>
<rect x="599.4" y="272.9" width="25.8" height="6.6" fill="#c8383c"/>
</g>
<text x="367.6" y="292.3" class="tk" text-anchor="middle">−10</text>
<text x="393.4" y="292.3" class="tk" text-anchor="middle">−8</text>
<text x="419.1" y="292.3" class="tk" text-anchor="middle">−6</text>
<text x="444.9" y="292.3" class="tk" text-anchor="middle">−4</text>
<text x="470.6" y="292.3" class="tk" text-anchor="middle">−2</text>
<text x="496.4" y="292.3" class="tk" text-anchor="middle">0</text>
<text x="522.1" y="292.3" class="tk" text-anchor="middle">2</text>
<text x="547.9" y="292.3" class="tk" text-anchor="middle">4</text>
<text x="573.6" y="292.3" class="tk" text-anchor="middle">6</text>
<text x="599.4" y="292.3" class="tk" text-anchor="middle">8</text>
<text x="625.1" y="292.3" class="tk" text-anchor="middle">10</text>
<text x="496" y="308" class="ax" text-anchor="middle">Difference in net downward heat flux (W m<tspan baseline-shift="super" font-size="6.5px">−2</tspan>)</text>
<g stroke="#222" stroke-width="0.7" stroke-linejoin="miter">
<path d="M66.5 574.2L40.5 577.7L66.5 581.2Z" fill="#1565d6"/>
<path d="M323.5 574.2L348 577.7L323.5 581.2Z" fill="#a82428"/>
<rect x="66.5" y="574.2" width="25.7" height="7" fill="#2580e8"/>
<rect x="92.2" y="574.2" width="25.7" height="7" fill="#50a0f0"/>
<rect x="117.9" y="574.2" width="25.7" height="7" fill="#78b9f6"/>
<rect x="143.6" y="574.2" width="25.7" height="7" fill="#9ed2fa"/>
<rect x="169.3" y="574.2" width="25.7" height="7" fill="#b2eef6"/>
<rect x="195" y="574.2" width="25.7" height="7" fill="#fcc4c6"/>
<rect x="220.7" y="574.2" width="25.7" height="7" fill="#f4a0a5"/>
<rect x="246.4" y="574.2" width="25.7" height="7" fill="#ea8286"/>
<rect x="272.1" y="574.2" width="25.7" height="7" fill="#e06264"/>
<rect x="297.8" y="574.2" width="25.7" height="7" fill="#c8383c"/>
</g>
<text x="66.5" y="593.3" class="tk" text-anchor="middle">−10</text>
<text x="92.2" y="593.3" class="tk" text-anchor="middle">−8</text>
<text x="117.9" y="593.3" class="tk" text-anchor="middle">−6</text>
<text x="143.6" y="593.3" class="tk" text-anchor="middle">−4</text>
<text x="169.3" y="593.3" class="tk" text-anchor="middle">−2</text>
<text x="195" y="593.3" class="tk" text-anchor="middle">0</text>
<text x="220.7" y="593.3" class="tk" text-anchor="middle">2</text>
<text x="246.4" y="593.3" class="tk" text-anchor="middle">4</text>
<text x="272.1" y="593.3" class="tk" text-anchor="middle">6</text>
<text x="297.8" y="593.3" class="tk" text-anchor="middle">8</text>
<text x="323.5" y="593.3" class="tk" text-anchor="middle">10</text>
<text x="195" y="609.2" class="ax" text-anchor="middle">Difference in downward latent heat flux (W m<tspan baseline-shift="super" font-size="6.5px">−2</tspan>)</text>
<g>
<rect x="387.2" y="379.9" width="19.5" height="116" fill="#d85053"/>
<rect x="435.5" y="358.2" width="19.4" height="137.7" fill="#d85053"/>
<rect x="483.5" y="495.9" width="19.7" height="27" fill="#3f9af0"/>
<rect x="488" y="495.9" width="10.6" height="27.8" fill="#000"/>
<rect x="531.9" y="495.9" width="19.1" height="2.2" fill="#3f9af0"/>
<rect x="579.7" y="386.2" width="19.7" height="109.7" fill="#d85053"/>
<path d="M396.6 340.7V535.1" stroke="#333" stroke-width="0.9" stroke-dasharray="1 4.6" fill="none"/>
<path d="M445 340.7V535.1" stroke="#333" stroke-width="0.9" stroke-dasharray="1 4.6" fill="none"/>
<path d="M493.4 340.7V535.1" stroke="#333" stroke-width="0.9" stroke-dasharray="1 4.6" fill="none"/>
<path d="M541.5 340.7V535.1" stroke="#333" stroke-width="0.9" stroke-dasharray="1 4.6" fill="none"/>
<path d="M589.6 340.7V535.1" stroke="#333" stroke-width="0.9" stroke-dasharray="1 4.6" fill="none"/>
<path d="M350.6 378.4H637.2" stroke="#999" stroke-width="0.9" stroke-dasharray="1 4.6" fill="none"/>
<path d="M350.6 417.6H637.2" stroke="#999" stroke-width="0.9" stroke-dasharray="1 4.6" fill="none"/>
<path d="M350.6 456.7H637.2" stroke="#999" stroke-width="0.9" stroke-dasharray="1 4.6" fill="none"/>
<path d="M350.6 495.9H637.2" stroke="#999" stroke-width="0.9" stroke-dasharray="1 4.6" fill="none"/>
<path class="fr" d="M348.6 339.2H637.2V535.1"/>
<path class="fr" d="M348.6 339.2V538.6"/>
<path class="fr" d="M348.6 535.1H637.2"/>
<path class="t" d="M637.2 339.2h3.8"/>
<text x="644.7" y="342.3" class="tk" text-anchor="start">0.8</text>
<path class="t" d="M637.2 378.4h3.8"/>
<text x="644.7" y="381.5" class="tk" text-anchor="start">0.6</text>
<path class="t" d="M637.2 417.6h3.8"/>
<text x="644.7" y="420.7" class="tk" text-anchor="start">0.4</text>
<path class="t" d="M637.2 456.7h3.8"/>
<text x="644.7" y="459.8" class="tk" text-anchor="start">0.2</text>
<path class="t" d="M637.2 495.9h3.8"/>
<text x="644.7" y="499" class="tk" text-anchor="start">0</text>
<path class="t" d="M637.2 535.1h3.8"/>
<text x="644.7" y="538.2" class="tk" text-anchor="start">−0.2</text>
<path class="t" d="M396.6 535.1v3.8"/>
<path class="t" d="M445 535.1v3.8"/>
<path class="t" d="M493.4 535.1v3.8"/>
<path class="t" d="M541.5 535.1v3.8"/>
<path class="t" d="M589.6 535.1v3.8"/>
<text x="396.6" y="550" class="tk" text-anchor="middle">SSTA</text>
<text x="445" y="550" class="tk" text-anchor="middle">OML</text>
<text x="493.4" y="550" class="tk" text-anchor="middle">Heat flux</text>
<text x="493.4" y="558" class="tk" text-anchor="middle">(latent heat</text>
<text x="493.4" y="566" class="tk" text-anchor="middle">flux)</text>
<text x="541.5" y="550" class="tk" text-anchor="middle">Nonlinear</text>
<text x="589.6" y="550" class="tk" text-anchor="middle">All terms</text>
<text x="493" y="581" class="ax" text-anchor="middle">Term</text>
<text class="ax" style="font-size:10.45px" text-anchor="middle" transform="translate(667.6,438.5) rotate(90)">SSTA difference (°C)</text>
</g>
</svg></body></html>
